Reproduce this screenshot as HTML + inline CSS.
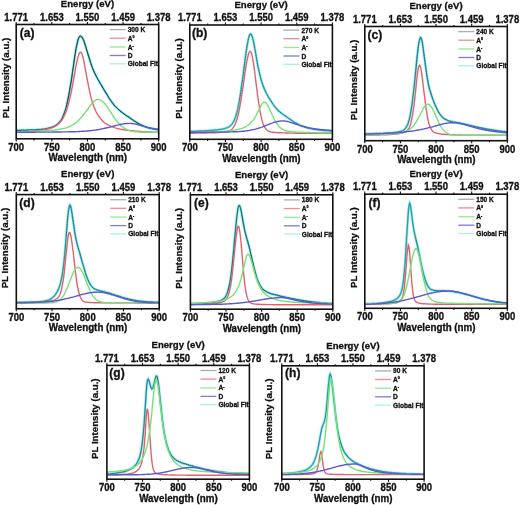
<!DOCTYPE html>
<html><head><meta charset="utf-8"><title>PL spectra</title>
<style>
html,body{margin:0;padding:0;background:#fff;}
svg{display:block;filter:blur(0.3px);}
text{font-family:'Liberation Sans', Arial, Helvetica, sans-serif;font-weight:bold;fill:#111;stroke:#111;stroke-width:0.3px;}
.tk{font-size:9.5px;text-anchor:middle;}
.ti{font-size:9.6px;text-anchor:middle;}
.tw{font-size:9.8px;text-anchor:middle;}
.yl{font-size:9.7px;text-anchor:middle;}
.pl{font-size:12px;}
.lg{font-size:6.6px;}
.sup{font-size:3.6px;}
</style></head>
<body>
<svg width="520" height="505" viewBox="0 0 520 505">
<defs><clipPath id="clipa"><rect x="16.2" y="24.5" width="142.50" height="114.30"/></clipPath>
<clipPath id="clipb"><rect x="189.8" y="25.0" width="142.60" height="114.30"/></clipPath>
<clipPath id="clipc"><rect x="364.8" y="26.5" width="142.50" height="114.20"/></clipPath>
<clipPath id="clipd"><rect x="16.3" y="194.6" width="142.90" height="114.15"/></clipPath>
<clipPath id="clipe"><rect x="190.4" y="194.8" width="142.40" height="114.40"/></clipPath>
<clipPath id="clipf"><rect x="364.8" y="194.2" width="142.50" height="114.10"/></clipPath>
<clipPath id="clipg"><rect x="106.9" y="365.4" width="142.50" height="113.80"/></clipPath>
<clipPath id="cliph"><rect x="281.8" y="365.8" width="142.30" height="113.40"/></clipPath></defs>
<rect width="520" height="505" fill="#fff"/>
<g clip-path="url(#clipa)">
<path d="M16.2,130.4 16.9,130.4 17.6,130.4 18.3,130.4 19.1,130.4 19.8,130.3 20.5,130.3 21.2,130.3 21.9,130.3 22.6,130.3 23.3,130.3 24.0,130.2 24.8,130.2 25.5,130.2 26.2,130.2 26.9,130.2 27.6,130.2 28.3,130.1 29.0,130.1 29.7,130.1 30.4,130.1 31.2,130.0 31.9,130.0 32.6,130.0 33.3,129.9 34.0,129.9 34.7,129.9 35.4,129.8 36.1,129.8 36.9,129.7 37.6,129.7 38.3,129.6 39.0,129.6 39.7,129.5 40.4,129.5 41.1,129.4 41.9,129.3 42.6,129.2 43.3,129.2 44.0,129.1 44.7,129.0 45.4,128.8 46.1,128.7 46.8,128.6 47.5,128.5 48.3,128.3 49.0,128.1 49.7,127.9 50.4,127.7 51.1,127.5 51.8,127.3 52.5,127.0 53.2,126.7 54.0,126.4 54.7,126.0 55.4,125.6 56.1,125.2 56.8,124.7 57.5,124.1 58.2,123.5 59.0,122.7 59.7,121.9 60.4,121.0 61.1,120.0 61.8,118.8 62.5,117.4 63.2,115.8 63.9,114.1 64.7,112.1 65.4,109.9 66.1,107.4 66.8,104.6 67.5,101.5 68.2,98.2 68.9,94.5 69.6,90.6 70.3,86.4 71.1,81.9 71.8,77.2 72.5,72.4 73.2,67.5 73.9,62.6 74.6,57.8 75.3,53.2 76.0,48.9 76.8,45.1 77.5,41.9 78.2,39.3 78.9,37.6 79.6,36.6 80.3,36.2 81.0,36.3 81.8,36.9 82.5,38.0 83.2,39.4 83.9,41.1 84.6,43.1 85.3,45.3 86.0,47.6 86.7,50.0 87.5,52.4 88.2,54.8 88.9,57.2 89.6,59.5 90.3,61.7 91.0,63.8 91.7,65.9 92.4,67.8 93.2,69.6 93.9,71.3 94.6,72.9 95.3,74.3 96.0,75.7 96.7,77.1 97.4,78.4 98.1,79.6 98.9,80.9 99.6,82.1 100.3,83.3 101.0,84.6 101.7,85.8 102.4,87.0 103.1,88.2 103.8,89.4 104.6,90.6 105.3,91.8 106.0,93.0 106.7,94.2 107.4,95.4 108.1,96.5 108.8,97.7 109.5,98.8 110.2,99.8 111.0,100.9 111.7,101.9 112.4,102.9 113.1,103.8 113.8,104.7 114.5,105.5 115.2,106.3 116.0,107.1 116.7,107.8 117.4,108.5 118.1,109.2 118.8,109.8 119.5,110.4 120.2,111.0 120.9,111.6 121.7,112.1 122.4,112.7 123.1,113.2 123.8,113.7 124.5,114.2 125.2,114.7 125.9,115.2 126.6,115.7 127.4,116.2 128.1,116.7 128.8,117.2 129.5,117.7 130.2,118.2 130.9,118.7 131.6,119.1 132.3,119.6 133.1,120.1 133.8,120.6 134.5,121.0 135.2,121.5 135.9,121.9 136.6,122.4 137.3,122.8 138.0,123.2 138.8,123.6 139.5,124.0 140.2,124.4 140.9,124.8 141.6,125.1 142.3,125.5 143.0,125.8 143.7,126.1 144.4,126.4 145.2,126.7 145.9,127.0 146.6,127.2 147.3,127.4 148.0,127.7 148.7,127.9 149.4,128.1 150.2,128.3 150.9,128.4 151.6,128.6 152.3,128.7 153.0,128.9 153.7,129.0 154.4,129.1 155.1,129.2 155.8,129.3 156.6,129.4 157.3,129.5 158.0,129.6 158.7,129.7" fill="none" stroke="#b4f1f4" stroke-width="3.0"/>
<path d="M16.2,130.4 16.9,130.4 17.6,130.4 18.3,130.4 19.1,130.4 19.8,130.3 20.5,130.3 21.2,130.3 21.9,130.3 22.6,130.3 23.3,130.3 24.0,130.2 24.8,130.2 25.5,130.2 26.2,130.2 26.9,130.2 27.6,130.2 28.3,130.1 29.0,130.1 29.7,130.1 30.4,130.1 31.2,130.0 31.9,130.0 32.6,130.0 33.3,129.9 34.0,129.9 34.7,129.9 35.4,129.8 36.1,129.8 36.9,129.7 37.6,129.7 38.3,129.6 39.0,129.6 39.7,129.5 40.4,129.5 41.1,129.4 41.9,129.3 42.6,129.2 43.3,129.2 44.0,129.1 44.7,129.0 45.4,128.8 46.1,128.7 46.8,128.6 47.5,128.5 48.3,128.3 49.0,128.1 49.7,127.9 50.4,127.7 51.1,127.5 51.8,127.3 52.5,127.0 53.2,126.7 54.0,126.4 54.7,126.0 55.4,125.6 56.1,125.2 56.8,124.7 57.5,124.1 58.2,123.5 59.0,122.7 59.7,121.9 60.4,121.0 61.1,120.0 61.8,118.8 62.5,117.4 63.2,115.8 63.9,114.1 64.7,112.1 65.4,109.9 66.1,107.4 66.8,104.6 67.5,101.5 68.2,98.2 68.9,94.5 69.6,90.6 70.3,86.4 71.1,81.9 71.8,77.2 72.5,72.4 73.2,67.5 73.9,62.6 74.6,57.8 75.3,53.2 76.0,48.9 76.8,45.1 77.5,41.9 78.2,39.3 78.9,37.6 79.6,36.6 80.3,36.2 81.0,36.3 81.8,36.9 82.5,38.0 83.2,39.4 83.9,41.1 84.6,43.1 85.3,45.3 86.0,47.6 86.7,50.0 87.5,52.4 88.2,54.8 88.9,57.2 89.6,59.5 90.3,61.7 91.0,63.8 91.7,65.9 92.4,67.8 93.2,69.6 93.9,71.3 94.6,72.9 95.3,74.3 96.0,75.7 96.7,77.1 97.4,78.4 98.1,79.6 98.9,80.9 99.6,82.1 100.3,83.3 101.0,84.6 101.7,85.8 102.4,87.0 103.1,88.2 103.8,89.4 104.6,90.6 105.3,91.8 106.0,93.0 106.7,94.2 107.4,95.4 108.1,96.5 108.8,97.7 109.5,98.8 110.2,99.8 111.0,100.9 111.7,101.9 112.4,102.9 113.1,103.8 113.8,104.7 114.5,105.5 115.2,106.3 116.0,107.1 116.7,107.8 117.4,108.5 118.1,109.2 118.8,109.8 119.5,110.4 120.2,111.0 120.9,111.6 121.7,112.1 122.4,112.7 123.1,113.2 123.8,113.7 124.5,114.2 125.2,114.7 125.9,115.2 126.6,115.7 127.4,116.2 128.1,116.7 128.8,117.2 129.5,117.7 130.2,118.2 130.9,118.7 131.6,119.1 132.3,119.6 133.1,120.1 133.8,120.6 134.5,121.0 135.2,121.5 135.9,121.9 136.6,122.4 137.3,122.8 138.0,123.2 138.8,123.6 139.5,124.0 140.2,124.4 140.9,124.8 141.6,125.1 142.3,125.5 143.0,125.8 143.7,126.1 144.4,126.4 145.2,126.7 145.9,127.0 146.6,127.2 147.3,127.4 148.0,127.7 148.7,127.9 149.4,128.1 150.2,128.3 150.9,128.4 151.6,128.6 152.3,128.7 153.0,128.9 153.7,129.0 154.4,129.1 155.1,129.2 155.8,129.3 156.6,129.4 157.3,129.5 158.0,129.6 158.7,129.7" fill="none" stroke="#40c0cc" stroke-width="1.5"/>
<path d="M16.2,130.2 16.9,130.2 17.6,130.2 18.3,130.6 19.1,130.6 19.8,130.2 20.5,130.5 21.2,130.1 21.9,130.2 22.6,130.1 23.3,130.1 24.0,130.1 24.8,130.5 25.5,130.4 26.2,130.1 26.9,130.1 27.6,130.0 28.3,130.0 29.0,129.8 29.7,130.4 30.4,130.0 31.2,129.8 31.9,129.8 32.6,129.8 33.3,130.2 34.0,129.7 34.7,130.1 35.4,129.8 36.1,129.7 36.9,129.6 37.6,129.8 38.3,129.8 39.0,129.8 39.7,129.6 40.4,129.5 41.1,129.4 41.9,129.1 42.6,129.3 43.3,129.2 44.0,129.0 44.7,129.2 45.4,128.9 46.1,128.7 46.8,128.5 47.5,128.4 48.3,128.1 49.0,128.1 49.7,127.8 50.4,127.7 51.1,127.3 51.8,127.5 52.5,126.8 53.2,126.7 54.0,126.3 54.7,126.0 55.4,125.5 56.1,125.0 56.8,124.5 57.5,124.4 58.2,123.2 59.0,122.7 59.7,122.1 60.4,121.0 61.1,120.2 61.8,119.0 62.5,117.7 63.2,115.8 63.9,114.0 64.7,112.3 65.4,110.1 66.1,107.4 66.8,104.8 67.5,101.3 68.2,98.2 68.9,94.4 69.6,90.7 70.3,86.1 71.1,82.1 71.8,77.3 72.5,72.3 73.2,67.6 73.9,62.5 74.6,57.9 75.3,53.1 76.0,48.6 76.8,45.0 77.5,41.8 78.2,39.6 78.9,37.5 79.6,36.4 80.3,36.0 81.0,36.4 81.8,37.0 82.5,38.0 83.2,39.5 83.9,40.8 84.6,43.2 85.3,45.5 86.0,47.4 86.7,50.0 87.5,52.7 88.2,55.0 88.9,57.0 89.6,59.2 90.3,61.7 91.0,63.7 91.7,65.6 92.4,67.8 93.2,69.7 93.9,71.3 94.6,73.0 95.3,74.2 96.0,75.9 96.7,77.1 97.4,78.2 98.1,79.8 98.9,81.0 99.6,82.2 100.3,83.5 101.0,84.7 101.7,85.5 102.4,87.2 103.1,88.2 103.8,89.5 104.6,90.5 105.3,91.9 106.0,93.1 106.7,94.0 107.4,95.2 108.1,96.3 108.8,97.8 109.5,98.6 110.2,99.9 111.0,100.6 111.7,101.7 112.4,102.9 113.1,103.6 113.8,104.8 114.5,105.8 115.2,106.3 116.0,106.9 116.7,107.6 117.4,108.4 118.1,109.1 118.8,109.6 119.5,110.4 120.2,111.2 120.9,111.3 121.7,112.3 122.4,112.5 123.1,113.4 123.8,113.7 124.5,114.5 125.2,114.8 125.9,115.5 126.6,115.7 127.4,116.2 128.1,116.9 128.8,117.1 129.5,117.7 130.2,118.3 130.9,118.6 131.6,119.1 132.3,119.4 133.1,120.4 133.8,120.9 134.5,121.3 135.2,121.3 135.9,122.1 136.6,122.7 137.3,123.0 138.0,123.1 138.8,123.5 139.5,124.3 140.2,124.6 140.9,125.0 141.6,125.0 142.3,125.4 143.0,125.7 143.7,126.1 144.4,126.3 145.2,126.5 145.9,126.9 146.6,127.1 147.3,127.2 148.0,127.8 148.7,127.9 149.4,127.9 150.2,128.5 150.9,128.2 151.6,128.4 152.3,128.5 153.0,129.1 153.7,128.7 154.4,129.0 155.1,129.0 155.8,129.6 156.6,129.2 157.3,129.6 158.0,129.6 158.7,129.8" fill="none" stroke="#1e3434" stroke-width="1.0" stroke-opacity="0.85"/>
<path d="M66.8,104.2 67.5,101.3 68.2,98.6 68.9,94.7 69.6,90.5 70.3,86.5 71.1,81.8 71.8,77.8 72.5,72.2 73.2,68.0 73.9,63.0 74.6,57.8 75.3,53.6 76.0,48.8 76.8,45.6 77.5,42.0 78.2,38.8 78.9,37.4 79.6,36.9 80.3,35.7 81.0,36.8 81.8,37.1 82.5,38.3 83.2,39.2 83.9,40.7 84.6,42.7 85.3,45.8 86.0,48.1 86.7,50.5 87.5,52.4 88.2,54.9 88.9,57.5 89.6,59.1 90.3,61.8 91.0,64.0 91.7,65.9 92.4,67.3 93.2,69.9 93.9,71.1 94.6,73.1 95.3,74.3 96.0,75.9 96.7,77.6 97.4,78.3 98.1,79.3 98.9,80.6 99.6,81.6 100.3,83.9 101.0,85.1 101.7,85.4 102.4,86.7 103.1,88.4 103.8,89.8 104.6,90.2 105.3,92.3 106.0,92.5 106.7,94.3 107.4,95.1 108.1,96.2 108.8,97.9 109.5,99.4 110.2,99.5 111.0,101.2 111.7,102.3 112.4,102.9 113.1,103.8 113.8,105.0 114.5,105.3 115.2,106.1 116.0,107.3 116.7,107.9 117.4,108.3 118.1,109.7 118.8,110.0 119.5,110.3 120.2,111.1 120.9,111.3 121.7,112.2 122.4,112.2 123.1,113.4 123.8,114.1 124.5,114.2 125.2,114.5 125.9,115.3 126.6,115.7 127.4,116.7 128.1,116.1 128.8,117.6 129.5,118.0 130.2,117.7 130.9,118.7 131.6,119.7 132.3,120.2 133.1,120.5 133.8,120.7 134.5,121.2 135.2,122.0 135.9,122.3 136.6,122.0 137.3,123.3 138.0,123.3 138.8,123.2 139.5,123.6 140.2,124.6 140.9,125.0 141.6,125.7 142.3,125.4 143.0,126.0 143.7,125.7 144.4,126.6 145.2,126.5 145.9,127.2 146.6,127.1 147.3,127.2 148.0,127.5 148.7,128.3 149.4,128.1 150.2,127.7 150.9,128.4 151.6,128.6 152.3,128.9 153.0,129.4 153.7,129.1 154.4,129.4 155.1,128.9 155.8,129.2 156.6,129.9 157.3,129.9 158.0,129.6 158.7,129.7" fill="none" stroke="#1a2a2a" stroke-width="0.9" stroke-dasharray="0.7 1.9" stroke-opacity="0.55"/>
<path d="M16.2,132.2 16.9,132.2 17.6,132.1 18.3,132.1 19.1,132.1 19.8,132.0 20.5,132.0 21.2,132.0 21.9,131.9 22.6,131.9 23.3,131.9 24.0,131.8 24.8,131.8 25.5,131.8 26.2,131.7 26.9,131.7 27.6,131.6 28.3,131.6 29.0,131.5 29.7,131.5 30.4,131.4 31.2,131.4 31.9,131.3 32.6,131.2 33.3,131.2 34.0,131.1 34.7,131.0 35.4,131.0 36.1,130.9 36.9,130.8 37.6,130.7 38.3,130.6 39.0,130.5 39.7,130.4 40.4,130.3 41.1,130.2 41.9,130.1 42.6,130.0 43.3,129.9 44.0,129.8 44.7,129.6 45.4,129.5 46.1,129.3 46.8,129.2 47.5,129.0 48.3,128.8 49.0,128.6 49.7,128.4 50.4,128.2 51.1,127.9 51.8,127.7 52.5,127.4 53.2,127.1 54.0,126.8 54.7,126.4 55.4,126.0 56.1,125.6 56.8,125.1 57.5,124.6 58.2,124.0 59.0,123.4 59.7,122.7 60.4,121.9 61.1,121.0 61.8,120.1 62.5,119.0 63.2,117.8 63.9,116.4 64.7,114.9 65.4,113.3 66.1,111.4 66.8,109.4 67.5,107.2 68.2,104.7 68.9,102.1 69.6,99.2 70.3,96.1 71.1,92.8 71.8,89.3 72.5,85.7 73.2,81.8 73.9,77.9 74.6,73.9 75.3,69.9 76.0,66.0 76.8,62.4 77.5,59.1 78.2,56.4 78.9,54.2 79.6,52.8 80.3,52.2 81.0,52.4 81.8,53.6 82.5,55.5 83.2,58.2 83.9,61.4 84.6,65.0 85.3,68.9 86.0,72.9 86.7,76.8 87.5,80.7 88.2,84.4 88.9,87.9 89.6,91.2 90.3,94.3 91.0,97.1 91.7,99.8 92.4,102.2 93.2,104.4 93.9,106.4 94.6,108.2 95.3,109.9 96.0,111.5 96.7,112.9 97.4,114.2 98.1,115.4 98.9,116.5 99.6,117.5 100.3,118.4 101.0,119.3 101.7,120.1 102.4,120.8 103.1,121.4 103.8,122.1 104.6,122.6 105.3,123.2 106.0,123.7 106.7,124.1 107.4,124.6 108.1,125.0 108.8,125.4 109.5,125.7 110.2,126.0 111.0,126.4 111.7,126.6 112.4,126.9 113.1,127.2 113.8,127.4 114.5,127.7 115.2,127.9 116.0,128.1 116.7,128.3 117.4,128.5 118.1,128.6 118.8,128.8 119.5,129.0 120.2,129.1 120.9,129.3 121.7,129.4 122.4,129.5 123.1,129.6 123.8,129.8 124.5,129.9 125.2,130.0 125.9,130.1 126.6,130.2 127.4,130.3 128.1,130.4 128.8,130.4 129.5,130.5 130.2,130.6 130.9,130.7 131.6,130.8 132.3,130.8 133.1,130.9 133.8,131.0 134.5,131.0 135.2,131.1 135.9,131.1 136.6,131.2 137.3,131.3 138.0,131.3 138.8,131.4 139.5,131.4 140.2,131.5 140.9,131.5 141.6,131.5 142.3,131.6 143.0,131.6 143.7,131.7 144.4,131.7 145.2,131.7 145.9,131.8 146.6,131.8 147.3,131.8 148.0,131.9 148.7,131.9 149.4,131.9 150.2,132.0 150.9,132.0 151.6,132.0 152.3,132.1 153.0,132.1 153.7,132.1 154.4,132.1 155.1,132.2 155.8,132.2 156.6,132.2 157.3,132.2 158.0,132.2 158.7,132.3" fill="none" stroke="#e2626c" stroke-width="1.4"/>
<path d="M16.2,131.6 16.9,131.6 17.6,131.6 18.3,131.6 19.1,131.6 19.8,131.6 20.5,131.6 21.2,131.5 21.9,131.5 22.6,131.5 23.3,131.5 24.0,131.5 24.8,131.5 25.5,131.5 26.2,131.4 26.9,131.4 27.6,131.4 28.3,131.4 29.0,131.4 29.7,131.3 30.4,131.3 31.2,131.3 31.9,131.3 32.6,131.3 33.3,131.2 34.0,131.2 34.7,131.2 35.4,131.2 36.1,131.1 36.9,131.1 37.6,131.1 38.3,131.1 39.0,131.0 39.7,131.0 40.4,131.0 41.1,130.9 41.9,130.9 42.6,130.9 43.3,130.8 44.0,130.8 44.7,130.8 45.4,130.7 46.1,130.7 46.8,130.6 47.5,130.6 48.3,130.5 49.0,130.5 49.7,130.4 50.4,130.4 51.1,130.3 51.8,130.3 52.5,130.2 53.2,130.1 54.0,130.1 54.7,130.0 55.4,129.9 56.1,129.8 56.8,129.7 57.5,129.6 58.2,129.5 59.0,129.4 59.7,129.3 60.4,129.2 61.1,129.1 61.8,128.9 62.5,128.8 63.2,128.6 63.9,128.4 64.7,128.3 65.4,128.1 66.1,127.8 66.8,127.6 67.5,127.4 68.2,127.1 68.9,126.8 69.6,126.5 70.3,126.2 71.1,125.8 71.8,125.4 72.5,125.0 73.2,124.6 73.9,124.1 74.6,123.6 75.3,123.1 76.0,122.6 76.8,122.0 77.5,121.4 78.2,120.7 78.9,120.0 79.6,119.3 80.3,118.6 81.0,117.8 81.8,117.0 82.5,116.1 83.2,115.2 83.9,114.3 84.6,113.4 85.3,112.4 86.0,111.5 86.7,110.5 87.5,109.5 88.2,108.5 88.9,107.5 89.6,106.6 90.3,105.6 91.0,104.7 91.7,103.8 92.4,103.0 93.2,102.2 93.9,101.5 94.6,100.9 95.3,100.4 96.0,100.0 96.7,99.7 97.4,99.5 98.1,99.5 98.9,99.5 99.6,99.7 100.3,100.0 101.0,100.3 101.7,100.8 102.4,101.3 103.1,102.0 103.8,102.7 104.6,103.5 105.3,104.3 106.0,105.3 106.7,106.2 107.4,107.2 108.1,108.3 108.8,109.3 109.5,110.4 110.2,111.5 111.0,112.6 111.7,113.7 112.4,114.8 113.1,115.9 113.8,117.0 114.5,118.0 115.2,119.0 116.0,120.0 116.7,120.9 117.4,121.8 118.1,122.6 118.8,123.4 119.5,124.2 120.2,124.9 120.9,125.6 121.7,126.2 122.4,126.8 123.1,127.3 123.8,127.9 124.5,128.3 125.2,128.7 125.9,129.1 126.6,129.5 127.4,129.8 128.1,130.1 128.8,130.3 129.5,130.6 130.2,130.8 130.9,131.0 131.6,131.1 132.3,131.3 133.1,131.4 133.8,131.5 134.5,131.6 135.2,131.7 135.9,131.8 136.6,131.8 137.3,131.9 138.0,131.9 138.8,132.0 139.5,132.0 140.2,132.1 140.9,132.1 141.6,132.1 142.3,132.1 143.0,132.1 143.7,132.2 144.4,132.2 145.2,132.2 145.9,132.2 146.6,132.2 147.3,132.2 148.0,132.2 148.7,132.2 149.4,132.2 150.2,132.2 150.9,132.2 151.6,132.2 152.3,132.2 153.0,132.2 153.7,132.2 154.4,132.2 155.1,132.3 155.8,132.3 156.6,132.3 157.3,132.3 158.0,132.3 158.7,132.3" fill="none" stroke="#74e274" stroke-width="1.4"/>
<path d="M16.2,132.2 16.9,132.2 17.6,132.2 18.3,132.2 19.1,132.2 19.8,132.2 20.5,132.2 21.2,132.2 21.9,132.2 22.6,132.2 23.3,132.2 24.0,132.2 24.8,132.2 25.5,132.2 26.2,132.2 26.9,132.2 27.6,132.2 28.3,132.2 29.0,132.2 29.7,132.2 30.4,132.2 31.2,132.2 31.9,132.2 32.6,132.2 33.3,132.2 34.0,132.2 34.7,132.2 35.4,132.2 36.1,132.1 36.9,132.1 37.6,132.1 38.3,132.1 39.0,132.1 39.7,132.1 40.4,132.1 41.1,132.1 41.9,132.1 42.6,132.1 43.3,132.1 44.0,132.1 44.7,132.1 45.4,132.1 46.1,132.1 46.8,132.1 47.5,132.1 48.3,132.1 49.0,132.1 49.7,132.1 50.4,132.1 51.1,132.1 51.8,132.1 52.5,132.0 53.2,132.0 54.0,132.0 54.7,132.0 55.4,132.0 56.1,132.0 56.8,132.0 57.5,132.0 58.2,132.0 59.0,132.0 59.7,132.0 60.4,132.0 61.1,132.0 61.8,131.9 62.5,131.9 63.2,131.9 63.9,131.9 64.7,131.9 65.4,131.9 66.1,131.9 66.8,131.9 67.5,131.9 68.2,131.8 68.9,131.8 69.6,131.8 70.3,131.8 71.1,131.8 71.8,131.8 72.5,131.7 73.2,131.7 73.9,131.7 74.6,131.7 75.3,131.7 76.0,131.6 76.8,131.6 77.5,131.6 78.2,131.5 78.9,131.5 79.6,131.5 80.3,131.4 81.0,131.4 81.8,131.4 82.5,131.3 83.2,131.3 83.9,131.2 84.6,131.2 85.3,131.1 86.0,131.1 86.7,131.0 87.5,131.0 88.2,130.9 88.9,130.8 89.6,130.8 90.3,130.7 91.0,130.6 91.7,130.5 92.4,130.4 93.2,130.4 93.9,130.3 94.6,130.2 95.3,130.1 96.0,130.0 96.7,129.8 97.4,129.7 98.1,129.6 98.9,129.5 99.6,129.4 100.3,129.2 101.0,129.1 101.7,128.9 102.4,128.8 103.1,128.6 103.8,128.5 104.6,128.3 105.3,128.2 106.0,128.0 106.7,127.8 107.4,127.7 108.1,127.5 108.8,127.3 109.5,127.1 110.2,127.0 111.0,126.8 111.7,126.6 112.4,126.4 113.1,126.2 113.8,126.0 114.5,125.8 115.2,125.7 116.0,125.5 116.7,125.3 117.4,125.1 118.1,125.0 118.8,124.8 119.5,124.6 120.2,124.5 120.9,124.3 121.7,124.2 122.4,124.1 123.1,123.9 123.8,123.8 124.5,123.7 125.2,123.6 125.9,123.6 126.6,123.5 127.4,123.5 128.1,123.4 128.8,123.4 129.5,123.4 130.2,123.4 130.9,123.5 131.6,123.5 132.3,123.6 133.1,123.7 133.8,123.8 134.5,123.9 135.2,124.1 135.9,124.2 136.6,124.4 137.3,124.6 138.0,124.8 138.8,125.0 139.5,125.2 140.2,125.4 140.9,125.6 141.6,125.8 142.3,126.0 143.0,126.2 143.7,126.4 144.4,126.6 145.2,126.7 145.9,126.9 146.6,127.1 147.3,127.3 148.0,127.5 148.7,127.6 149.4,127.8 150.2,127.9 150.9,128.1 151.6,128.2 152.3,128.4 153.0,128.5 153.7,128.6 154.4,128.8 155.1,128.9 155.8,129.0 156.6,129.1 157.3,129.2 158.0,129.3 158.7,129.4" fill="none" stroke="#5c58d2" stroke-width="1.4"/>
</g>
<rect x="16.2" y="24.5" width="142.50" height="114.30" fill="none" stroke="#111" stroke-width="1.6"/>
<line x1="16.20" y1="138.8" x2="16.20" y2="141.4" stroke="#111" stroke-width="1.1"/>
<line x1="16.20" y1="24.5" x2="16.20" y2="21.9" stroke="#111" stroke-width="1.1"/>
<line x1="34.01" y1="138.8" x2="34.01" y2="140.4" stroke="#111" stroke-width="1.1"/>
<line x1="34.01" y1="24.5" x2="34.01" y2="22.9" stroke="#111" stroke-width="1.1"/>
<line x1="51.83" y1="138.8" x2="51.83" y2="141.4" stroke="#111" stroke-width="1.1"/>
<line x1="51.83" y1="24.5" x2="51.83" y2="21.9" stroke="#111" stroke-width="1.1"/>
<line x1="69.64" y1="138.8" x2="69.64" y2="140.4" stroke="#111" stroke-width="1.1"/>
<line x1="69.64" y1="24.5" x2="69.64" y2="22.9" stroke="#111" stroke-width="1.1"/>
<line x1="87.45" y1="138.8" x2="87.45" y2="141.4" stroke="#111" stroke-width="1.1"/>
<line x1="87.45" y1="24.5" x2="87.45" y2="21.9" stroke="#111" stroke-width="1.1"/>
<line x1="105.26" y1="138.8" x2="105.26" y2="140.4" stroke="#111" stroke-width="1.1"/>
<line x1="105.26" y1="24.5" x2="105.26" y2="22.9" stroke="#111" stroke-width="1.1"/>
<line x1="123.08" y1="138.8" x2="123.08" y2="141.4" stroke="#111" stroke-width="1.1"/>
<line x1="123.08" y1="24.5" x2="123.08" y2="21.9" stroke="#111" stroke-width="1.1"/>
<line x1="140.89" y1="138.8" x2="140.89" y2="140.4" stroke="#111" stroke-width="1.1"/>
<line x1="140.89" y1="24.5" x2="140.89" y2="22.9" stroke="#111" stroke-width="1.1"/>
<line x1="158.70" y1="138.8" x2="158.70" y2="141.4" stroke="#111" stroke-width="1.1"/>
<line x1="158.70" y1="24.5" x2="158.70" y2="21.9" stroke="#111" stroke-width="1.1"/>
<text transform="translate(16.20,150.60) scale(1,1.15)" class="tk">700</text>
<text transform="translate(16.20,20.60) scale(1,1.15)" class="tk">1.771</text>
<text transform="translate(51.83,150.60) scale(1,1.15)" class="tk">750</text>
<text transform="translate(51.83,20.60) scale(1,1.15)" class="tk">1.653</text>
<text transform="translate(87.45,150.60) scale(1,1.15)" class="tk">800</text>
<text transform="translate(87.45,20.60) scale(1,1.15)" class="tk">1.550</text>
<text transform="translate(123.08,150.60) scale(1,1.15)" class="tk">850</text>
<text transform="translate(123.08,20.60) scale(1,1.15)" class="tk">1.459</text>
<text transform="translate(158.70,150.60) scale(1,1.15)" class="tk">900</text>
<text transform="translate(158.70,20.60) scale(1,1.15)" class="tk">1.378</text>
<text transform="translate(87.75,161.20) scale(1,1.02)" class="tw">Wavelength (nm)</text>
<text transform="translate(87.45,7.20) scale(1,1.0)" class="ti">Energy (eV)</text>
<text transform="translate(8.80,78.05) rotate(-90) scale(1,1.0)" class="yl">PL Intensity (a.u.)</text>
<text transform="translate(19.80,37.10) scale(1,1.0)" class="pl">(a)</text>
<line x1="109.70" y1="29.60" x2="125.70" y2="29.60" stroke="#ababab" stroke-width="1.3"/>
<text transform="translate(127.70,32.10) scale(1,1.1)" class="lg">300 K</text>
<line x1="109.70" y1="38.20" x2="125.70" y2="38.20" stroke="#f08a90" stroke-width="1.3"/>
<text transform="translate(127.70,40.70) scale(1,1.1)" class="lg">A<tspan class="sup" dy="-2.3">0</tspan></text>
<line x1="109.70" y1="47.00" x2="125.70" y2="47.00" stroke="#92ea92" stroke-width="1.3"/>
<text transform="translate(127.70,49.50) scale(1,1.1)" class="lg">A<tspan class="sup" dy="-2.3">-</tspan></text>
<line x1="109.70" y1="55.50" x2="125.70" y2="55.50" stroke="#7c7adc" stroke-width="1.3"/>
<text transform="translate(127.70,58.00) scale(1,1.1)" class="lg">D</text>
<line x1="109.70" y1="63.80" x2="125.70" y2="63.80" stroke="#a8eef0" stroke-width="1.3"/>
<text transform="translate(127.70,66.30) scale(1,1.1)" class="lg">Global Fit</text>
<g clip-path="url(#clipb)">
<path d="M189.8,131.4 190.5,131.4 191.2,131.3 191.9,131.3 192.7,131.3 193.4,131.3 194.1,131.3 194.8,131.2 195.5,131.2 196.2,131.2 196.9,131.2 197.6,131.1 198.4,131.1 199.1,131.1 199.8,131.1 200.5,131.0 201.2,131.0 201.9,131.0 202.6,130.9 203.3,130.9 204.1,130.9 204.8,130.8 205.5,130.8 206.2,130.7 206.9,130.7 207.6,130.7 208.3,130.6 209.1,130.6 209.8,130.5 210.5,130.5 211.2,130.4 211.9,130.4 212.6,130.3 213.3,130.2 214.0,130.2 214.8,130.1 215.5,130.0 216.2,130.0 216.9,129.9 217.6,129.8 218.3,129.7 219.0,129.6 219.7,129.5 220.5,129.4 221.2,129.3 221.9,129.2 222.6,129.0 223.3,128.9 224.0,128.7 224.7,128.5 225.4,128.3 226.2,128.1 226.9,127.9 227.6,127.6 228.3,127.2 229.0,126.8 229.7,126.3 230.4,125.7 231.2,125.0 231.9,124.2 232.6,123.2 233.3,122.1 234.0,120.7 234.7,119.1 235.4,117.2 236.1,115.0 236.9,112.5 237.6,109.6 238.3,106.3 239.0,102.7 239.7,98.7 240.4,94.3 241.1,89.6 241.8,84.6 242.6,79.3 243.3,73.8 244.0,68.3 244.7,62.7 245.4,57.3 246.1,52.1 246.8,47.3 247.6,43.0 248.3,39.4 249.0,36.7 249.7,34.8 250.4,33.9 251.1,34.1 251.8,35.4 252.5,37.6 253.3,40.5 254.0,44.0 254.7,47.8 255.4,51.8 256.1,55.9 256.8,59.9 257.5,63.8 258.2,67.5 259.0,70.9 259.7,74.0 260.4,76.9 261.1,79.5 261.8,81.9 262.5,84.1 263.2,86.1 264.0,87.9 264.7,89.6 265.4,91.1 266.1,92.6 266.8,94.0 267.5,95.3 268.2,96.5 268.9,97.8 269.7,99.0 270.4,100.1 271.1,101.2 271.8,102.3 272.5,103.4 273.2,104.4 273.9,105.4 274.6,106.4 275.4,107.3 276.1,108.1 276.8,108.9 277.5,109.7 278.2,110.4 278.9,111.1 279.6,111.7 280.4,112.3 281.1,112.9 281.8,113.5 282.5,114.0 283.2,114.5 283.9,115.0 284.6,115.5 285.3,116.0 286.1,116.5 286.8,117.0 287.5,117.5 288.2,118.0 288.9,118.5 289.6,119.0 290.3,119.5 291.0,120.0 291.8,120.5 292.5,121.0 293.2,121.4 293.9,121.9 294.6,122.3 295.3,122.7 296.0,123.1 296.8,123.5 297.5,123.9 298.2,124.3 298.9,124.6 299.6,124.9 300.3,125.3 301.0,125.6 301.7,125.9 302.5,126.2 303.2,126.4 303.9,126.7 304.6,126.9 305.3,127.2 306.0,127.4 306.7,127.6 307.4,127.8 308.2,128.0 308.9,128.1 309.6,128.3 310.3,128.5 311.0,128.6 311.7,128.8 312.4,128.9 313.1,129.0 313.9,129.2 314.6,129.3 315.3,129.4 316.0,129.5 316.7,129.6 317.4,129.7 318.1,129.8 318.9,129.9 319.6,129.9 320.3,130.0 321.0,130.1 321.7,130.2 322.4,130.2 323.1,130.3 323.8,130.3 324.6,130.4 325.3,130.5 326.0,130.5 326.7,130.6 327.4,130.6 328.1,130.6 328.8,130.7 329.5,130.7 330.3,130.8 331.0,130.8 331.7,130.8 332.4,130.9" fill="none" stroke="#b4f1f4" stroke-width="3.0"/>
<path d="M189.8,131.4 190.5,131.4 191.2,131.3 191.9,131.3 192.7,131.3 193.4,131.3 194.1,131.3 194.8,131.2 195.5,131.2 196.2,131.2 196.9,131.2 197.6,131.1 198.4,131.1 199.1,131.1 199.8,131.1 200.5,131.0 201.2,131.0 201.9,131.0 202.6,130.9 203.3,130.9 204.1,130.9 204.8,130.8 205.5,130.8 206.2,130.7 206.9,130.7 207.6,130.7 208.3,130.6 209.1,130.6 209.8,130.5 210.5,130.5 211.2,130.4 211.9,130.4 212.6,130.3 213.3,130.2 214.0,130.2 214.8,130.1 215.5,130.0 216.2,130.0 216.9,129.9 217.6,129.8 218.3,129.7 219.0,129.6 219.7,129.5 220.5,129.4 221.2,129.3 221.9,129.2 222.6,129.0 223.3,128.9 224.0,128.7 224.7,128.5 225.4,128.3 226.2,128.1 226.9,127.9 227.6,127.6 228.3,127.2 229.0,126.8 229.7,126.3 230.4,125.7 231.2,125.0 231.9,124.2 232.6,123.2 233.3,122.1 234.0,120.7 234.7,119.1 235.4,117.2 236.1,115.0 236.9,112.5 237.6,109.6 238.3,106.3 239.0,102.7 239.7,98.7 240.4,94.3 241.1,89.6 241.8,84.6 242.6,79.3 243.3,73.8 244.0,68.3 244.7,62.7 245.4,57.3 246.1,52.1 246.8,47.3 247.6,43.0 248.3,39.4 249.0,36.7 249.7,34.8 250.4,33.9 251.1,34.1 251.8,35.4 252.5,37.6 253.3,40.5 254.0,44.0 254.7,47.8 255.4,51.8 256.1,55.9 256.8,59.9 257.5,63.8 258.2,67.5 259.0,70.9 259.7,74.0 260.4,76.9 261.1,79.5 261.8,81.9 262.5,84.1 263.2,86.1 264.0,87.9 264.7,89.6 265.4,91.1 266.1,92.6 266.8,94.0 267.5,95.3 268.2,96.5 268.9,97.8 269.7,99.0 270.4,100.1 271.1,101.2 271.8,102.3 272.5,103.4 273.2,104.4 273.9,105.4 274.6,106.4 275.4,107.3 276.1,108.1 276.8,108.9 277.5,109.7 278.2,110.4 278.9,111.1 279.6,111.7 280.4,112.3 281.1,112.9 281.8,113.5 282.5,114.0 283.2,114.5 283.9,115.0 284.6,115.5 285.3,116.0 286.1,116.5 286.8,117.0 287.5,117.5 288.2,118.0 288.9,118.5 289.6,119.0 290.3,119.5 291.0,120.0 291.8,120.5 292.5,121.0 293.2,121.4 293.9,121.9 294.6,122.3 295.3,122.7 296.0,123.1 296.8,123.5 297.5,123.9 298.2,124.3 298.9,124.6 299.6,124.9 300.3,125.3 301.0,125.6 301.7,125.9 302.5,126.2 303.2,126.4 303.9,126.7 304.6,126.9 305.3,127.2 306.0,127.4 306.7,127.6 307.4,127.8 308.2,128.0 308.9,128.1 309.6,128.3 310.3,128.5 311.0,128.6 311.7,128.8 312.4,128.9 313.1,129.0 313.9,129.2 314.6,129.3 315.3,129.4 316.0,129.5 316.7,129.6 317.4,129.7 318.1,129.8 318.9,129.9 319.6,129.9 320.3,130.0 321.0,130.1 321.7,130.2 322.4,130.2 323.1,130.3 323.8,130.3 324.6,130.4 325.3,130.5 326.0,130.5 326.7,130.6 327.4,130.6 328.1,130.6 328.8,130.7 329.5,130.7 330.3,130.8 331.0,130.8 331.7,130.8 332.4,130.9" fill="none" stroke="#40c0cc" stroke-width="1.5"/>
<path d="M189.8,131.5 190.5,131.6 191.2,131.1 191.9,131.2 192.7,131.5 193.4,131.2 194.1,131.1 194.8,131.4 195.5,131.5 196.2,130.9 196.9,131.5 197.6,131.1 198.4,131.0 199.1,130.9 199.8,131.2 200.5,130.9 201.2,131.0 201.9,130.9 202.6,131.2 203.3,130.7 204.1,131.1 204.8,130.7 205.5,130.7 206.2,130.7 206.9,131.0 207.6,130.4 208.3,130.7 209.1,130.8 209.8,130.6 210.5,130.4 211.2,130.5 211.9,130.2 212.6,130.5 213.3,130.4 214.0,130.4 214.8,130.1 215.5,129.9 216.2,129.7 216.9,129.6 217.6,129.8 218.3,129.5 219.0,129.4 219.7,129.5 220.5,129.4 221.2,129.4 221.9,129.4 222.6,129.2 223.3,128.7 224.0,128.9 224.7,128.4 225.4,128.2 226.2,128.1 226.9,127.6 227.6,127.5 228.3,127.4 229.0,127.1 229.7,126.2 230.4,125.7 231.2,124.8 231.9,124.2 232.6,123.3 233.3,121.9 234.0,121.0 234.7,119.3 235.4,117.2 236.1,114.9 236.9,112.6 237.6,109.4 238.3,106.2 239.0,102.7 239.7,98.8 240.4,94.1 241.1,89.4 241.8,84.6 242.6,79.1 243.3,73.8 244.0,68.2 244.7,62.5 245.4,57.4 246.1,51.9 246.8,47.5 247.6,43.3 248.3,39.7 249.0,36.5 249.7,34.8 250.4,34.1 251.1,34.2 251.8,35.4 252.5,37.7 253.3,40.7 254.0,44.1 254.7,48.1 255.4,51.8 256.1,55.7 256.8,60.0 257.5,63.7 258.2,67.6 259.0,71.1 259.7,73.9 260.4,76.7 261.1,79.7 261.8,82.0 262.5,84.3 263.2,86.3 264.0,88.1 264.7,89.4 265.4,90.9 266.1,92.7 266.8,93.8 267.5,95.4 268.2,96.7 268.9,98.1 269.7,98.9 270.4,99.9 271.1,101.0 271.8,102.6 272.5,103.7 273.2,104.7 273.9,105.5 274.6,106.4 275.4,107.4 276.1,108.3 276.8,109.0 277.5,109.4 278.2,110.1 278.9,110.9 279.6,111.5 280.4,112.5 281.1,113.0 281.8,113.3 282.5,113.7 283.2,114.4 283.9,115.0 284.6,115.7 285.3,115.9 286.1,116.4 286.8,117.1 287.5,117.5 288.2,117.9 288.9,118.6 289.6,119.0 290.3,119.4 291.0,119.7 291.8,120.3 292.5,121.0 293.2,121.6 293.9,121.6 294.6,122.5 295.3,122.8 296.0,123.1 296.8,123.3 297.5,124.1 298.2,124.3 298.9,124.8 299.6,125.0 300.3,125.5 301.0,125.5 301.7,126.1 302.5,126.3 303.2,126.4 303.9,126.5 304.6,127.0 305.3,127.4 306.0,127.5 306.7,127.9 307.4,127.8 308.2,128.0 308.9,128.1 309.6,128.2 310.3,128.5 311.0,128.6 311.7,128.7 312.4,128.7 313.1,129.0 313.9,128.9 314.6,129.5 315.3,129.2 316.0,129.5 316.7,129.7 317.4,129.8 318.1,129.7 318.9,129.6 319.6,130.1 320.3,129.8 321.0,130.3 321.7,129.9 322.4,130.0 323.1,130.0 323.8,130.1 324.6,130.2 325.3,130.3 326.0,130.5 326.7,130.8 327.4,130.6 328.1,130.4 328.8,130.4 329.5,130.6 330.3,130.9 331.0,130.9 331.7,130.7 332.4,131.0" fill="none" stroke="#1e3434" stroke-width="1.0" stroke-opacity="0.25"/>
<path d="M239.7,98.7 240.4,93.8 241.1,89.5 241.8,84.6 242.6,79.6 243.3,73.9 244.0,67.8 244.7,62.8 245.4,57.3 246.1,52.1 246.8,47.4 247.6,43.2 248.3,39.4 249.0,36.2 249.7,35.1 250.4,33.7 251.1,34.6 251.8,35.2 252.5,37.1 253.3,40.2 254.0,44.2 254.7,48.2 255.4,51.5 256.1,56.1 256.8,60.4 257.5,64.3 258.2,68.0 259.0,70.8 259.7,74.5 260.4,77.4 261.1,79.8 261.8,82.4 262.5,84.4 263.2,85.7 264.0,88.3 264.7,89.4 265.4,91.1 266.1,93.1 266.8,94.5 267.5,95.4 268.2,96.0 268.9,98.1 269.7,98.8 270.4,100.4 271.1,101.1 271.8,102.7 272.5,103.5 273.2,104.4 273.9,105.7 274.6,106.6 275.4,107.4 276.1,107.9 276.8,109.1 277.5,110.3 278.2,110.0 278.9,111.4 279.6,111.6 280.4,112.7 281.1,112.8 281.8,113.5 282.5,114.0 283.2,114.8 283.9,114.6 284.6,115.3 285.3,116.2 286.1,116.3 286.8,117.2 287.5,117.3 288.2,117.8 288.9,118.9 289.6,118.8 290.3,120.1 291.0,120.3 291.8,120.0 292.5,121.4 293.2,121.9 293.9,122.0 294.6,122.5 295.3,122.5 296.0,122.9 296.8,123.4 297.5,123.6 298.2,124.7 298.9,124.3 299.6,124.5 300.3,124.9 301.0,126.1 301.7,125.8 302.5,125.9 303.2,126.5 303.9,126.7 304.6,127.4 305.3,127.3 306.0,127.0 306.7,127.5 307.4,127.9 308.2,128.0 308.9,127.6 309.6,128.3 310.3,128.5 311.0,128.5 311.7,128.6 312.4,128.8 313.1,128.5 313.9,129.2 314.6,129.2 315.3,129.6 316.0,129.2 316.7,129.2 317.4,129.3 318.1,129.3 318.9,130.4 319.6,129.8 320.3,129.5 321.0,130.2 321.7,129.7 322.4,130.5 323.1,130.4 323.8,130.2 324.6,130.9 325.3,131.0 326.0,130.2 326.7,130.5 327.4,130.8 328.1,130.7 328.8,130.9 329.5,130.7 330.3,130.4 331.0,130.5 331.7,130.7 332.4,131.4" fill="none" stroke="#1a2a2a" stroke-width="0.9" stroke-dasharray="0.7 1.9" stroke-opacity="0.55"/>
<path d="M189.8,133.2 190.5,133.2 191.2,133.2 191.9,133.2 192.7,133.2 193.4,133.2 194.1,133.2 194.8,133.2 195.5,133.2 196.2,133.1 196.9,133.1 197.6,133.1 198.4,133.1 199.1,133.1 199.8,133.1 200.5,133.1 201.2,133.1 201.9,133.1 202.6,133.1 203.3,133.0 204.1,133.0 204.8,133.0 205.5,133.0 206.2,133.0 206.9,133.0 207.6,132.9 208.3,132.9 209.1,132.9 209.8,132.9 210.5,132.9 211.2,132.8 211.9,132.8 212.6,132.8 213.3,132.8 214.0,132.7 214.8,132.7 215.5,132.7 216.2,132.7 216.9,132.6 217.6,132.6 218.3,132.5 219.0,132.5 219.7,132.5 220.5,132.4 221.2,132.4 221.9,132.3 222.6,132.2 223.3,132.2 224.0,132.1 224.7,132.0 225.4,131.9 226.2,131.8 226.9,131.6 227.6,131.4 228.3,131.2 229.0,131.0 229.7,130.6 230.4,130.3 231.2,129.8 231.9,129.2 232.6,128.4 233.3,127.5 234.0,126.5 234.7,125.1 235.4,123.6 236.1,121.7 236.9,119.6 237.6,117.1 238.3,114.3 239.0,111.1 239.7,107.5 240.4,103.5 241.1,99.3 241.8,94.7 242.6,89.9 243.3,85.0 244.0,80.0 244.7,75.0 245.4,70.1 246.1,65.5 246.8,61.4 247.6,57.8 248.3,54.8 249.0,52.7 249.7,51.6 250.4,51.3 251.1,52.3 251.8,54.4 252.5,57.7 253.3,61.8 254.0,66.6 254.7,71.9 255.4,77.6 256.1,83.3 256.8,89.0 257.5,94.6 258.2,99.8 259.0,104.6 259.7,109.0 260.4,113.0 261.1,116.4 261.8,119.4 262.5,121.9 263.2,124.0 264.0,125.7 264.7,127.2 265.4,128.3 266.1,129.2 266.8,129.9 267.5,130.5 268.2,130.9 268.9,131.3 269.7,131.5 270.4,131.8 271.1,131.9 271.8,132.1 272.5,132.2 273.2,132.3 273.9,132.3 274.6,132.4 275.4,132.5 276.1,132.5 276.8,132.6 277.5,132.6 278.2,132.7 278.9,132.7 279.6,132.7 280.4,132.8 281.1,132.8 281.8,132.8 282.5,132.9 283.2,132.9 283.9,132.9 284.6,132.9 285.3,133.0 286.1,133.0 286.8,133.0 287.5,133.0 288.2,133.0 288.9,133.0 289.6,133.1 290.3,133.1 291.0,133.1 291.8,133.1 292.5,133.1 293.2,133.1 293.9,133.1 294.6,133.2 295.3,133.2 296.0,133.2 296.8,133.2 297.5,133.2 298.2,133.2 298.9,133.2 299.6,133.2 300.3,133.2 301.0,133.2 301.7,133.2 302.5,133.2 303.2,133.3 303.9,133.3 304.6,133.3 305.3,133.3 306.0,133.3 306.7,133.3 307.4,133.3 308.2,133.3 308.9,133.3 309.6,133.3 310.3,133.3 311.0,133.3 311.7,133.3 312.4,133.3 313.1,133.3 313.9,133.3 314.6,133.3 315.3,133.3 316.0,133.3 316.7,133.3 317.4,133.3 318.1,133.3 318.9,133.3 319.6,133.4 320.3,133.4 321.0,133.4 321.7,133.4 322.4,133.4 323.1,133.4 323.8,133.4 324.6,133.4 325.3,133.4 326.0,133.4 326.7,133.4 327.4,133.4 328.1,133.4 328.8,133.4 329.5,133.4 330.3,133.4 331.0,133.4 331.7,133.4 332.4,133.4" fill="none" stroke="#e2626c" stroke-width="1.4"/>
<path d="M189.8,132.5 190.5,132.5 191.2,132.5 191.9,132.5 192.7,132.5 193.4,132.5 194.1,132.5 194.8,132.5 195.5,132.5 196.2,132.4 196.9,132.4 197.6,132.4 198.4,132.4 199.1,132.4 199.8,132.4 200.5,132.4 201.2,132.3 201.9,132.3 202.6,132.3 203.3,132.3 204.1,132.3 204.8,132.3 205.5,132.2 206.2,132.2 206.9,132.2 207.6,132.2 208.3,132.2 209.1,132.1 209.8,132.1 210.5,132.1 211.2,132.1 211.9,132.0 212.6,132.0 213.3,132.0 214.0,132.0 214.8,131.9 215.5,131.9 216.2,131.9 216.9,131.8 217.6,131.8 218.3,131.8 219.0,131.7 219.7,131.7 220.5,131.6 221.2,131.6 221.9,131.6 222.6,131.5 223.3,131.5 224.0,131.4 224.7,131.3 225.4,131.3 226.2,131.2 226.9,131.2 227.6,131.1 228.3,131.0 229.0,130.9 229.7,130.9 230.4,130.8 231.2,130.7 231.9,130.6 232.6,130.5 233.3,130.4 234.0,130.3 234.7,130.1 235.4,130.0 236.1,129.9 236.9,129.7 237.6,129.6 238.3,129.4 239.0,129.2 239.7,129.0 240.4,128.8 241.1,128.6 241.8,128.3 242.6,128.1 243.3,127.8 244.0,127.5 244.7,127.2 245.4,126.8 246.1,126.4 246.8,126.0 247.6,125.5 248.3,125.0 249.0,124.5 249.7,123.9 250.4,123.2 251.1,122.5 251.8,121.7 252.5,120.9 253.3,119.9 254.0,118.9 254.7,117.8 255.4,116.6 256.1,115.4 256.8,114.0 257.5,112.6 258.2,111.1 259.0,109.6 259.7,108.1 260.4,106.7 261.1,105.3 261.8,104.2 262.5,103.2 263.2,102.5 264.0,102.2 264.7,102.2 265.4,102.5 266.1,103.1 266.8,103.9 267.5,105.0 268.2,106.3 268.9,107.7 269.7,109.2 270.4,110.8 271.1,112.3 271.8,113.9 272.5,115.5 273.2,117.0 273.9,118.5 274.6,119.9 275.4,121.2 276.1,122.4 276.8,123.5 277.5,124.5 278.2,125.5 278.9,126.3 279.6,127.0 280.4,127.7 281.1,128.3 281.8,128.8 282.5,129.2 283.2,129.6 283.9,130.0 284.6,130.3 285.3,130.5 286.1,130.7 286.8,130.9 287.5,131.1 288.2,131.2 288.9,131.3 289.6,131.4 290.3,131.5 291.0,131.6 291.8,131.7 292.5,131.8 293.2,131.8 293.9,131.9 294.6,131.9 295.3,132.0 296.0,132.0 296.8,132.1 297.5,132.1 298.2,132.1 298.9,132.2 299.6,132.2 300.3,132.2 301.0,132.3 301.7,132.3 302.5,132.3 303.2,132.4 303.9,132.4 304.6,132.4 305.3,132.4 306.0,132.4 306.7,132.5 307.4,132.5 308.2,132.5 308.9,132.5 309.6,132.5 310.3,132.5 311.0,132.6 311.7,132.6 312.4,132.6 313.1,132.6 313.9,132.6 314.6,132.6 315.3,132.6 316.0,132.6 316.7,132.6 317.4,132.7 318.1,132.7 318.9,132.7 319.6,132.7 320.3,132.7 321.0,132.7 321.7,132.7 322.4,132.7 323.1,132.7 323.8,132.7 324.6,132.7 325.3,132.7 326.0,132.8 326.7,132.8 327.4,132.8 328.1,132.8 328.8,132.8 329.5,132.8 330.3,132.8 331.0,132.8 331.7,132.8 332.4,132.8" fill="none" stroke="#74e274" stroke-width="1.4"/>
<path d="M189.8,132.3 190.5,132.3 191.2,132.3 191.9,132.3 192.7,132.3 193.4,132.3 194.1,132.3 194.8,132.3 195.5,132.3 196.2,132.2 196.9,132.2 197.6,132.2 198.4,132.2 199.1,132.2 199.8,132.2 200.5,132.2 201.2,132.2 201.9,132.2 202.6,132.2 203.3,132.2 204.1,132.2 204.8,132.2 205.5,132.2 206.2,132.2 206.9,132.2 207.6,132.2 208.3,132.2 209.1,132.2 209.8,132.2 210.5,132.2 211.2,132.2 211.9,132.2 212.6,132.2 213.3,132.2 214.0,132.2 214.8,132.1 215.5,132.1 216.2,132.1 216.9,132.1 217.6,132.1 218.3,132.1 219.0,132.1 219.7,132.1 220.5,132.1 221.2,132.1 221.9,132.1 222.6,132.1 223.3,132.1 224.0,132.1 224.7,132.0 225.4,132.0 226.2,132.0 226.9,132.0 227.6,132.0 228.3,132.0 229.0,132.0 229.7,131.9 230.4,131.9 231.2,131.9 231.9,131.9 232.6,131.9 233.3,131.8 234.0,131.8 234.7,131.8 235.4,131.8 236.1,131.7 236.9,131.7 237.6,131.7 238.3,131.6 239.0,131.6 239.7,131.5 240.4,131.5 241.1,131.4 241.8,131.4 242.6,131.3 243.3,131.2 244.0,131.2 244.7,131.1 245.4,131.0 246.1,130.9 246.8,130.8 247.6,130.7 248.3,130.6 249.0,130.5 249.7,130.4 250.4,130.2 251.1,130.1 251.8,129.9 252.5,129.8 253.3,129.6 254.0,129.5 254.7,129.3 255.4,129.1 256.1,128.9 256.8,128.7 257.5,128.5 258.2,128.3 259.0,128.0 259.7,127.8 260.4,127.6 261.1,127.3 261.8,127.1 262.5,126.8 263.2,126.5 264.0,126.3 264.7,126.0 265.4,125.7 266.1,125.4 266.8,125.1 267.5,124.8 268.2,124.6 268.9,124.3 269.7,124.0 270.4,123.7 271.1,123.4 271.8,123.2 272.5,122.9 273.2,122.7 273.9,122.4 274.6,122.2 275.4,122.0 276.1,121.8 276.8,121.6 277.5,121.5 278.2,121.3 278.9,121.2 279.6,121.1 280.4,121.0 281.1,121.0 281.8,120.9 282.5,120.9 283.2,120.9 283.9,121.0 284.6,121.0 285.3,121.1 286.1,121.2 286.8,121.4 287.5,121.5 288.2,121.7 288.9,121.9 289.6,122.1 290.3,122.3 291.0,122.5 291.8,122.7 292.5,123.0 293.2,123.2 293.9,123.5 294.6,123.7 295.3,124.0 296.0,124.2 296.8,124.4 297.5,124.7 298.2,124.9 298.9,125.2 299.6,125.4 300.3,125.6 301.0,125.8 301.7,126.0 302.5,126.2 303.2,126.4 303.9,126.6 304.6,126.8 305.3,127.0 306.0,127.2 306.7,127.3 307.4,127.5 308.2,127.7 308.9,127.8 309.6,128.0 310.3,128.1 311.0,128.2 311.7,128.4 312.4,128.5 313.1,128.6 313.9,128.7 314.6,128.8 315.3,128.9 316.0,129.0 316.7,129.1 317.4,129.2 318.1,129.3 318.9,129.4 319.6,129.5 320.3,129.6 321.0,129.7 321.7,129.7 322.4,129.8 323.1,129.9 323.8,130.0 324.6,130.0 325.3,130.1 326.0,130.1 326.7,130.2 327.4,130.3 328.1,130.3 328.8,130.4 329.5,130.4 330.3,130.5 331.0,130.5 331.7,130.6 332.4,130.6" fill="none" stroke="#5c58d2" stroke-width="1.4"/>
</g>
<rect x="189.8" y="25.0" width="142.60" height="114.30" fill="none" stroke="#111" stroke-width="1.6"/>
<line x1="189.80" y1="139.3" x2="189.80" y2="141.9" stroke="#111" stroke-width="1.1"/>
<line x1="189.80" y1="25.0" x2="189.80" y2="22.4" stroke="#111" stroke-width="1.1"/>
<line x1="207.62" y1="139.3" x2="207.62" y2="140.9" stroke="#111" stroke-width="1.1"/>
<line x1="207.62" y1="25.0" x2="207.62" y2="23.4" stroke="#111" stroke-width="1.1"/>
<line x1="225.45" y1="139.3" x2="225.45" y2="141.9" stroke="#111" stroke-width="1.1"/>
<line x1="225.45" y1="25.0" x2="225.45" y2="22.4" stroke="#111" stroke-width="1.1"/>
<line x1="243.28" y1="139.3" x2="243.28" y2="140.9" stroke="#111" stroke-width="1.1"/>
<line x1="243.28" y1="25.0" x2="243.28" y2="23.4" stroke="#111" stroke-width="1.1"/>
<line x1="261.10" y1="139.3" x2="261.10" y2="141.9" stroke="#111" stroke-width="1.1"/>
<line x1="261.10" y1="25.0" x2="261.10" y2="22.4" stroke="#111" stroke-width="1.1"/>
<line x1="278.93" y1="139.3" x2="278.93" y2="140.9" stroke="#111" stroke-width="1.1"/>
<line x1="278.93" y1="25.0" x2="278.93" y2="23.4" stroke="#111" stroke-width="1.1"/>
<line x1="296.75" y1="139.3" x2="296.75" y2="141.9" stroke="#111" stroke-width="1.1"/>
<line x1="296.75" y1="25.0" x2="296.75" y2="22.4" stroke="#111" stroke-width="1.1"/>
<line x1="314.57" y1="139.3" x2="314.57" y2="140.9" stroke="#111" stroke-width="1.1"/>
<line x1="314.57" y1="25.0" x2="314.57" y2="23.4" stroke="#111" stroke-width="1.1"/>
<line x1="332.40" y1="139.3" x2="332.40" y2="141.9" stroke="#111" stroke-width="1.1"/>
<line x1="332.40" y1="25.0" x2="332.40" y2="22.4" stroke="#111" stroke-width="1.1"/>
<text transform="translate(189.80,151.10) scale(1,1.15)" class="tk">700</text>
<text transform="translate(189.80,21.10) scale(1,1.15)" class="tk">1.771</text>
<text transform="translate(225.45,151.10) scale(1,1.15)" class="tk">750</text>
<text transform="translate(225.45,21.10) scale(1,1.15)" class="tk">1.653</text>
<text transform="translate(261.10,151.10) scale(1,1.15)" class="tk">800</text>
<text transform="translate(261.10,21.10) scale(1,1.15)" class="tk">1.550</text>
<text transform="translate(296.75,151.10) scale(1,1.15)" class="tk">850</text>
<text transform="translate(296.75,21.10) scale(1,1.15)" class="tk">1.459</text>
<text transform="translate(332.40,151.10) scale(1,1.15)" class="tk">900</text>
<text transform="translate(332.40,21.10) scale(1,1.15)" class="tk">1.378</text>
<text transform="translate(261.40,161.70) scale(1,1.02)" class="tw">Wavelength (nm)</text>
<text transform="translate(261.10,7.70) scale(1,1.0)" class="ti">Energy (eV)</text>
<text transform="translate(181.80,78.55) rotate(-90) scale(1,1.0)" class="yl">PL Intensity (a.u.)</text>
<text transform="translate(192.00,36.50) scale(1,1.0)" class="pl">(b)</text>
<line x1="283.40" y1="30.10" x2="299.40" y2="30.10" stroke="#ababab" stroke-width="1.3"/>
<text transform="translate(301.40,32.60) scale(1,1.1)" class="lg">270 K</text>
<line x1="283.40" y1="38.70" x2="299.40" y2="38.70" stroke="#f08a90" stroke-width="1.3"/>
<text transform="translate(301.40,41.20) scale(1,1.1)" class="lg">A<tspan class="sup" dy="-2.3">0</tspan></text>
<line x1="283.40" y1="47.50" x2="299.40" y2="47.50" stroke="#92ea92" stroke-width="1.3"/>
<text transform="translate(301.40,50.00) scale(1,1.1)" class="lg">A<tspan class="sup" dy="-2.3">-</tspan></text>
<line x1="283.40" y1="56.00" x2="299.40" y2="56.00" stroke="#7c7adc" stroke-width="1.3"/>
<text transform="translate(301.40,58.50) scale(1,1.1)" class="lg">D</text>
<line x1="283.40" y1="64.30" x2="299.40" y2="64.30" stroke="#a8eef0" stroke-width="1.3"/>
<text transform="translate(301.40,66.80) scale(1,1.1)" class="lg">Global Fit</text>
<g clip-path="url(#clipc)">
<path d="M364.8,133.8 365.5,133.8 366.2,133.8 366.9,133.8 367.7,133.8 368.4,133.8 369.1,133.7 369.8,133.7 370.5,133.7 371.2,133.7 371.9,133.7 372.6,133.7 373.4,133.7 374.1,133.6 374.8,133.6 375.5,133.6 376.2,133.6 376.9,133.6 377.6,133.5 378.3,133.5 379.1,133.5 379.8,133.5 380.5,133.4 381.2,133.4 381.9,133.4 382.6,133.4 383.3,133.3 384.0,133.3 384.8,133.3 385.5,133.2 386.2,133.2 386.9,133.2 387.6,133.1 388.3,133.1 389.0,133.0 389.7,133.0 390.4,132.9 391.2,132.9 391.9,132.8 392.6,132.7 393.3,132.7 394.0,132.6 394.7,132.5 395.4,132.4 396.2,132.3 396.9,132.2 397.6,132.1 398.3,132.0 399.0,131.9 399.7,131.7 400.4,131.5 401.1,131.3 401.9,131.0 402.6,130.7 403.3,130.3 404.0,129.8 404.7,129.2 405.4,128.4 406.1,127.5 406.8,126.2 407.6,124.7 408.3,122.8 409.0,120.5 409.7,117.7 410.4,114.3 411.1,110.3 411.8,105.7 412.5,100.5 413.2,94.6 414.0,88.2 414.7,81.4 415.4,74.2 416.1,67.0 416.8,59.9 417.5,53.3 418.2,47.5 418.9,42.7 419.7,39.3 420.4,37.5 421.1,37.8 421.8,40.1 422.5,43.8 423.2,48.6 423.9,54.0 424.7,59.6 425.4,65.1 426.1,70.2 426.8,75.0 427.5,79.2 428.2,83.0 428.9,86.3 429.6,89.2 430.4,91.8 431.1,94.1 431.8,96.2 432.5,98.2 433.2,100.1 433.9,101.9 434.6,103.7 435.3,105.4 436.1,107.0 436.8,108.6 437.5,110.0 438.2,111.4 438.9,112.6 439.6,113.8 440.3,114.8 441.0,115.7 441.8,116.5 442.5,117.2 443.2,117.9 443.9,118.4 444.6,118.9 445.3,119.3 446.0,119.7 446.7,120.0 447.5,120.3 448.2,120.6 448.9,120.9 449.6,121.1 450.3,121.3 451.0,121.5 451.7,121.6 452.4,121.8 453.2,121.9 453.9,122.0 454.6,122.2 455.3,122.3 456.0,122.4 456.7,122.6 457.4,122.7 458.1,122.8 458.9,123.0 459.6,123.1 460.3,123.2 461.0,123.4 461.7,123.5 462.4,123.7 463.1,123.8 463.8,124.0 464.6,124.2 465.3,124.3 466.0,124.5 466.7,124.6 467.4,124.8 468.1,125.0 468.8,125.1 469.5,125.3 470.2,125.5 471.0,125.6 471.7,125.8 472.4,126.0 473.1,126.1 473.8,126.3 474.5,126.5 475.2,126.6 476.0,126.8 476.7,127.0 477.4,127.1 478.1,127.3 478.8,127.4 479.5,127.6 480.2,127.8 480.9,127.9 481.7,128.1 482.4,128.2 483.1,128.3 483.8,128.5 484.5,128.6 485.2,128.8 485.9,128.9 486.6,129.0 487.4,129.2 488.1,129.3 488.8,129.4 489.5,129.6 490.2,129.7 490.9,129.8 491.6,129.9 492.3,130.0 493.1,130.1 493.8,130.2 494.5,130.4 495.2,130.5 495.9,130.6 496.6,130.7 497.3,130.8 498.0,130.8 498.8,130.9 499.5,131.0 500.2,131.1 500.9,131.2 501.6,131.3 502.3,131.4 503.0,131.4 503.7,131.5 504.5,131.6 505.2,131.7 505.9,131.7 506.6,131.8 507.3,131.9" fill="none" stroke="#b4f1f4" stroke-width="3.0"/>
<path d="M364.8,133.8 365.5,133.8 366.2,133.8 366.9,133.8 367.7,133.8 368.4,133.8 369.1,133.7 369.8,133.7 370.5,133.7 371.2,133.7 371.9,133.7 372.6,133.7 373.4,133.7 374.1,133.6 374.8,133.6 375.5,133.6 376.2,133.6 376.9,133.6 377.6,133.5 378.3,133.5 379.1,133.5 379.8,133.5 380.5,133.4 381.2,133.4 381.9,133.4 382.6,133.4 383.3,133.3 384.0,133.3 384.8,133.3 385.5,133.2 386.2,133.2 386.9,133.2 387.6,133.1 388.3,133.1 389.0,133.0 389.7,133.0 390.4,132.9 391.2,132.9 391.9,132.8 392.6,132.7 393.3,132.7 394.0,132.6 394.7,132.5 395.4,132.4 396.2,132.3 396.9,132.2 397.6,132.1 398.3,132.0 399.0,131.9 399.7,131.7 400.4,131.5 401.1,131.3 401.9,131.0 402.6,130.7 403.3,130.3 404.0,129.8 404.7,129.2 405.4,128.4 406.1,127.5 406.8,126.2 407.6,124.7 408.3,122.8 409.0,120.5 409.7,117.7 410.4,114.3 411.1,110.3 411.8,105.7 412.5,100.5 413.2,94.6 414.0,88.2 414.7,81.4 415.4,74.2 416.1,67.0 416.8,59.9 417.5,53.3 418.2,47.5 418.9,42.7 419.7,39.3 420.4,37.5 421.1,37.8 421.8,40.1 422.5,43.8 423.2,48.6 423.9,54.0 424.7,59.6 425.4,65.1 426.1,70.2 426.8,75.0 427.5,79.2 428.2,83.0 428.9,86.3 429.6,89.2 430.4,91.8 431.1,94.1 431.8,96.2 432.5,98.2 433.2,100.1 433.9,101.9 434.6,103.7 435.3,105.4 436.1,107.0 436.8,108.6 437.5,110.0 438.2,111.4 438.9,112.6 439.6,113.8 440.3,114.8 441.0,115.7 441.8,116.5 442.5,117.2 443.2,117.9 443.9,118.4 444.6,118.9 445.3,119.3 446.0,119.7 446.7,120.0 447.5,120.3 448.2,120.6 448.9,120.9 449.6,121.1 450.3,121.3 451.0,121.5 451.7,121.6 452.4,121.8 453.2,121.9 453.9,122.0 454.6,122.2 455.3,122.3 456.0,122.4 456.7,122.6 457.4,122.7 458.1,122.8 458.9,123.0 459.6,123.1 460.3,123.2 461.0,123.4 461.7,123.5 462.4,123.7 463.1,123.8 463.8,124.0 464.6,124.2 465.3,124.3 466.0,124.5 466.7,124.6 467.4,124.8 468.1,125.0 468.8,125.1 469.5,125.3 470.2,125.5 471.0,125.6 471.7,125.8 472.4,126.0 473.1,126.1 473.8,126.3 474.5,126.5 475.2,126.6 476.0,126.8 476.7,127.0 477.4,127.1 478.1,127.3 478.8,127.4 479.5,127.6 480.2,127.8 480.9,127.9 481.7,128.1 482.4,128.2 483.1,128.3 483.8,128.5 484.5,128.6 485.2,128.8 485.9,128.9 486.6,129.0 487.4,129.2 488.1,129.3 488.8,129.4 489.5,129.6 490.2,129.7 490.9,129.8 491.6,129.9 492.3,130.0 493.1,130.1 493.8,130.2 494.5,130.4 495.2,130.5 495.9,130.6 496.6,130.7 497.3,130.8 498.0,130.8 498.8,130.9 499.5,131.0 500.2,131.1 500.9,131.2 501.6,131.3 502.3,131.4 503.0,131.4 503.7,131.5 504.5,131.6 505.2,131.7 505.9,131.7 506.6,131.8 507.3,131.9" fill="none" stroke="#40c0cc" stroke-width="1.5"/>
<path d="M364.8,133.8 365.5,134.1 366.2,134.1 366.9,133.9 367.7,133.8 368.4,133.6 369.1,133.6 369.8,133.6 370.5,133.8 371.2,133.4 371.9,133.5 372.6,133.5 373.4,133.4 374.1,133.8 374.8,133.7 375.5,133.5 376.2,133.3 376.9,133.4 377.6,133.6 378.3,133.7 379.1,133.3 379.8,133.3 380.5,133.5 381.2,133.4 381.9,133.5 382.6,133.5 383.3,133.6 384.0,133.2 384.8,133.3 385.5,133.0 386.2,132.9 386.9,133.2 387.6,133.3 388.3,133.0 389.0,133.1 389.7,133.1 390.4,133.2 391.2,133.0 391.9,132.8 392.6,133.0 393.3,133.0 394.0,132.3 394.7,132.3 395.4,132.5 396.2,132.4 396.9,132.3 397.6,132.0 398.3,132.2 399.0,131.7 399.7,131.6 400.4,131.5 401.1,131.5 401.9,131.2 402.6,130.9 403.3,130.4 404.0,129.9 404.7,129.4 405.4,128.4 406.1,127.3 406.8,126.2 407.6,124.7 408.3,122.8 409.0,120.4 409.7,117.7 410.4,114.2 411.1,110.2 411.8,105.8 412.5,100.6 413.2,94.8 414.0,88.0 414.7,81.5 415.4,74.5 416.1,67.2 416.8,59.7 417.5,53.3 418.2,47.4 418.9,42.5 419.7,39.4 420.4,37.4 421.1,37.9 421.8,39.8 422.5,43.8 423.2,48.7 423.9,54.0 424.7,59.8 425.4,65.0 426.1,70.0 426.8,75.0 427.5,79.2 428.2,83.0 428.9,86.5 429.6,89.4 430.4,91.7 431.1,94.0 431.8,96.5 432.5,98.3 433.2,100.2 433.9,102.1 434.6,103.8 435.3,105.4 436.1,107.0 436.8,108.6 437.5,110.2 438.2,111.7 438.9,112.8 439.6,113.6 440.3,114.7 441.0,115.6 441.8,116.4 442.5,117.3 443.2,117.7 443.9,118.6 444.6,119.0 445.3,119.5 446.0,119.5 446.7,119.7 447.5,120.4 448.2,120.8 448.9,120.9 449.6,121.2 450.3,121.3 451.0,121.3 451.7,121.8 452.4,121.9 453.2,122.2 453.9,122.1 454.6,122.1 455.3,122.2 456.0,122.6 456.7,122.3 457.4,122.5 458.1,122.9 458.9,123.0 459.6,123.0 460.3,123.2 461.0,123.2 461.7,123.6 462.4,123.9 463.1,123.7 463.8,124.2 464.6,123.9 465.3,124.2 466.0,124.7 466.7,124.9 467.4,124.6 468.1,125.1 468.8,125.3 469.5,125.5 470.2,125.5 471.0,125.8 471.7,126.0 472.4,125.9 473.1,126.3 473.8,126.3 474.5,126.4 475.2,126.4 476.0,127.1 476.7,127.2 477.4,127.2 478.1,127.0 478.8,127.2 479.5,127.4 480.2,127.8 480.9,127.6 481.7,127.8 482.4,128.0 483.1,128.5 483.8,128.3 484.5,128.6 485.2,128.5 485.9,128.7 486.6,129.0 487.4,129.1 488.1,129.5 488.8,129.3 489.5,129.4 490.2,129.4 490.9,130.0 491.6,129.6 492.3,130.2 493.1,130.4 493.8,130.0 494.5,130.1 495.2,130.2 495.9,130.7 496.6,130.5 497.3,131.0 498.0,130.6 498.8,130.7 499.5,131.3 500.2,131.2 500.9,131.3 501.6,131.0 502.3,131.2 503.0,131.6 503.7,131.8 504.5,131.5 505.2,131.7 505.9,131.9 506.6,131.7 507.3,132.1" fill="none" stroke="#1e3434" stroke-width="1.0" stroke-opacity="0.4"/>
<path d="M415.4,73.7 416.1,67.3 416.8,59.6 417.5,53.9 418.2,47.7 418.9,42.6 419.7,38.8 420.4,37.8 421.1,37.9 421.8,40.3 422.5,43.8 423.2,48.7 423.9,53.6 424.7,60.0 425.4,64.6 426.1,70.0 426.8,75.2 427.5,79.5 428.2,83.3 428.9,86.4 429.6,89.6 430.4,91.4 431.1,94.6 431.8,95.8 432.5,98.1 433.2,100.2 433.9,102.4 434.6,104.2 435.3,105.6 436.1,107.4 436.8,108.5 437.5,110.1 438.2,110.8 438.9,112.5 439.6,113.4 440.3,114.7 441.0,115.2 441.8,116.2 442.5,117.3 443.2,117.7 443.9,118.3 444.6,118.5 445.3,119.2 446.0,119.4 446.7,120.5 447.5,120.7 448.2,120.5 448.9,120.8 449.6,121.4 450.3,121.0 451.0,121.0 451.7,121.1 452.4,122.1 453.2,122.4 453.9,122.3 454.6,122.2 455.3,122.2 456.0,122.5 456.7,122.4 457.4,123.3 458.1,122.6 458.9,122.6 459.6,122.9 460.3,123.1 461.0,123.2 461.7,123.8 462.4,123.7 463.1,124.2 463.8,123.9 464.6,123.9 465.3,123.9 466.0,124.3 466.7,124.4 467.4,124.3 468.1,124.5 468.8,124.6 469.5,125.3 470.2,124.9 471.0,126.2 471.7,125.2 472.4,126.6 473.1,126.5 473.8,125.8 474.5,126.8 475.2,126.9 476.0,127.3 476.7,127.0 477.4,127.1 478.1,127.5 478.8,127.4 479.5,127.4 480.2,128.0 480.9,127.6 481.7,128.0 482.4,128.8 483.1,128.2 483.8,128.5 484.5,128.7 485.2,128.2 485.9,129.5 486.6,129.4 487.4,129.1 488.1,129.7 488.8,129.7 489.5,129.3 490.2,129.5 490.9,129.7 491.6,129.7 492.3,129.6 493.1,130.4 493.8,130.0 494.5,130.5 495.2,129.9 495.9,130.8 496.6,131.2 497.3,130.6 498.0,130.6 498.8,131.4 499.5,131.0 500.2,130.5 500.9,130.8 501.6,131.5 502.3,131.5 503.0,132.0 503.7,131.5 504.5,131.2 505.2,131.7 505.9,131.9 506.6,131.3 507.3,131.5" fill="none" stroke="#1a2a2a" stroke-width="0.9" stroke-dasharray="0.7 1.9" stroke-opacity="0.55"/>
<path d="M364.8,135.2 365.5,135.2 366.2,135.2 366.9,135.1 367.7,135.1 368.4,135.1 369.1,135.1 369.8,135.1 370.5,135.1 371.2,135.1 371.9,135.1 372.6,135.1 373.4,135.1 374.1,135.1 374.8,135.0 375.5,135.0 376.2,135.0 376.9,135.0 377.6,135.0 378.3,135.0 379.1,135.0 379.8,134.9 380.5,134.9 381.2,134.9 381.9,134.9 382.6,134.9 383.3,134.8 384.0,134.8 384.8,134.8 385.5,134.8 386.2,134.7 386.9,134.7 387.6,134.7 388.3,134.6 389.0,134.6 389.7,134.6 390.4,134.5 391.2,134.5 391.9,134.4 392.6,134.4 393.3,134.3 394.0,134.3 394.7,134.2 395.4,134.1 396.2,134.1 396.9,134.0 397.6,133.9 398.3,133.8 399.0,133.7 399.7,133.6 400.4,133.4 401.1,133.3 401.9,133.1 402.6,132.9 403.3,132.7 404.0,132.4 404.7,132.2 405.4,131.8 406.1,131.4 406.8,130.8 407.6,130.1 408.3,129.3 409.0,128.1 409.7,126.6 410.4,124.7 411.1,122.2 411.8,119.1 412.5,115.3 413.2,110.8 414.0,105.5 414.7,99.5 415.4,93.0 416.1,86.2 416.8,79.5 417.5,73.5 418.2,68.7 418.9,65.8 419.7,65.2 420.4,66.6 421.1,69.7 421.8,74.2 422.5,79.6 423.2,85.5 423.9,91.7 424.7,97.7 425.4,103.4 426.1,108.6 426.8,113.2 427.5,117.3 428.2,120.7 428.9,123.5 429.6,125.8 430.4,127.6 431.1,129.0 431.8,130.1 432.5,130.9 433.2,131.6 433.9,132.1 434.6,132.5 435.3,132.8 436.1,133.0 436.8,133.2 437.5,133.4 438.2,133.6 438.9,133.7 439.6,133.8 440.3,133.9 441.0,134.0 441.8,134.1 442.5,134.2 443.2,134.2 443.9,134.3 444.6,134.4 445.3,134.4 446.0,134.5 446.7,134.5 447.5,134.6 448.2,134.6 448.9,134.6 449.6,134.7 450.3,134.7 451.0,134.7 451.7,134.8 452.4,134.8 453.2,134.8 453.9,134.8 454.6,134.9 455.3,134.9 456.0,134.9 456.7,134.9 457.4,134.9 458.1,135.0 458.9,135.0 459.6,135.0 460.3,135.0 461.0,135.0 461.7,135.0 462.4,135.1 463.1,135.1 463.8,135.1 464.6,135.1 465.3,135.1 466.0,135.1 466.7,135.1 467.4,135.1 468.1,135.1 468.8,135.1 469.5,135.1 470.2,135.2 471.0,135.2 471.7,135.2 472.4,135.2 473.1,135.2 473.8,135.2 474.5,135.2 475.2,135.2 476.0,135.2 476.7,135.2 477.4,135.2 478.1,135.2 478.8,135.2 479.5,135.2 480.2,135.2 480.9,135.2 481.7,135.2 482.4,135.3 483.1,135.3 483.8,135.3 484.5,135.3 485.2,135.3 485.9,135.3 486.6,135.3 487.4,135.3 488.1,135.3 488.8,135.3 489.5,135.3 490.2,135.3 490.9,135.3 491.6,135.3 492.3,135.3 493.1,135.3 493.8,135.3 494.5,135.3 495.2,135.3 495.9,135.3 496.6,135.3 497.3,135.3 498.0,135.3 498.8,135.3 499.5,135.3 500.2,135.3 500.9,135.3 501.6,135.3 502.3,135.3 503.0,135.3 503.7,135.3 504.5,135.3 505.2,135.3 505.9,135.3 506.6,135.3 507.3,135.3" fill="none" stroke="#e2626c" stroke-width="1.4"/>
<path d="M364.8,134.8 365.5,134.8 366.2,134.8 366.9,134.8 367.7,134.7 368.4,134.7 369.1,134.7 369.8,134.7 370.5,134.7 371.2,134.7 371.9,134.7 372.6,134.7 373.4,134.6 374.1,134.6 374.8,134.6 375.5,134.6 376.2,134.6 376.9,134.6 377.6,134.5 378.3,134.5 379.1,134.5 379.8,134.5 380.5,134.5 381.2,134.4 381.9,134.4 382.6,134.4 383.3,134.4 384.0,134.3 384.8,134.3 385.5,134.3 386.2,134.2 386.9,134.2 387.6,134.2 388.3,134.1 389.0,134.1 389.7,134.0 390.4,134.0 391.2,134.0 391.9,133.9 392.6,133.9 393.3,133.8 394.0,133.7 394.7,133.7 395.4,133.6 396.2,133.5 396.9,133.5 397.6,133.4 398.3,133.3 399.0,133.2 399.7,133.1 400.4,133.0 401.1,132.8 401.9,132.7 402.6,132.5 403.3,132.4 404.0,132.2 404.7,131.9 405.4,131.7 406.1,131.4 406.8,131.1 407.6,130.7 408.3,130.3 409.0,129.9 409.7,129.4 410.4,128.8 411.1,128.2 411.8,127.6 412.5,126.8 413.2,126.0 414.0,125.1 414.7,124.2 415.4,123.2 416.1,122.1 416.8,120.9 417.5,119.6 418.2,118.3 418.9,117.0 419.7,115.6 420.4,114.2 421.1,112.8 421.8,111.3 422.5,110.0 423.2,108.6 423.9,107.4 424.7,106.4 425.4,105.5 426.1,104.8 426.8,104.3 427.5,104.1 428.2,104.2 428.9,104.4 429.6,104.9 430.4,105.6 431.1,106.6 431.8,107.6 432.5,108.9 433.2,110.2 433.9,111.7 434.6,113.3 435.3,114.8 436.1,116.5 436.8,118.1 437.5,119.7 438.2,121.2 438.9,122.7 439.6,124.1 440.3,125.4 441.0,126.7 441.8,127.8 442.5,128.8 443.2,129.8 443.9,130.6 444.6,131.3 445.3,132.0 446.0,132.5 446.7,133.0 447.5,133.4 448.2,133.7 448.9,134.0 449.6,134.3 450.3,134.5 451.0,134.6 451.7,134.8 452.4,134.9 453.2,135.0 453.9,135.0 454.6,135.1 455.3,135.1 456.0,135.2 456.7,135.2 457.4,135.2 458.1,135.2 458.9,135.2 459.6,135.2 460.3,135.2 461.0,135.2 461.7,135.2 462.4,135.2 463.1,135.2 463.8,135.2 464.6,135.2 465.3,135.2 466.0,135.2 466.7,135.2 467.4,135.2 468.1,135.2 468.8,135.2 469.5,135.2 470.2,135.2 471.0,135.2 471.7,135.2 472.4,135.2 473.1,135.2 473.8,135.2 474.5,135.2 475.2,135.2 476.0,135.2 476.7,135.2 477.4,135.2 478.1,135.2 478.8,135.2 479.5,135.2 480.2,135.2 480.9,135.2 481.7,135.2 482.4,135.2 483.1,135.2 483.8,135.2 484.5,135.2 485.2,135.2 485.9,135.2 486.6,135.2 487.4,135.2 488.1,135.2 488.8,135.2 489.5,135.2 490.2,135.2 490.9,135.2 491.6,135.2 492.3,135.2 493.1,135.2 493.8,135.2 494.5,135.2 495.2,135.2 495.9,135.2 496.6,135.2 497.3,135.2 498.0,135.2 498.8,135.2 499.5,135.2 500.2,135.2 500.9,135.2 501.6,135.2 502.3,135.2 503.0,135.2 503.7,135.2 504.5,135.2 505.2,135.2 505.9,135.2 506.6,135.2 507.3,135.2" fill="none" stroke="#74e274" stroke-width="1.4"/>
<path d="M364.8,134.2 365.5,134.2 366.2,134.2 366.9,134.1 367.7,134.1 368.4,134.1 369.1,134.1 369.8,134.0 370.5,134.0 371.2,134.0 371.9,134.0 372.6,134.0 373.4,133.9 374.1,133.9 374.8,133.9 375.5,133.9 376.2,133.8 376.9,133.8 377.6,133.8 378.3,133.7 379.1,133.7 379.8,133.7 380.5,133.6 381.2,133.6 381.9,133.6 382.6,133.6 383.3,133.5 384.0,133.5 384.8,133.4 385.5,133.4 386.2,133.4 386.9,133.3 387.6,133.3 388.3,133.3 389.0,133.2 389.7,133.2 390.4,133.1 391.2,133.1 391.9,133.0 392.6,133.0 393.3,132.9 394.0,132.9 394.7,132.8 395.4,132.8 396.2,132.7 396.9,132.7 397.6,132.6 398.3,132.6 399.0,132.5 399.7,132.4 400.4,132.4 401.1,132.3 401.9,132.2 402.6,132.2 403.3,132.1 404.0,132.0 404.7,132.0 405.4,131.9 406.1,131.8 406.8,131.7 407.6,131.6 408.3,131.5 409.0,131.5 409.7,131.4 410.4,131.3 411.1,131.2 411.8,131.1 412.5,131.0 413.2,130.9 414.0,130.8 414.7,130.6 415.4,130.5 416.1,130.4 416.8,130.3 417.5,130.2 418.2,130.0 418.9,129.9 419.7,129.8 420.4,129.6 421.1,129.5 421.8,129.4 422.5,129.2 423.2,129.1 423.9,128.9 424.7,128.7 425.4,128.6 426.1,128.4 426.8,128.2 427.5,128.1 428.2,127.9 428.9,127.7 429.6,127.5 430.4,127.3 431.1,127.1 431.8,127.0 432.5,126.8 433.2,126.6 433.9,126.4 434.6,126.2 435.3,126.0 436.1,125.8 436.8,125.6 437.5,125.4 438.2,125.2 438.9,125.0 439.6,124.8 440.3,124.6 441.0,124.4 441.8,124.2 442.5,124.1 443.2,123.9 443.9,123.7 444.6,123.6 445.3,123.4 446.0,123.3 446.7,123.2 447.5,123.1 448.2,123.0 448.9,122.9 449.6,122.8 450.3,122.8 451.0,122.7 451.7,122.7 452.4,122.7 453.2,122.7 453.9,122.7 454.6,122.7 455.3,122.8 456.0,122.8 456.7,122.9 457.4,123.0 458.1,123.1 458.9,123.2 459.6,123.4 460.3,123.5 461.0,123.7 461.7,123.8 462.4,124.0 463.1,124.2 463.8,124.4 464.6,124.6 465.3,124.8 466.0,125.0 466.7,125.2 467.4,125.4 468.1,125.6 468.8,125.8 469.5,126.1 470.2,126.3 471.0,126.5 471.7,126.7 472.4,126.9 473.1,127.1 473.8,127.3 474.5,127.5 475.2,127.7 476.0,127.9 476.7,128.1 477.4,128.3 478.1,128.5 478.8,128.6 479.5,128.8 480.2,129.0 480.9,129.1 481.7,129.3 482.4,129.5 483.1,129.6 483.8,129.8 484.5,129.9 485.2,130.0 485.9,130.2 486.6,130.3 487.4,130.4 488.1,130.6 488.8,130.7 489.5,130.8 490.2,130.9 490.9,131.0 491.6,131.1 492.3,131.2 493.1,131.3 493.8,131.4 494.5,131.5 495.2,131.6 495.9,131.7 496.6,131.8 497.3,131.9 498.0,132.0 498.8,132.1 499.5,132.1 500.2,132.2 500.9,132.3 501.6,132.4 502.3,132.4 503.0,132.5 503.7,132.6 504.5,132.6 505.2,132.7 505.9,132.7 506.6,132.8 507.3,132.9" fill="none" stroke="#5c58d2" stroke-width="1.4"/>
</g>
<rect x="364.8" y="26.5" width="142.50" height="114.20" fill="none" stroke="#111" stroke-width="1.6"/>
<line x1="364.80" y1="140.7" x2="364.80" y2="143.29999999999998" stroke="#111" stroke-width="1.1"/>
<line x1="364.80" y1="26.5" x2="364.80" y2="23.9" stroke="#111" stroke-width="1.1"/>
<line x1="382.61" y1="140.7" x2="382.61" y2="142.29999999999998" stroke="#111" stroke-width="1.1"/>
<line x1="382.61" y1="26.5" x2="382.61" y2="24.9" stroke="#111" stroke-width="1.1"/>
<line x1="400.43" y1="140.7" x2="400.43" y2="143.29999999999998" stroke="#111" stroke-width="1.1"/>
<line x1="400.43" y1="26.5" x2="400.43" y2="23.9" stroke="#111" stroke-width="1.1"/>
<line x1="418.24" y1="140.7" x2="418.24" y2="142.29999999999998" stroke="#111" stroke-width="1.1"/>
<line x1="418.24" y1="26.5" x2="418.24" y2="24.9" stroke="#111" stroke-width="1.1"/>
<line x1="436.05" y1="140.7" x2="436.05" y2="143.29999999999998" stroke="#111" stroke-width="1.1"/>
<line x1="436.05" y1="26.5" x2="436.05" y2="23.9" stroke="#111" stroke-width="1.1"/>
<line x1="453.86" y1="140.7" x2="453.86" y2="142.29999999999998" stroke="#111" stroke-width="1.1"/>
<line x1="453.86" y1="26.5" x2="453.86" y2="24.9" stroke="#111" stroke-width="1.1"/>
<line x1="471.68" y1="140.7" x2="471.68" y2="143.29999999999998" stroke="#111" stroke-width="1.1"/>
<line x1="471.68" y1="26.5" x2="471.68" y2="23.9" stroke="#111" stroke-width="1.1"/>
<line x1="489.49" y1="140.7" x2="489.49" y2="142.29999999999998" stroke="#111" stroke-width="1.1"/>
<line x1="489.49" y1="26.5" x2="489.49" y2="24.9" stroke="#111" stroke-width="1.1"/>
<line x1="507.30" y1="140.7" x2="507.30" y2="143.29999999999998" stroke="#111" stroke-width="1.1"/>
<line x1="507.30" y1="26.5" x2="507.30" y2="23.9" stroke="#111" stroke-width="1.1"/>
<text transform="translate(364.80,152.50) scale(1,1.15)" class="tk">700</text>
<text transform="translate(364.80,22.60) scale(1,1.15)" class="tk">1.771</text>
<text transform="translate(400.43,152.50) scale(1,1.15)" class="tk">750</text>
<text transform="translate(400.43,22.60) scale(1,1.15)" class="tk">1.653</text>
<text transform="translate(436.05,152.50) scale(1,1.15)" class="tk">800</text>
<text transform="translate(436.05,22.60) scale(1,1.15)" class="tk">1.550</text>
<text transform="translate(471.68,152.50) scale(1,1.15)" class="tk">850</text>
<text transform="translate(471.68,22.60) scale(1,1.15)" class="tk">1.459</text>
<text transform="translate(507.30,152.50) scale(1,1.15)" class="tk">900</text>
<text transform="translate(507.30,22.60) scale(1,1.15)" class="tk">1.378</text>
<text transform="translate(436.35,163.10) scale(1,1.02)" class="tw">Wavelength (nm)</text>
<text transform="translate(436.05,9.20) scale(1,1.0)" class="ti">Energy (eV)</text>
<text transform="translate(356.80,80.00) rotate(-90) scale(1,1.0)" class="yl">PL Intensity (a.u.)</text>
<text transform="translate(367.60,39.10) scale(1,1.0)" class="pl">(c)</text>
<line x1="458.30" y1="31.60" x2="474.30" y2="31.60" stroke="#ababab" stroke-width="1.3"/>
<text transform="translate(476.30,34.10) scale(1,1.1)" class="lg">240 K</text>
<line x1="458.30" y1="40.20" x2="474.30" y2="40.20" stroke="#f08a90" stroke-width="1.3"/>
<text transform="translate(476.30,42.70) scale(1,1.1)" class="lg">A<tspan class="sup" dy="-2.3">0</tspan></text>
<line x1="458.30" y1="49.00" x2="474.30" y2="49.00" stroke="#92ea92" stroke-width="1.3"/>
<text transform="translate(476.30,51.50) scale(1,1.1)" class="lg">A<tspan class="sup" dy="-2.3">-</tspan></text>
<line x1="458.30" y1="57.50" x2="474.30" y2="57.50" stroke="#7c7adc" stroke-width="1.3"/>
<text transform="translate(476.30,60.00) scale(1,1.1)" class="lg">D</text>
<line x1="458.30" y1="65.80" x2="474.30" y2="65.80" stroke="#a8eef0" stroke-width="1.3"/>
<text transform="translate(476.30,68.30) scale(1,1.1)" class="lg">Global Fit</text>
<g clip-path="url(#clipd)">
<path d="M16.3,302.3 17.0,302.3 17.7,302.3 18.4,302.3 19.2,302.3 19.9,302.3 20.6,302.2 21.3,302.2 22.0,302.2 22.7,302.2 23.4,302.2 24.2,302.2 24.9,302.2 25.6,302.2 26.3,302.2 27.0,302.2 27.7,302.1 28.4,302.1 29.2,302.1 29.9,302.1 30.6,302.1 31.3,302.1 32.0,302.0 32.7,302.0 33.4,302.0 34.2,302.0 34.9,302.0 35.6,301.9 36.3,301.9 37.0,301.9 37.7,301.8 38.4,301.8 39.2,301.7 39.9,301.7 40.6,301.6 41.3,301.6 42.0,301.5 42.7,301.4 43.5,301.3 44.2,301.2 44.9,301.1 45.6,300.9 46.3,300.7 47.0,300.5 47.7,300.3 48.5,300.0 49.2,299.7 49.9,299.4 50.6,299.0 51.3,298.5 52.0,298.0 52.7,297.4 53.5,296.8 54.2,296.0 54.9,295.2 55.6,294.2 56.3,293.2 57.0,292.0 57.7,290.6 58.5,289.1 59.2,287.3 59.9,285.2 60.6,282.7 61.3,279.7 62.0,276.0 62.7,271.5 63.5,266.1 64.2,259.7 64.9,252.3 65.6,244.0 66.3,235.0 67.0,226.0 67.7,217.6 68.5,210.7 69.2,206.4 69.9,205.0 70.6,206.1 71.3,209.1 72.0,213.5 72.7,218.4 73.5,223.6 74.2,228.5 74.9,233.0 75.6,237.0 76.3,240.5 77.0,243.5 77.7,246.3 78.5,248.9 79.2,251.4 79.9,253.8 80.6,256.3 81.3,258.8 82.0,261.3 82.7,263.8 83.5,266.3 84.2,268.7 84.9,271.1 85.6,273.3 86.3,275.5 87.0,277.4 87.7,279.3 88.5,280.9 89.2,282.4 89.9,283.7 90.6,284.9 91.3,285.9 92.0,286.7 92.8,287.5 93.5,288.1 94.2,288.6 94.9,289.1 95.6,289.4 96.3,289.8 97.0,290.0 97.8,290.3 98.5,290.5 99.2,290.7 99.9,290.8 100.6,291.0 101.3,291.2 102.0,291.3 102.8,291.5 103.5,291.7 104.2,291.8 104.9,292.0 105.6,292.2 106.3,292.4 107.0,292.5 107.8,292.7 108.5,292.9 109.2,293.1 109.9,293.3 110.6,293.5 111.3,293.8 112.0,294.0 112.8,294.2 113.5,294.4 114.2,294.7 114.9,294.9 115.6,295.1 116.3,295.3 117.0,295.6 117.8,295.8 118.5,296.0 119.2,296.3 119.9,296.5 120.6,296.7 121.3,296.9 122.0,297.1 122.8,297.4 123.5,297.6 124.2,297.8 124.9,298.0 125.6,298.2 126.3,298.4 127.0,298.6 127.8,298.7 128.5,298.9 129.2,299.1 129.9,299.3 130.6,299.4 131.3,299.6 132.0,299.7 132.8,299.9 133.5,300.0 134.2,300.2 134.9,300.3 135.6,300.4 136.3,300.5 137.1,300.7 137.8,300.8 138.5,300.9 139.2,301.0 139.9,301.1 140.6,301.2 141.3,301.2 142.1,301.3 142.8,301.4 143.5,301.5 144.2,301.5 144.9,301.6 145.6,301.7 146.3,301.7 147.1,301.8 147.8,301.8 148.5,301.9 149.2,301.9 149.9,302.0 150.6,302.0 151.3,302.0 152.1,302.1 152.8,302.1 153.5,302.1 154.2,302.2 154.9,302.2 155.6,302.2 156.3,302.2 157.1,302.2 157.8,302.3 158.5,302.3 159.2,302.3" fill="none" stroke="#b4f1f4" stroke-width="3.0"/>
<path d="M16.3,302.3 17.0,302.3 17.7,302.3 18.4,302.3 19.2,302.3 19.9,302.3 20.6,302.2 21.3,302.2 22.0,302.2 22.7,302.2 23.4,302.2 24.2,302.2 24.9,302.2 25.6,302.2 26.3,302.2 27.0,302.2 27.7,302.1 28.4,302.1 29.2,302.1 29.9,302.1 30.6,302.1 31.3,302.1 32.0,302.0 32.7,302.0 33.4,302.0 34.2,302.0 34.9,302.0 35.6,301.9 36.3,301.9 37.0,301.9 37.7,301.8 38.4,301.8 39.2,301.7 39.9,301.7 40.6,301.6 41.3,301.6 42.0,301.5 42.7,301.4 43.5,301.3 44.2,301.2 44.9,301.1 45.6,300.9 46.3,300.7 47.0,300.5 47.7,300.3 48.5,300.0 49.2,299.7 49.9,299.4 50.6,299.0 51.3,298.5 52.0,298.0 52.7,297.4 53.5,296.8 54.2,296.0 54.9,295.2 55.6,294.2 56.3,293.2 57.0,292.0 57.7,290.6 58.5,289.1 59.2,287.3 59.9,285.2 60.6,282.7 61.3,279.7 62.0,276.0 62.7,271.5 63.5,266.1 64.2,259.7 64.9,252.3 65.6,244.0 66.3,235.0 67.0,226.0 67.7,217.6 68.5,210.7 69.2,206.4 69.9,205.0 70.6,206.1 71.3,209.1 72.0,213.5 72.7,218.4 73.5,223.6 74.2,228.5 74.9,233.0 75.6,237.0 76.3,240.5 77.0,243.5 77.7,246.3 78.5,248.9 79.2,251.4 79.9,253.8 80.6,256.3 81.3,258.8 82.0,261.3 82.7,263.8 83.5,266.3 84.2,268.7 84.9,271.1 85.6,273.3 86.3,275.5 87.0,277.4 87.7,279.3 88.5,280.9 89.2,282.4 89.9,283.7 90.6,284.9 91.3,285.9 92.0,286.7 92.8,287.5 93.5,288.1 94.2,288.6 94.9,289.1 95.6,289.4 96.3,289.8 97.0,290.0 97.8,290.3 98.5,290.5 99.2,290.7 99.9,290.8 100.6,291.0 101.3,291.2 102.0,291.3 102.8,291.5 103.5,291.7 104.2,291.8 104.9,292.0 105.6,292.2 106.3,292.4 107.0,292.5 107.8,292.7 108.5,292.9 109.2,293.1 109.9,293.3 110.6,293.5 111.3,293.8 112.0,294.0 112.8,294.2 113.5,294.4 114.2,294.7 114.9,294.9 115.6,295.1 116.3,295.3 117.0,295.6 117.8,295.8 118.5,296.0 119.2,296.3 119.9,296.5 120.6,296.7 121.3,296.9 122.0,297.1 122.8,297.4 123.5,297.6 124.2,297.8 124.9,298.0 125.6,298.2 126.3,298.4 127.0,298.6 127.8,298.7 128.5,298.9 129.2,299.1 129.9,299.3 130.6,299.4 131.3,299.6 132.0,299.7 132.8,299.9 133.5,300.0 134.2,300.2 134.9,300.3 135.6,300.4 136.3,300.5 137.1,300.7 137.8,300.8 138.5,300.9 139.2,301.0 139.9,301.1 140.6,301.2 141.3,301.2 142.1,301.3 142.8,301.4 143.5,301.5 144.2,301.5 144.9,301.6 145.6,301.7 146.3,301.7 147.1,301.8 147.8,301.8 148.5,301.9 149.2,301.9 149.9,302.0 150.6,302.0 151.3,302.0 152.1,302.1 152.8,302.1 153.5,302.1 154.2,302.2 154.9,302.2 155.6,302.2 156.3,302.2 157.1,302.2 157.8,302.3 158.5,302.3 159.2,302.3" fill="none" stroke="#40c0cc" stroke-width="1.5"/>
<path d="M16.3,302.1 17.0,302.2 17.7,302.4 18.4,302.4 19.2,302.1 19.9,302.2 20.6,302.4 21.3,302.0 22.0,302.5 22.7,302.4 23.4,302.4 24.2,302.2 24.9,301.9 25.6,302.0 26.3,302.3 27.0,302.0 27.7,302.2 28.4,302.2 29.2,302.2 29.9,302.4 30.6,302.1 31.3,301.8 32.0,301.8 32.7,302.2 33.4,302.2 34.2,302.1 34.9,302.1 35.6,302.0 36.3,301.7 37.0,301.8 37.7,301.9 38.4,301.7 39.2,301.9 39.9,301.9 40.6,301.7 41.3,301.7 42.0,301.5 42.7,301.3 43.5,301.5 44.2,301.1 44.9,300.9 45.6,300.6 46.3,300.5 47.0,300.4 47.7,300.4 48.5,300.3 49.2,299.9 49.9,299.4 50.6,298.9 51.3,298.5 52.0,298.1 52.7,297.2 53.5,296.9 54.2,295.8 54.9,295.1 55.6,294.2 56.3,293.4 57.0,292.0 57.7,290.8 58.5,289.2 59.2,287.1 59.9,285.0 60.6,282.6 61.3,279.7 62.0,275.9 62.7,271.4 63.5,266.1 64.2,259.5 64.9,252.4 65.6,244.0 66.3,234.8 67.0,226.3 67.7,217.3 68.5,211.0 69.2,206.6 69.9,205.1 70.6,206.3 71.3,209.0 72.0,213.2 72.7,218.6 73.5,223.8 74.2,228.2 74.9,233.3 75.6,237.2 76.3,240.5 77.0,243.6 77.7,246.3 78.5,249.0 79.2,251.3 79.9,253.6 80.6,256.1 81.3,259.0 82.0,261.4 82.7,263.9 83.5,266.1 84.2,268.9 84.9,271.3 85.6,273.6 86.3,275.5 87.0,277.5 87.7,279.0 88.5,280.9 89.2,282.5 89.9,283.6 90.6,285.1 91.3,285.8 92.0,286.9 92.8,287.5 93.5,288.3 94.2,288.8 94.9,289.1 95.6,289.3 96.3,289.7 97.0,290.2 97.8,290.3 98.5,290.2 99.2,290.5 99.9,290.7 100.6,291.2 101.3,290.9 102.0,291.4 102.8,291.3 103.5,291.6 104.2,292.1 104.9,291.8 105.6,291.9 106.3,292.5 107.0,292.5 107.8,292.5 108.5,292.9 109.2,292.9 109.9,293.0 110.6,293.7 111.3,294.0 112.0,293.7 112.8,294.5 113.5,294.6 114.2,294.4 114.9,294.9 115.6,294.9 116.3,295.6 117.0,295.4 117.8,295.9 118.5,296.1 119.2,296.0 119.9,296.5 120.6,296.5 121.3,297.0 122.0,297.2 122.8,297.5 123.5,297.5 124.2,297.9 124.9,297.7 125.6,298.4 126.3,298.5 127.0,298.8 127.8,298.6 128.5,299.1 129.2,298.9 129.9,299.4 130.6,299.3 131.3,299.5 132.0,299.5 132.8,299.9 133.5,300.3 134.2,300.0 134.9,300.1 135.6,300.6 136.3,300.7 137.1,300.7 137.8,300.6 138.5,301.0 139.2,300.8 139.9,301.3 140.6,301.0 141.3,301.3 142.1,301.1 142.8,301.1 143.5,301.3 144.2,301.6 144.9,301.3 145.6,301.5 146.3,301.4 147.1,301.7 147.8,301.9 148.5,302.0 149.2,302.0 149.9,301.7 150.6,302.3 151.3,302.0 152.1,301.9 152.8,302.0 153.5,302.0 154.2,302.2 154.9,301.9 155.6,302.1 156.3,302.0 157.1,302.1 157.8,302.3 158.5,302.4 159.2,302.3" fill="none" stroke="#1e3434" stroke-width="1.0" stroke-opacity="0.35"/>
<path d="M66.3,235.2 67.0,226.5 67.7,217.7 68.5,211.3 69.2,206.7 69.9,204.5 70.6,205.9 71.3,209.7 72.0,213.4 72.7,217.9 73.5,223.3 74.2,229.1 74.9,233.6 75.6,236.7 76.3,240.7 77.0,244.0 77.7,246.3 78.5,249.3 79.2,250.9 79.9,253.3 80.6,256.2 81.3,258.9 82.0,261.7 82.7,264.1 83.5,266.8 84.2,269.1 84.9,271.4 85.6,273.7 86.3,275.1 87.0,277.0 87.7,279.2 88.5,281.0 89.2,282.7 89.9,284.1 90.6,284.3 91.3,286.2 92.0,286.8 92.8,287.3 93.5,287.5 94.2,288.6 94.9,289.6 95.6,289.7 96.3,290.3 97.0,289.9 97.8,290.5 98.5,289.9 99.2,290.5 99.9,291.2 100.6,291.2 101.3,290.8 102.0,291.3 102.8,291.1 103.5,291.5 104.2,292.1 104.9,292.4 105.6,292.2 106.3,291.9 107.0,292.7 107.8,293.2 108.5,292.7 109.2,293.6 109.9,293.9 110.6,293.9 111.3,293.9 112.0,293.6 112.8,294.1 113.5,294.6 114.2,294.2 114.9,294.5 115.6,295.6 116.3,294.8 117.0,296.1 117.8,295.5 118.5,296.4 119.2,296.2 119.9,296.3 120.6,296.7 121.3,297.3 122.0,296.9 122.8,297.3 123.5,298.0 124.2,297.7 124.9,297.8 125.6,298.5 126.3,297.9 127.0,298.8 127.8,298.3 128.5,298.5 129.2,299.4 129.9,299.3 130.6,300.0 131.3,299.2 132.0,299.4 132.8,300.2 133.5,300.3 134.2,299.6 134.9,300.7 135.6,300.5 136.3,300.8 137.1,300.8 137.8,301.3 138.5,301.1 139.2,301.5 139.9,301.3 140.6,301.2 141.3,301.2 142.1,301.8 142.8,301.4 143.5,301.1 144.2,301.8 144.9,301.8 145.6,301.2 146.3,301.2 147.1,302.0 147.8,302.2 148.5,301.7 149.2,301.9 149.9,302.4 150.6,301.8 151.3,301.6 152.1,302.0 152.8,302.2 153.5,302.5 154.2,302.1 154.9,301.6 155.6,302.6 156.3,301.8 157.1,301.8 157.8,302.5 158.5,302.1 159.2,302.4" fill="none" stroke="#1a2a2a" stroke-width="0.9" stroke-dasharray="0.7 1.9" stroke-opacity="0.55"/>
<path d="M16.3,302.7 17.0,302.7 17.7,302.7 18.4,302.7 19.2,302.7 19.9,302.7 20.6,302.7 21.3,302.7 22.0,302.7 22.7,302.7 23.4,302.7 24.2,302.6 24.9,302.6 25.6,302.6 26.3,302.6 27.0,302.6 27.7,302.6 28.4,302.6 29.2,302.6 29.9,302.5 30.6,302.5 31.3,302.5 32.0,302.5 32.7,302.5 33.4,302.4 34.2,302.4 34.9,302.4 35.6,302.4 36.3,302.3 37.0,302.3 37.7,302.3 38.4,302.3 39.2,302.2 39.9,302.2 40.6,302.1 41.3,302.1 42.0,302.1 42.7,302.0 43.5,301.9 44.2,301.9 44.9,301.8 45.6,301.8 46.3,301.7 47.0,301.6 47.7,301.5 48.5,301.4 49.2,301.3 49.9,301.2 50.6,301.0 51.3,300.9 52.0,300.7 52.7,300.5 53.5,300.3 54.2,300.1 54.9,299.8 55.6,299.5 56.3,299.0 57.0,298.5 57.7,297.9 58.5,297.1 59.2,296.0 59.9,294.5 60.6,292.6 61.3,290.2 62.0,287.1 62.7,283.2 63.5,278.5 64.2,272.9 64.9,266.6 65.6,259.6 66.3,252.4 67.0,245.4 67.7,239.2 68.5,234.6 69.2,232.5 69.9,232.8 70.6,234.8 71.3,238.2 72.0,242.9 72.7,248.5 73.5,254.5 74.2,260.9 74.9,267.1 75.6,273.0 76.3,278.5 77.0,283.3 77.7,287.5 78.5,290.9 79.2,293.8 79.9,296.0 80.6,297.8 81.3,299.1 82.0,300.1 82.7,300.8 83.5,301.3 84.2,301.6 84.9,301.9 85.6,302.1 86.3,302.2 87.0,302.3 87.7,302.4 88.5,302.4 89.2,302.5 89.9,302.5 90.6,302.5 91.3,302.6 92.0,302.6 92.8,302.6 93.5,302.6 94.2,302.7 94.9,302.7 95.6,302.7 96.3,302.7 97.0,302.7 97.8,302.7 98.5,302.8 99.2,302.8 99.9,302.8 100.6,302.8 101.3,302.8 102.0,302.8 102.8,302.8 103.5,302.8 104.2,302.8 104.9,302.8 105.6,302.8 106.3,302.8 107.0,302.9 107.8,302.9 108.5,302.9 109.2,302.9 109.9,302.9 110.6,302.9 111.3,302.9 112.0,302.9 112.8,302.9 113.5,302.9 114.2,302.9 114.9,302.9 115.6,302.9 116.3,302.9 117.0,302.9 117.8,302.9 118.5,302.9 119.2,302.9 119.9,302.9 120.6,302.9 121.3,302.9 122.0,302.9 122.8,302.9 123.5,302.9 124.2,302.9 124.9,302.9 125.6,302.9 126.3,302.9 127.0,302.9 127.8,302.9 128.5,302.9 129.2,302.9 129.9,302.9 130.6,302.9 131.3,302.9 132.0,302.9 132.8,302.9 133.5,302.9 134.2,303.0 134.9,303.0 135.6,303.0 136.3,303.0 137.1,303.0 137.8,303.0 138.5,303.0 139.2,303.0 139.9,303.0 140.6,303.0 141.3,303.0 142.1,303.0 142.8,303.0 143.5,303.0 144.2,303.0 144.9,303.0 145.6,303.0 146.3,303.0 147.1,303.0 147.8,303.0 148.5,303.0 149.2,303.0 149.9,303.0 150.6,303.0 151.3,303.0 152.1,303.0 152.8,303.0 153.5,303.0 154.2,303.0 154.9,303.0 155.6,303.0 156.3,303.0 157.1,303.0 157.8,303.0 158.5,303.0 159.2,303.0" fill="none" stroke="#e2626c" stroke-width="1.4"/>
<path d="M16.3,303.0 17.0,303.0 17.7,303.0 18.4,303.0 19.2,303.0 19.9,303.0 20.6,303.0 21.3,303.0 22.0,303.0 22.7,303.0 23.4,303.0 24.2,303.0 24.9,303.0 25.6,303.0 26.3,303.0 27.0,303.0 27.7,303.0 28.4,303.0 29.2,303.0 29.9,303.0 30.6,303.0 31.3,303.0 32.0,303.0 32.7,303.0 33.4,303.0 34.2,303.0 34.9,303.0 35.6,303.0 36.3,303.0 37.0,303.0 37.7,303.0 38.4,303.0 39.2,303.0 39.9,303.0 40.6,303.0 41.3,303.0 42.0,303.0 42.7,303.0 43.5,303.0 44.2,303.0 44.9,303.0 45.6,303.0 46.3,303.0 47.0,303.0 47.7,302.9 48.5,302.9 49.2,302.9 49.9,302.9 50.6,302.9 51.3,302.8 52.0,302.7 52.7,302.7 53.5,302.6 54.2,302.5 54.9,302.3 55.6,302.1 56.3,301.9 57.0,301.6 57.7,301.3 58.5,300.9 59.2,300.4 59.9,299.9 60.6,299.2 61.3,298.5 62.0,297.6 62.7,296.6 63.5,295.6 64.2,294.4 64.9,293.0 65.6,291.6 66.3,290.0 67.0,288.4 67.7,286.7 68.5,284.8 69.2,283.0 69.9,281.1 70.6,279.2 71.3,277.4 72.0,275.6 72.7,274.0 73.5,272.4 74.2,271.0 74.9,269.8 75.6,268.8 76.3,268.1 77.0,267.6 77.7,267.3 78.5,267.4 79.2,267.7 79.9,268.3 80.6,269.1 81.3,270.1 82.0,271.4 82.7,272.8 83.5,274.4 84.2,276.1 84.9,277.9 85.6,279.7 86.3,281.6 87.0,283.4 87.7,285.2 88.5,287.0 89.2,288.7 89.9,290.3 90.6,291.8 91.3,293.1 92.0,294.4 92.8,295.6 93.5,296.6 94.2,297.5 94.9,298.3 95.6,299.0 96.3,299.7 97.0,300.2 97.8,300.6 98.5,301.0 99.2,301.4 99.9,301.6 100.6,301.9 101.3,302.0 102.0,302.2 102.8,302.3 103.5,302.4 104.2,302.5 104.9,302.6 105.6,302.6 106.3,302.7 107.0,302.7 107.8,302.7 108.5,302.7 109.2,302.8 109.9,302.8 110.6,302.8 111.3,302.8 112.0,302.8 112.8,302.8 113.5,302.8 114.2,302.8 114.9,302.8 115.6,302.8 116.3,302.8 117.0,302.9 117.8,302.9 118.5,302.9 119.2,302.9 119.9,302.9 120.6,302.9 121.3,302.9 122.0,302.9 122.8,302.9 123.5,302.9 124.2,302.9 124.9,302.9 125.6,302.9 126.3,302.9 127.0,302.9 127.8,302.9 128.5,302.9 129.2,302.9 129.9,302.9 130.6,302.9 131.3,302.9 132.0,302.9 132.8,302.9 133.5,302.9 134.2,302.9 134.9,302.9 135.6,302.9 136.3,302.9 137.1,302.9 137.8,302.9 138.5,302.9 139.2,302.9 139.9,302.9 140.6,302.9 141.3,302.9 142.1,302.9 142.8,302.9 143.5,302.9 144.2,302.9 144.9,302.9 145.6,302.9 146.3,302.9 147.1,302.9 147.8,302.9 148.5,302.9 149.2,302.9 149.9,302.9 150.6,302.9 151.3,302.9 152.1,303.0 152.8,303.0 153.5,303.0 154.2,303.0 154.9,303.0 155.6,303.0 156.3,303.0 157.1,303.0 157.8,303.0 158.5,303.0 159.2,303.0" fill="none" stroke="#74e274" stroke-width="1.4"/>
<path d="M16.3,302.8 17.0,302.8 17.7,302.8 18.4,302.8 19.2,302.7 19.9,302.7 20.6,302.7 21.3,302.7 22.0,302.7 22.7,302.7 23.4,302.7 24.2,302.7 24.9,302.7 25.6,302.7 26.3,302.7 27.0,302.7 27.7,302.6 28.4,302.6 29.2,302.6 29.9,302.6 30.6,302.6 31.3,302.6 32.0,302.5 32.7,302.5 33.4,302.5 34.2,302.5 34.9,302.5 35.6,302.4 36.3,302.4 37.0,302.4 37.7,302.4 38.4,302.3 39.2,302.3 39.9,302.3 40.6,302.2 41.3,302.2 42.0,302.1 42.7,302.1 43.5,302.1 44.2,302.0 44.9,302.0 45.6,301.9 46.3,301.8 47.0,301.8 47.7,301.7 48.5,301.7 49.2,301.6 49.9,301.5 50.6,301.4 51.3,301.4 52.0,301.3 52.7,301.2 53.5,301.1 54.2,301.0 54.9,300.9 55.6,300.8 56.3,300.7 57.0,300.6 57.7,300.4 58.5,300.3 59.2,300.2 59.9,300.1 60.6,299.9 61.3,299.8 62.0,299.7 62.7,299.5 63.5,299.4 64.2,299.2 64.9,299.0 65.6,298.9 66.3,298.7 67.0,298.5 67.7,298.4 68.5,298.2 69.2,298.0 69.9,297.8 70.6,297.6 71.3,297.4 72.0,297.3 72.7,297.1 73.5,296.9 74.2,296.7 74.9,296.5 75.6,296.3 76.3,296.1 77.0,295.9 77.7,295.7 78.5,295.5 79.2,295.3 79.9,295.1 80.6,294.9 81.3,294.7 82.0,294.5 82.7,294.3 83.5,294.1 84.2,294.0 84.9,293.8 85.6,293.6 86.3,293.5 87.0,293.3 87.7,293.2 88.5,293.0 89.2,292.9 89.9,292.8 90.6,292.7 91.3,292.6 92.0,292.5 92.8,292.4 93.5,292.3 94.2,292.3 94.9,292.2 95.6,292.2 96.3,292.2 97.0,292.1 97.8,292.1 98.5,292.1 99.2,292.2 99.9,292.2 100.6,292.3 101.3,292.3 102.0,292.4 102.8,292.5 103.5,292.6 104.2,292.7 104.9,292.8 105.6,293.0 106.3,293.1 107.0,293.3 107.8,293.5 108.5,293.7 109.2,293.8 109.9,294.0 110.6,294.2 111.3,294.5 112.0,294.7 112.8,294.9 113.5,295.1 114.2,295.3 114.9,295.6 115.6,295.8 116.3,296.1 117.0,296.3 117.8,296.5 118.5,296.8 119.2,297.0 119.9,297.2 120.6,297.5 121.3,297.7 122.0,297.9 122.8,298.2 123.5,298.4 124.2,298.6 124.9,298.8 125.6,299.0 126.3,299.2 127.0,299.4 127.8,299.6 128.5,299.8 129.2,300.0 129.9,300.1 130.6,300.3 131.3,300.5 132.0,300.6 132.8,300.8 133.5,300.9 134.2,301.0 134.9,301.2 135.6,301.3 136.3,301.4 137.1,301.5 137.8,301.6 138.5,301.7 139.2,301.8 139.9,301.9 140.6,302.0 141.3,302.1 142.1,302.1 142.8,302.2 143.5,302.3 144.2,302.3 144.9,302.4 145.6,302.4 146.3,302.5 147.1,302.5 147.8,302.6 148.5,302.6 149.2,302.7 149.9,302.7 150.6,302.7 151.3,302.7 152.1,302.8 152.8,302.8 153.5,302.8 154.2,302.8 154.9,302.9 155.6,302.9 156.3,302.9 157.1,302.9 157.8,302.9 158.5,302.9 159.2,302.9" fill="none" stroke="#5c58d2" stroke-width="1.4"/>
</g>
<rect x="16.3" y="194.6" width="142.90" height="114.15" fill="none" stroke="#111" stroke-width="1.6"/>
<line x1="16.30" y1="308.75" x2="16.30" y2="311.35" stroke="#111" stroke-width="1.1"/>
<line x1="16.30" y1="194.6" x2="16.30" y2="192.0" stroke="#111" stroke-width="1.1"/>
<line x1="34.16" y1="308.75" x2="34.16" y2="310.35" stroke="#111" stroke-width="1.1"/>
<line x1="34.16" y1="194.6" x2="34.16" y2="193.0" stroke="#111" stroke-width="1.1"/>
<line x1="52.02" y1="308.75" x2="52.02" y2="311.35" stroke="#111" stroke-width="1.1"/>
<line x1="52.02" y1="194.6" x2="52.02" y2="192.0" stroke="#111" stroke-width="1.1"/>
<line x1="69.89" y1="308.75" x2="69.89" y2="310.35" stroke="#111" stroke-width="1.1"/>
<line x1="69.89" y1="194.6" x2="69.89" y2="193.0" stroke="#111" stroke-width="1.1"/>
<line x1="87.75" y1="308.75" x2="87.75" y2="311.35" stroke="#111" stroke-width="1.1"/>
<line x1="87.75" y1="194.6" x2="87.75" y2="192.0" stroke="#111" stroke-width="1.1"/>
<line x1="105.61" y1="308.75" x2="105.61" y2="310.35" stroke="#111" stroke-width="1.1"/>
<line x1="105.61" y1="194.6" x2="105.61" y2="193.0" stroke="#111" stroke-width="1.1"/>
<line x1="123.47" y1="308.75" x2="123.47" y2="311.35" stroke="#111" stroke-width="1.1"/>
<line x1="123.47" y1="194.6" x2="123.47" y2="192.0" stroke="#111" stroke-width="1.1"/>
<line x1="141.34" y1="308.75" x2="141.34" y2="310.35" stroke="#111" stroke-width="1.1"/>
<line x1="141.34" y1="194.6" x2="141.34" y2="193.0" stroke="#111" stroke-width="1.1"/>
<line x1="159.20" y1="308.75" x2="159.20" y2="311.35" stroke="#111" stroke-width="1.1"/>
<line x1="159.20" y1="194.6" x2="159.20" y2="192.0" stroke="#111" stroke-width="1.1"/>
<text transform="translate(16.30,320.55) scale(1,1.15)" class="tk">700</text>
<text transform="translate(16.30,190.70) scale(1,1.15)" class="tk">1.771</text>
<text transform="translate(52.02,320.55) scale(1,1.15)" class="tk">750</text>
<text transform="translate(52.02,190.70) scale(1,1.15)" class="tk">1.653</text>
<text transform="translate(87.75,320.55) scale(1,1.15)" class="tk">800</text>
<text transform="translate(87.75,190.70) scale(1,1.15)" class="tk">1.550</text>
<text transform="translate(123.47,320.55) scale(1,1.15)" class="tk">850</text>
<text transform="translate(123.47,190.70) scale(1,1.15)" class="tk">1.459</text>
<text transform="translate(159.20,320.55) scale(1,1.15)" class="tk">900</text>
<text transform="translate(159.20,190.70) scale(1,1.15)" class="tk">1.378</text>
<text transform="translate(88.05,331.15) scale(1,1.02)" class="tw">Wavelength (nm)</text>
<text transform="translate(87.75,177.30) scale(1,1.0)" class="ti">Energy (eV)</text>
<text transform="translate(7.90,248.08) rotate(-90) scale(1,1.0)" class="yl">PL Intensity (a.u.)</text>
<text transform="translate(19.30,206.70) scale(1,1.0)" class="pl">(d)</text>
<line x1="110.20" y1="199.70" x2="126.20" y2="199.70" stroke="#ababab" stroke-width="1.3"/>
<text transform="translate(128.20,202.20) scale(1,1.1)" class="lg">210 K</text>
<line x1="110.20" y1="208.30" x2="126.20" y2="208.30" stroke="#f08a90" stroke-width="1.3"/>
<text transform="translate(128.20,210.80) scale(1,1.1)" class="lg">A<tspan class="sup" dy="-2.3">0</tspan></text>
<line x1="110.20" y1="217.10" x2="126.20" y2="217.10" stroke="#92ea92" stroke-width="1.3"/>
<text transform="translate(128.20,219.60) scale(1,1.1)" class="lg">A<tspan class="sup" dy="-2.3">-</tspan></text>
<line x1="110.20" y1="225.60" x2="126.20" y2="225.60" stroke="#7c7adc" stroke-width="1.3"/>
<text transform="translate(128.20,228.10) scale(1,1.1)" class="lg">D</text>
<line x1="110.20" y1="233.90" x2="126.20" y2="233.90" stroke="#a8eef0" stroke-width="1.3"/>
<text transform="translate(128.20,236.40) scale(1,1.1)" class="lg">Global Fit</text>
<g clip-path="url(#clipe)">
<path d="M190.4,304.3 191.1,304.3 191.8,304.3 192.5,304.2 193.2,304.2 194.0,304.2 194.7,304.1 195.4,304.1 196.1,304.1 196.8,304.1 197.5,304.0 198.2,304.0 198.9,303.9 199.7,303.9 200.4,303.9 201.1,303.8 201.8,303.8 202.5,303.7 203.2,303.7 203.9,303.6 204.6,303.6 205.4,303.5 206.1,303.4 206.8,303.4 207.5,303.3 208.2,303.2 208.9,303.1 209.6,303.1 210.3,303.0 211.0,302.9 211.8,302.8 212.5,302.7 213.2,302.5 213.9,302.4 214.6,302.3 215.3,302.1 216.0,302.0 216.7,301.8 217.5,301.6 218.2,301.4 218.9,301.2 219.6,300.9 220.3,300.7 221.0,300.4 221.7,300.0 222.4,299.6 223.2,299.1 223.9,298.5 224.6,297.8 225.3,296.9 226.0,295.8 226.7,294.3 227.4,292.5 228.1,290.3 228.8,287.5 229.6,284.0 230.3,279.9 231.0,275.0 231.7,269.4 232.4,263.0 233.1,256.0 233.8,248.4 234.5,240.4 235.3,232.5 236.0,224.8 236.7,217.9 237.4,212.1 238.1,207.9 238.8,205.6 239.5,205.4 240.2,207.1 241.0,210.1 241.7,213.9 242.4,218.0 243.1,222.1 243.8,225.9 244.5,229.4 245.2,232.4 245.9,235.1 246.6,237.7 247.4,240.2 248.1,242.8 248.8,245.5 249.5,248.3 250.2,251.3 250.9,254.3 251.6,257.4 252.3,260.6 253.1,263.7 253.8,266.7 254.5,269.5 255.2,272.2 255.9,274.8 256.6,277.1 257.3,279.2 258.0,281.1 258.8,282.8 259.5,284.3 260.2,285.6 260.9,286.8 261.6,287.7 262.3,288.6 263.0,289.3 263.7,289.9 264.4,290.4 265.2,290.9 265.9,291.4 266.6,291.8 267.3,292.2 268.0,292.5 268.7,292.8 269.4,293.1 270.1,293.4 270.9,293.6 271.6,293.8 272.3,294.0 273.0,294.2 273.7,294.4 274.4,294.6 275.1,294.8 275.8,295.0 276.6,295.2 277.3,295.3 278.0,295.5 278.7,295.7 279.4,295.8 280.1,296.0 280.8,296.2 281.5,296.3 282.2,296.5 283.0,296.7 283.7,296.8 284.4,297.0 285.1,297.1 285.8,297.3 286.5,297.5 287.2,297.6 287.9,297.8 288.7,297.9 289.4,298.1 290.1,298.2 290.8,298.4 291.5,298.5 292.2,298.7 292.9,298.8 293.6,298.9 294.4,299.1 295.1,299.2 295.8,299.3 296.5,299.5 297.2,299.6 297.9,299.7 298.6,299.9 299.3,300.0 300.0,300.1 300.8,300.2 301.5,300.4 302.2,300.5 302.9,300.6 303.6,300.7 304.3,300.8 305.0,300.9 305.7,301.0 306.5,301.1 307.2,301.2 307.9,301.3 308.6,301.4 309.3,301.5 310.0,301.6 310.7,301.7 311.4,301.8 312.2,301.9 312.9,302.0 313.6,302.0 314.3,302.1 315.0,302.2 315.7,302.3 316.4,302.4 317.1,302.4 317.8,302.5 318.6,302.6 319.3,302.6 320.0,302.7 320.7,302.8 321.4,302.8 322.1,302.9 322.8,303.0 323.5,303.0 324.3,303.1 325.0,303.1 325.7,303.2 326.4,303.2 327.1,303.3 327.8,303.3 328.5,303.4 329.2,303.4 330.0,303.5 330.7,303.5 331.4,303.5 332.1,303.6 332.8,303.6" fill="none" stroke="#b4f1f4" stroke-width="3.0"/>
<path d="M190.4,304.3 191.1,304.3 191.8,304.3 192.5,304.2 193.2,304.2 194.0,304.2 194.7,304.1 195.4,304.1 196.1,304.1 196.8,304.1 197.5,304.0 198.2,304.0 198.9,303.9 199.7,303.9 200.4,303.9 201.1,303.8 201.8,303.8 202.5,303.7 203.2,303.7 203.9,303.6 204.6,303.6 205.4,303.5 206.1,303.4 206.8,303.4 207.5,303.3 208.2,303.2 208.9,303.1 209.6,303.1 210.3,303.0 211.0,302.9 211.8,302.8 212.5,302.7 213.2,302.5 213.9,302.4 214.6,302.3 215.3,302.1 216.0,302.0 216.7,301.8 217.5,301.6 218.2,301.4 218.9,301.2 219.6,300.9 220.3,300.7 221.0,300.4 221.7,300.0 222.4,299.6 223.2,299.1 223.9,298.5 224.6,297.8 225.3,296.9 226.0,295.8 226.7,294.3 227.4,292.5 228.1,290.3 228.8,287.5 229.6,284.0 230.3,279.9 231.0,275.0 231.7,269.4 232.4,263.0 233.1,256.0 233.8,248.4 234.5,240.4 235.3,232.5 236.0,224.8 236.7,217.9 237.4,212.1 238.1,207.9 238.8,205.6 239.5,205.4 240.2,207.1 241.0,210.1 241.7,213.9 242.4,218.0 243.1,222.1 243.8,225.9 244.5,229.4 245.2,232.4 245.9,235.1 246.6,237.7 247.4,240.2 248.1,242.8 248.8,245.5 249.5,248.3 250.2,251.3 250.9,254.3 251.6,257.4 252.3,260.6 253.1,263.7 253.8,266.7 254.5,269.5 255.2,272.2 255.9,274.8 256.6,277.1 257.3,279.2 258.0,281.1 258.8,282.8 259.5,284.3 260.2,285.6 260.9,286.8 261.6,287.7 262.3,288.6 263.0,289.3 263.7,289.9 264.4,290.4 265.2,290.9 265.9,291.4 266.6,291.8 267.3,292.2 268.0,292.5 268.7,292.8 269.4,293.1 270.1,293.4 270.9,293.6 271.6,293.8 272.3,294.0 273.0,294.2 273.7,294.4 274.4,294.6 275.1,294.8 275.8,295.0 276.6,295.2 277.3,295.3 278.0,295.5 278.7,295.7 279.4,295.8 280.1,296.0 280.8,296.2 281.5,296.3 282.2,296.5 283.0,296.7 283.7,296.8 284.4,297.0 285.1,297.1 285.8,297.3 286.5,297.5 287.2,297.6 287.9,297.8 288.7,297.9 289.4,298.1 290.1,298.2 290.8,298.4 291.5,298.5 292.2,298.7 292.9,298.8 293.6,298.9 294.4,299.1 295.1,299.2 295.8,299.3 296.5,299.5 297.2,299.6 297.9,299.7 298.6,299.9 299.3,300.0 300.0,300.1 300.8,300.2 301.5,300.4 302.2,300.5 302.9,300.6 303.6,300.7 304.3,300.8 305.0,300.9 305.7,301.0 306.5,301.1 307.2,301.2 307.9,301.3 308.6,301.4 309.3,301.5 310.0,301.6 310.7,301.7 311.4,301.8 312.2,301.9 312.9,302.0 313.6,302.0 314.3,302.1 315.0,302.2 315.7,302.3 316.4,302.4 317.1,302.4 317.8,302.5 318.6,302.6 319.3,302.6 320.0,302.7 320.7,302.8 321.4,302.8 322.1,302.9 322.8,303.0 323.5,303.0 324.3,303.1 325.0,303.1 325.7,303.2 326.4,303.2 327.1,303.3 327.8,303.3 328.5,303.4 329.2,303.4 330.0,303.5 330.7,303.5 331.4,303.5 332.1,303.6 332.8,303.6" fill="none" stroke="#40c0cc" stroke-width="1.5"/>
<path d="M190.4,304.3 191.1,304.1 191.8,304.2 192.5,304.2 193.2,304.3 194.0,304.3 194.7,304.4 195.4,304.3 196.1,304.3 196.8,304.3 197.5,303.8 198.2,303.7 198.9,303.8 199.7,304.2 200.4,304.1 201.1,304.1 201.8,303.7 202.5,303.7 203.2,303.6 203.9,303.5 204.6,303.3 205.4,303.4 206.1,303.2 206.8,303.3 207.5,303.5 208.2,303.2 208.9,303.3 209.6,303.3 210.3,303.0 211.0,303.0 211.8,302.8 212.5,302.5 213.2,302.3 213.9,302.1 214.6,302.1 215.3,301.9 216.0,302.1 216.7,301.9 217.5,301.8 218.2,301.3 218.9,301.1 219.6,300.8 220.3,300.8 221.0,300.5 221.7,300.2 222.4,299.6 223.2,299.2 223.9,298.3 224.6,298.0 225.3,296.9 226.0,295.6 226.7,294.1 227.4,292.6 228.1,290.0 228.8,287.2 229.6,283.9 230.3,280.2 231.0,274.8 231.7,269.4 232.4,263.2 233.1,255.7 233.8,248.6 234.5,240.2 235.3,232.6 236.0,225.0 236.7,217.8 237.4,212.2 238.1,207.8 238.8,205.6 239.5,205.6 240.2,207.2 241.0,210.0 241.7,213.7 242.4,217.9 243.1,222.2 243.8,226.0 244.5,229.4 245.2,232.6 245.9,234.9 246.6,237.8 247.4,240.3 248.1,243.1 248.8,245.6 249.5,248.4 250.2,251.0 250.9,254.6 251.6,257.5 252.3,260.5 253.1,263.4 253.8,266.8 254.5,269.3 255.2,272.0 255.9,274.8 256.6,277.2 257.3,279.4 258.0,281.1 258.8,283.0 259.5,284.3 260.2,285.6 260.9,286.7 261.6,287.6 262.3,288.3 263.0,289.2 263.7,289.8 264.4,290.4 265.2,290.8 265.9,291.3 266.6,291.7 267.3,291.9 268.0,292.7 268.7,292.6 269.4,293.0 270.1,293.3 270.9,293.7 271.6,294.1 272.3,294.2 273.0,294.5 273.7,294.3 274.4,294.5 275.1,294.9 275.8,294.8 276.6,294.9 277.3,295.6 278.0,295.7 278.7,295.6 279.4,296.0 280.1,296.2 280.8,296.3 281.5,296.3 282.2,296.3 283.0,296.8 283.7,296.9 284.4,296.8 285.1,297.3 285.8,297.5 286.5,297.7 287.2,297.9 287.9,298.0 288.7,297.8 289.4,298.2 290.1,297.9 290.8,298.6 291.5,298.7 292.2,298.4 292.9,298.9 293.6,298.9 294.4,299.2 295.1,299.0 295.8,299.4 296.5,299.5 297.2,299.8 297.9,299.9 298.6,299.6 299.3,300.0 300.0,300.1 300.8,300.3 301.5,300.2 302.2,300.5 302.9,300.5 303.6,300.7 304.3,301.0 305.0,300.8 305.7,300.7 306.5,301.3 307.2,301.3 307.9,301.5 308.6,301.1 309.3,301.8 310.0,301.6 310.7,301.5 311.4,302.0 312.2,301.9 312.9,301.8 313.6,302.3 314.3,302.1 315.0,302.0 315.7,302.4 316.4,302.3 317.1,302.5 317.8,302.5 318.6,302.5 319.3,302.9 320.0,302.8 320.7,303.0 321.4,302.8 322.1,302.8 322.8,303.2 323.5,303.1 324.3,303.1 325.0,303.2 325.7,302.9 326.4,303.2 327.1,303.2 327.8,303.0 328.5,303.2 329.2,303.7 330.0,303.5 330.7,303.3 331.4,303.7 332.1,303.6 332.8,303.5" fill="none" stroke="#1e3434" stroke-width="1.0" stroke-opacity="0.6"/>
<path d="M241.0,209.6 241.7,213.6 242.4,217.7 243.1,221.9 243.8,225.7 244.5,229.2 245.2,232.3 245.9,235.2 246.6,237.3 247.4,240.8 248.1,243.0 248.8,246.0 249.5,248.2 250.2,251.8 250.9,254.1 251.6,257.0 252.3,260.5 253.1,263.5 253.8,266.9 254.5,269.7 255.2,272.5 255.9,274.2 256.6,277.3 257.3,278.7 258.0,281.4 258.8,282.8 259.5,284.3 260.2,285.6 260.9,287.2 261.6,288.3 262.3,288.7 263.0,289.6 263.7,290.5 264.4,290.1 265.2,291.0 265.9,291.7 266.6,291.9 267.3,292.3 268.0,292.2 268.7,292.4 269.4,293.5 270.1,293.4 270.9,293.4 271.6,294.3 272.3,294.5 273.0,293.9 273.7,294.6 274.4,294.3 275.1,294.4 275.8,294.9 276.6,295.5 277.3,294.8 278.0,295.5 278.7,295.5 279.4,295.6 280.1,295.4 280.8,296.1 281.5,296.5 282.2,296.6 283.0,296.7 283.7,296.7 284.4,297.5 285.1,297.6 285.8,297.2 286.5,298.0 287.2,297.6 287.9,297.7 288.7,297.7 289.4,297.7 290.1,298.7 290.8,298.3 291.5,298.7 292.2,298.7 292.9,298.3 293.6,299.1 294.4,299.2 295.1,298.6 295.8,299.8 296.5,300.0 297.2,300.1 297.9,299.2 298.6,300.0 299.3,299.7 300.0,299.6 300.8,300.5 301.5,300.8 302.2,300.4 302.9,300.7 303.6,300.5 304.3,301.2 305.0,300.5 305.7,300.5 306.5,301.6 307.2,301.4 307.9,301.4 308.6,301.1 309.3,301.5 310.0,301.3 310.7,301.7 311.4,301.3 312.2,302.0 312.9,301.8 313.6,302.2 314.3,302.6 315.0,302.5 315.7,302.1 316.4,302.0 317.1,302.8 317.8,302.0 318.6,302.3 319.3,302.0 320.0,302.3 320.7,302.9 321.4,302.4 322.1,303.4 322.8,303.3 323.5,302.6 324.3,303.6 325.0,302.8 325.7,303.1 326.4,303.4 327.1,303.1 327.8,302.8 328.5,303.3 329.2,303.0 330.0,303.3 330.7,303.0 331.4,303.5 332.1,304.1 332.8,303.8" fill="none" stroke="#1a2a2a" stroke-width="0.9" stroke-dasharray="0.7 1.9" stroke-opacity="0.55"/>
<path d="M190.4,304.5 191.1,304.5 191.8,304.5 192.5,304.5 193.2,304.5 194.0,304.5 194.7,304.4 195.4,304.4 196.1,304.4 196.8,304.4 197.5,304.4 198.2,304.4 198.9,304.4 199.7,304.3 200.4,304.3 201.1,304.3 201.8,304.3 202.5,304.3 203.2,304.2 203.9,304.2 204.6,304.2 205.4,304.2 206.1,304.1 206.8,304.1 207.5,304.1 208.2,304.0 208.9,304.0 209.6,303.9 210.3,303.9 211.0,303.8 211.8,303.8 212.5,303.7 213.2,303.7 213.9,303.6 214.6,303.5 215.3,303.5 216.0,303.4 216.7,303.3 217.5,303.2 218.2,303.1 218.9,302.9 219.6,302.8 220.3,302.6 221.0,302.4 221.7,302.2 222.4,302.0 223.2,301.7 223.9,301.4 224.6,300.9 225.3,300.3 226.0,299.6 226.7,298.6 227.4,297.3 228.1,295.7 228.8,293.5 229.6,290.8 230.3,287.4 231.0,283.3 231.7,278.4 232.4,272.7 233.1,266.3 233.8,259.4 234.5,252.2 235.3,245.0 236.0,238.3 236.7,232.5 237.4,228.3 238.1,226.2 238.8,226.5 239.5,229.5 240.2,234.9 241.0,242.0 241.7,250.1 242.4,258.6 243.1,267.0 243.8,274.6 244.5,281.4 245.2,287.1 245.9,291.7 246.6,295.2 247.4,297.9 248.1,299.8 248.8,301.2 249.5,302.1 250.2,302.7 250.9,303.2 251.6,303.4 252.3,303.6 253.1,303.8 253.8,303.9 254.5,304.0 255.2,304.1 255.9,304.1 256.6,304.2 257.3,304.2 258.0,304.3 258.8,304.3 259.5,304.3 260.2,304.4 260.9,304.4 261.6,304.4 262.3,304.5 263.0,304.5 263.7,304.5 264.4,304.5 265.2,304.5 265.9,304.5 266.6,304.6 267.3,304.6 268.0,304.6 268.7,304.6 269.4,304.6 270.1,304.6 270.9,304.6 271.6,304.6 272.3,304.6 273.0,304.7 273.7,304.7 274.4,304.7 275.1,304.7 275.8,304.7 276.6,304.7 277.3,304.7 278.0,304.7 278.7,304.7 279.4,304.7 280.1,304.7 280.8,304.7 281.5,304.7 282.2,304.7 283.0,304.7 283.7,304.7 284.4,304.7 285.1,304.7 285.8,304.7 286.5,304.7 287.2,304.8 287.9,304.8 288.7,304.8 289.4,304.8 290.1,304.8 290.8,304.8 291.5,304.8 292.2,304.8 292.9,304.8 293.6,304.8 294.4,304.8 295.1,304.8 295.8,304.8 296.5,304.8 297.2,304.8 297.9,304.8 298.6,304.8 299.3,304.8 300.0,304.8 300.8,304.8 301.5,304.8 302.2,304.8 302.9,304.8 303.6,304.8 304.3,304.8 305.0,304.8 305.7,304.8 306.5,304.8 307.2,304.8 307.9,304.8 308.6,304.8 309.3,304.8 310.0,304.8 310.7,304.8 311.4,304.8 312.2,304.8 312.9,304.8 313.6,304.8 314.3,304.8 315.0,304.8 315.7,304.8 316.4,304.8 317.1,304.8 317.8,304.8 318.6,304.8 319.3,304.8 320.0,304.8 320.7,304.8 321.4,304.8 322.1,304.8 322.8,304.8 323.5,304.8 324.3,304.8 325.0,304.8 325.7,304.8 326.4,304.8 327.1,304.8 327.8,304.8 328.5,304.8 329.2,304.8 330.0,304.8 330.7,304.8 331.4,304.8 332.1,304.8 332.8,304.8" fill="none" stroke="#e2626c" stroke-width="1.4"/>
<path d="M190.4,303.1 191.1,303.1 191.8,303.1 192.5,303.1 193.2,303.1 194.0,303.0 194.7,303.0 195.4,303.0 196.1,303.0 196.8,303.0 197.5,302.9 198.2,302.9 198.9,302.9 199.7,302.8 200.4,302.8 201.1,302.8 201.8,302.8 202.5,302.7 203.2,302.7 203.9,302.6 204.6,302.6 205.4,302.6 206.1,302.5 206.8,302.5 207.5,302.4 208.2,302.4 208.9,302.3 209.6,302.3 210.3,302.2 211.0,302.2 211.8,302.1 212.5,302.0 213.2,301.9 213.9,301.9 214.6,301.8 215.3,301.7 216.0,301.6 216.7,301.5 217.5,301.4 218.2,301.3 218.9,301.2 219.6,301.0 220.3,300.9 221.0,300.8 221.7,300.6 222.4,300.4 223.2,300.2 223.9,300.0 224.6,299.8 225.3,299.6 226.0,299.3 226.7,299.1 227.4,298.8 228.1,298.4 228.8,298.1 229.6,297.7 230.3,297.2 231.0,296.7 231.7,296.2 232.4,295.6 233.1,294.9 233.8,294.2 234.5,293.4 235.3,292.4 236.0,291.4 236.7,290.2 237.4,288.9 238.1,287.4 238.8,285.7 239.5,283.8 240.2,281.6 241.0,279.2 241.7,276.6 242.4,273.7 243.1,270.6 243.8,267.3 244.5,264.0 245.2,260.9 245.9,258.1 246.6,255.9 247.4,254.6 248.1,254.2 248.8,254.7 249.5,255.8 250.2,257.4 250.9,259.5 251.6,261.9 252.3,264.5 253.1,267.2 253.8,269.8 254.5,272.4 255.2,274.8 255.9,277.1 256.6,279.3 257.3,281.2 258.0,283.0 258.8,284.6 259.5,286.1 260.2,287.5 260.9,288.7 261.6,289.8 262.3,290.8 263.0,291.7 263.7,292.5 264.4,293.3 265.2,294.0 265.9,294.6 266.6,295.2 267.3,295.7 268.0,296.2 268.7,296.6 269.4,297.0 270.1,297.4 270.9,297.7 271.6,298.1 272.3,298.4 273.0,298.6 273.7,298.9 274.4,299.1 275.1,299.3 275.8,299.6 276.6,299.7 277.3,299.9 278.0,300.1 278.7,300.3 279.4,300.4 280.1,300.5 280.8,300.7 281.5,300.8 282.2,300.9 283.0,301.0 283.7,301.1 284.4,301.2 285.1,301.3 285.8,301.4 286.5,301.5 287.2,301.6 287.9,301.7 288.7,301.7 289.4,301.8 290.1,301.9 290.8,301.9 291.5,302.0 292.2,302.1 292.9,302.1 293.6,302.2 294.4,302.2 295.1,302.3 295.8,302.3 296.5,302.3 297.2,302.4 297.9,302.4 298.6,302.5 299.3,302.5 300.0,302.5 300.8,302.6 301.5,302.6 302.2,302.6 302.9,302.7 303.6,302.7 304.3,302.7 305.0,302.8 305.7,302.8 306.5,302.8 307.2,302.8 307.9,302.9 308.6,302.9 309.3,302.9 310.0,302.9 310.7,302.9 311.4,303.0 312.2,303.0 312.9,303.0 313.6,303.0 314.3,303.0 315.0,303.1 315.7,303.1 316.4,303.1 317.1,303.1 317.8,303.1 318.6,303.1 319.3,303.1 320.0,303.2 320.7,303.2 321.4,303.2 322.1,303.2 322.8,303.2 323.5,303.2 324.3,303.2 325.0,303.2 325.7,303.3 326.4,303.3 327.1,303.3 327.8,303.3 328.5,303.3 329.2,303.3 330.0,303.3 330.7,303.3 331.4,303.3 332.1,303.3 332.8,303.3" fill="none" stroke="#74e274" stroke-width="1.4"/>
<path d="M190.4,304.6 191.1,304.6 191.8,304.6 192.5,304.6 193.2,304.6 194.0,304.6 194.7,304.6 195.4,304.6 196.1,304.6 196.8,304.6 197.5,304.6 198.2,304.6 198.9,304.6 199.7,304.6 200.4,304.6 201.1,304.6 201.8,304.6 202.5,304.6 203.2,304.6 203.9,304.5 204.6,304.5 205.4,304.5 206.1,304.5 206.8,304.5 207.5,304.5 208.2,304.5 208.9,304.5 209.6,304.5 210.3,304.5 211.0,304.5 211.8,304.4 212.5,304.4 213.2,304.4 213.9,304.4 214.6,304.4 215.3,304.4 216.0,304.4 216.7,304.3 217.5,304.3 218.2,304.3 218.9,304.3 219.6,304.3 220.3,304.2 221.0,304.2 221.7,304.2 222.4,304.2 223.2,304.1 223.9,304.1 224.6,304.1 225.3,304.0 226.0,304.0 226.7,304.0 227.4,303.9 228.1,303.9 228.8,303.9 229.6,303.8 230.3,303.8 231.0,303.7 231.7,303.7 232.4,303.6 233.1,303.6 233.8,303.5 234.5,303.5 235.3,303.4 236.0,303.4 236.7,303.3 237.4,303.2 238.1,303.2 238.8,303.1 239.5,303.0 240.2,303.0 241.0,302.9 241.7,302.8 242.4,302.7 243.1,302.6 243.8,302.5 244.5,302.5 245.2,302.4 245.9,302.3 246.6,302.2 247.4,302.1 248.1,302.0 248.8,301.9 249.5,301.8 250.2,301.7 250.9,301.6 251.6,301.4 252.3,301.3 253.1,301.2 253.8,301.1 254.5,301.0 255.2,300.9 255.9,300.7 256.6,300.6 257.3,300.5 258.0,300.4 258.8,300.2 259.5,300.1 260.2,300.0 260.9,299.9 261.6,299.8 262.3,299.6 263.0,299.5 263.7,299.4 264.4,299.3 265.2,299.2 265.9,299.0 266.6,298.9 267.3,298.8 268.0,298.7 268.7,298.6 269.4,298.5 270.1,298.4 270.9,298.3 271.6,298.2 272.3,298.1 273.0,298.1 273.7,298.0 274.4,297.9 275.1,297.9 275.8,297.8 276.6,297.8 277.3,297.7 278.0,297.7 278.7,297.6 279.4,297.6 280.1,297.6 280.8,297.6 281.5,297.6 282.2,297.6 283.0,297.7 283.7,297.7 284.4,297.8 285.1,297.9 285.8,298.0 286.5,298.1 287.2,298.2 287.9,298.4 288.7,298.5 289.4,298.7 290.1,298.8 290.8,299.0 291.5,299.2 292.2,299.3 292.9,299.5 293.6,299.7 294.4,299.8 295.1,300.0 295.8,300.2 296.5,300.3 297.2,300.5 297.9,300.7 298.6,300.8 299.3,301.0 300.0,301.1 300.8,301.2 301.5,301.4 302.2,301.5 302.9,301.6 303.6,301.8 304.3,301.9 305.0,302.0 305.7,302.1 306.5,302.2 307.2,302.3 307.9,302.4 308.6,302.5 309.3,302.6 310.0,302.7 310.7,302.7 311.4,302.8 312.2,302.9 312.9,303.0 313.6,303.0 314.3,303.1 315.0,303.2 315.7,303.2 316.4,303.3 317.1,303.3 317.8,303.4 318.6,303.4 319.3,303.5 320.0,303.5 320.7,303.6 321.4,303.6 322.1,303.6 322.8,303.7 323.5,303.7 324.3,303.8 325.0,303.8 325.7,303.8 326.4,303.8 327.1,303.9 327.8,303.9 328.5,303.9 329.2,304.0 330.0,304.0 330.7,304.0 331.4,304.0 332.1,304.0 332.8,304.1" fill="none" stroke="#5c58d2" stroke-width="1.4"/>
</g>
<rect x="190.4" y="194.8" width="142.40" height="114.40" fill="none" stroke="#111" stroke-width="1.6"/>
<line x1="190.40" y1="309.2" x2="190.40" y2="311.8" stroke="#111" stroke-width="1.1"/>
<line x1="190.40" y1="194.8" x2="190.40" y2="192.20000000000002" stroke="#111" stroke-width="1.1"/>
<line x1="208.20" y1="309.2" x2="208.20" y2="310.8" stroke="#111" stroke-width="1.1"/>
<line x1="208.20" y1="194.8" x2="208.20" y2="193.20000000000002" stroke="#111" stroke-width="1.1"/>
<line x1="226.00" y1="309.2" x2="226.00" y2="311.8" stroke="#111" stroke-width="1.1"/>
<line x1="226.00" y1="194.8" x2="226.00" y2="192.20000000000002" stroke="#111" stroke-width="1.1"/>
<line x1="243.80" y1="309.2" x2="243.80" y2="310.8" stroke="#111" stroke-width="1.1"/>
<line x1="243.80" y1="194.8" x2="243.80" y2="193.20000000000002" stroke="#111" stroke-width="1.1"/>
<line x1="261.60" y1="309.2" x2="261.60" y2="311.8" stroke="#111" stroke-width="1.1"/>
<line x1="261.60" y1="194.8" x2="261.60" y2="192.20000000000002" stroke="#111" stroke-width="1.1"/>
<line x1="279.40" y1="309.2" x2="279.40" y2="310.8" stroke="#111" stroke-width="1.1"/>
<line x1="279.40" y1="194.8" x2="279.40" y2="193.20000000000002" stroke="#111" stroke-width="1.1"/>
<line x1="297.20" y1="309.2" x2="297.20" y2="311.8" stroke="#111" stroke-width="1.1"/>
<line x1="297.20" y1="194.8" x2="297.20" y2="192.20000000000002" stroke="#111" stroke-width="1.1"/>
<line x1="315.00" y1="309.2" x2="315.00" y2="310.8" stroke="#111" stroke-width="1.1"/>
<line x1="315.00" y1="194.8" x2="315.00" y2="193.20000000000002" stroke="#111" stroke-width="1.1"/>
<line x1="332.80" y1="309.2" x2="332.80" y2="311.8" stroke="#111" stroke-width="1.1"/>
<line x1="332.80" y1="194.8" x2="332.80" y2="192.20000000000002" stroke="#111" stroke-width="1.1"/>
<text transform="translate(190.40,321.00) scale(1,1.15)" class="tk">700</text>
<text transform="translate(190.40,190.90) scale(1,1.15)" class="tk">1.771</text>
<text transform="translate(226.00,321.00) scale(1,1.15)" class="tk">750</text>
<text transform="translate(226.00,190.90) scale(1,1.15)" class="tk">1.653</text>
<text transform="translate(261.60,321.00) scale(1,1.15)" class="tk">800</text>
<text transform="translate(261.60,190.90) scale(1,1.15)" class="tk">1.550</text>
<text transform="translate(297.20,321.00) scale(1,1.15)" class="tk">850</text>
<text transform="translate(297.20,190.90) scale(1,1.15)" class="tk">1.459</text>
<text transform="translate(332.80,321.00) scale(1,1.15)" class="tk">900</text>
<text transform="translate(332.80,190.90) scale(1,1.15)" class="tk">1.378</text>
<text transform="translate(261.90,331.60) scale(1,1.02)" class="tw">Wavelength (nm)</text>
<text transform="translate(261.60,177.50) scale(1,1.0)" class="ti">Energy (eV)</text>
<text transform="translate(181.70,248.40) rotate(-90) scale(1,1.0)" class="yl">PL Intensity (a.u.)</text>
<text transform="translate(194.00,206.70) scale(1,1.0)" class="pl">(e)</text>
<line x1="283.80" y1="199.90" x2="299.80" y2="199.90" stroke="#ababab" stroke-width="1.3"/>
<text transform="translate(301.80,202.40) scale(1,1.1)" class="lg">180 K</text>
<line x1="283.80" y1="208.50" x2="299.80" y2="208.50" stroke="#f08a90" stroke-width="1.3"/>
<text transform="translate(301.80,211.00) scale(1,1.1)" class="lg">A<tspan class="sup" dy="-2.3">0</tspan></text>
<line x1="283.80" y1="217.30" x2="299.80" y2="217.30" stroke="#92ea92" stroke-width="1.3"/>
<text transform="translate(301.80,219.80) scale(1,1.1)" class="lg">A<tspan class="sup" dy="-2.3">-</tspan></text>
<line x1="283.80" y1="225.80" x2="299.80" y2="225.80" stroke="#7c7adc" stroke-width="1.3"/>
<text transform="translate(301.80,228.30) scale(1,1.1)" class="lg">D</text>
<line x1="283.80" y1="234.10" x2="299.80" y2="234.10" stroke="#a8eef0" stroke-width="1.3"/>
<text transform="translate(301.80,236.60) scale(1,1.1)" class="lg">Global Fit</text>
<g clip-path="url(#clipf)">
<path d="M364.8,303.9 365.5,303.8 366.2,303.8 366.9,303.8 367.7,303.8 368.4,303.8 369.1,303.7 369.8,303.7 370.5,303.7 371.2,303.7 371.9,303.6 372.6,303.6 373.4,303.6 374.1,303.5 374.8,303.5 375.5,303.4 376.2,303.4 376.9,303.3 377.6,303.3 378.3,303.2 379.1,303.2 379.8,303.1 380.5,303.1 381.2,303.0 381.9,302.9 382.6,302.8 383.3,302.8 384.0,302.7 384.8,302.6 385.5,302.5 386.2,302.3 386.9,302.2 387.6,302.1 388.3,302.0 389.0,301.8 389.7,301.6 390.4,301.5 391.2,301.3 391.9,301.1 392.6,300.8 393.3,300.6 394.0,300.3 394.7,300.0 395.4,299.6 396.2,299.2 396.9,298.7 397.6,298.1 398.3,297.4 399.0,296.5 399.7,295.4 400.4,294.0 401.1,292.2 401.9,289.8 402.6,286.4 403.3,281.8 404.0,275.7 404.7,267.8 405.4,258.1 406.1,246.9 406.8,234.7 407.6,222.8 408.3,212.6 409.0,205.7 409.7,203.2 410.4,205.0 411.1,209.7 411.8,215.5 412.5,221.2 413.2,226.3 414.0,230.6 414.7,234.1 415.4,237.2 416.1,240.0 416.8,242.9 417.5,245.9 418.2,249.2 418.9,252.6 419.7,256.2 420.4,259.7 421.1,263.3 421.8,266.7 422.5,269.9 423.2,272.9 423.9,275.6 424.7,278.1 425.4,280.3 426.1,282.2 426.8,283.9 427.5,285.3 428.2,286.5 428.9,287.5 429.6,288.2 430.4,288.9 431.1,289.4 431.8,289.8 432.5,290.1 433.2,290.3 433.9,290.4 434.6,290.6 435.3,290.6 436.1,290.7 436.8,290.7 437.5,290.7 438.2,290.8 438.9,290.8 439.6,290.8 440.3,290.8 441.0,290.8 441.8,290.8 442.5,290.8 443.2,290.8 443.9,290.8 444.6,290.8 445.3,290.9 446.0,290.9 446.7,290.9 447.5,291.0 448.2,291.0 448.9,291.1 449.6,291.2 450.3,291.2 451.0,291.3 451.7,291.4 452.4,291.5 453.2,291.6 453.9,291.7 454.6,291.8 455.3,291.9 456.0,292.1 456.7,292.2 457.4,292.3 458.1,292.5 458.9,292.6 459.6,292.8 460.3,292.9 461.0,293.1 461.7,293.2 462.4,293.4 463.1,293.6 463.8,293.8 464.6,293.9 465.3,294.1 466.0,294.3 466.7,294.5 467.4,294.7 468.1,294.9 468.8,295.1 469.5,295.3 470.2,295.5 471.0,295.7 471.7,295.9 472.4,296.1 473.1,296.3 473.8,296.5 474.5,296.7 475.2,296.9 476.0,297.1 476.7,297.3 477.4,297.5 478.1,297.7 478.8,297.9 479.5,298.1 480.2,298.3 480.9,298.5 481.7,298.7 482.4,298.9 483.1,299.0 483.8,299.2 484.5,299.4 485.2,299.6 485.9,299.7 486.6,299.9 487.4,300.1 488.1,300.2 488.8,300.4 489.5,300.5 490.2,300.7 490.9,300.8 491.6,301.0 492.3,301.1 493.1,301.3 493.8,301.4 494.5,301.5 495.2,301.6 495.9,301.8 496.6,301.9 497.3,302.0 498.0,302.1 498.8,302.2 499.5,302.3 500.2,302.4 500.9,302.5 501.6,302.6 502.3,302.7 503.0,302.8 503.7,302.8 504.5,302.9 505.2,303.0 505.9,303.1 506.6,303.1 507.3,303.2" fill="none" stroke="#b4f1f4" stroke-width="3.0"/>
<path d="M364.8,303.9 365.5,303.8 366.2,303.8 366.9,303.8 367.7,303.8 368.4,303.8 369.1,303.7 369.8,303.7 370.5,303.7 371.2,303.7 371.9,303.6 372.6,303.6 373.4,303.6 374.1,303.5 374.8,303.5 375.5,303.4 376.2,303.4 376.9,303.3 377.6,303.3 378.3,303.2 379.1,303.2 379.8,303.1 380.5,303.1 381.2,303.0 381.9,302.9 382.6,302.8 383.3,302.8 384.0,302.7 384.8,302.6 385.5,302.5 386.2,302.3 386.9,302.2 387.6,302.1 388.3,302.0 389.0,301.8 389.7,301.6 390.4,301.5 391.2,301.3 391.9,301.1 392.6,300.8 393.3,300.6 394.0,300.3 394.7,300.0 395.4,299.6 396.2,299.2 396.9,298.7 397.6,298.1 398.3,297.4 399.0,296.5 399.7,295.4 400.4,294.0 401.1,292.2 401.9,289.8 402.6,286.4 403.3,281.8 404.0,275.7 404.7,267.8 405.4,258.1 406.1,246.9 406.8,234.7 407.6,222.8 408.3,212.6 409.0,205.7 409.7,203.2 410.4,205.0 411.1,209.7 411.8,215.5 412.5,221.2 413.2,226.3 414.0,230.6 414.7,234.1 415.4,237.2 416.1,240.0 416.8,242.9 417.5,245.9 418.2,249.2 418.9,252.6 419.7,256.2 420.4,259.7 421.1,263.3 421.8,266.7 422.5,269.9 423.2,272.9 423.9,275.6 424.7,278.1 425.4,280.3 426.1,282.2 426.8,283.9 427.5,285.3 428.2,286.5 428.9,287.5 429.6,288.2 430.4,288.9 431.1,289.4 431.8,289.8 432.5,290.1 433.2,290.3 433.9,290.4 434.6,290.6 435.3,290.6 436.1,290.7 436.8,290.7 437.5,290.7 438.2,290.8 438.9,290.8 439.6,290.8 440.3,290.8 441.0,290.8 441.8,290.8 442.5,290.8 443.2,290.8 443.9,290.8 444.6,290.8 445.3,290.9 446.0,290.9 446.7,290.9 447.5,291.0 448.2,291.0 448.9,291.1 449.6,291.2 450.3,291.2 451.0,291.3 451.7,291.4 452.4,291.5 453.2,291.6 453.9,291.7 454.6,291.8 455.3,291.9 456.0,292.1 456.7,292.2 457.4,292.3 458.1,292.5 458.9,292.6 459.6,292.8 460.3,292.9 461.0,293.1 461.7,293.2 462.4,293.4 463.1,293.6 463.8,293.8 464.6,293.9 465.3,294.1 466.0,294.3 466.7,294.5 467.4,294.7 468.1,294.9 468.8,295.1 469.5,295.3 470.2,295.5 471.0,295.7 471.7,295.9 472.4,296.1 473.1,296.3 473.8,296.5 474.5,296.7 475.2,296.9 476.0,297.1 476.7,297.3 477.4,297.5 478.1,297.7 478.8,297.9 479.5,298.1 480.2,298.3 480.9,298.5 481.7,298.7 482.4,298.9 483.1,299.0 483.8,299.2 484.5,299.4 485.2,299.6 485.9,299.7 486.6,299.9 487.4,300.1 488.1,300.2 488.8,300.4 489.5,300.5 490.2,300.7 490.9,300.8 491.6,301.0 492.3,301.1 493.1,301.3 493.8,301.4 494.5,301.5 495.2,301.6 495.9,301.8 496.6,301.9 497.3,302.0 498.0,302.1 498.8,302.2 499.5,302.3 500.2,302.4 500.9,302.5 501.6,302.6 502.3,302.7 503.0,302.8 503.7,302.8 504.5,302.9 505.2,303.0 505.9,303.1 506.6,303.1 507.3,303.2" fill="none" stroke="#40c0cc" stroke-width="1.5"/>
<path d="M364.8,304.1 365.5,303.9 366.2,303.7 366.9,303.7 367.7,303.9 368.4,304.0 369.1,304.0 369.8,303.7 370.5,304.0 371.2,303.6 371.9,303.7 372.6,303.4 373.4,303.4 374.1,303.5 374.8,303.4 375.5,303.6 376.2,303.4 376.9,303.4 377.6,303.3 378.3,303.0 379.1,303.1 379.8,303.4 380.5,302.9 381.2,303.1 381.9,302.9 382.6,302.7 383.3,302.9 384.0,302.7 384.8,302.4 385.5,302.2 386.2,302.6 386.9,302.0 387.6,302.1 388.3,301.7 389.0,302.0 389.7,301.7 390.4,301.6 391.2,301.5 391.9,301.2 392.6,300.7 393.3,300.4 394.0,300.4 394.7,299.8 395.4,299.7 396.2,299.1 396.9,298.7 397.6,297.8 398.3,297.1 399.0,296.6 399.7,295.4 400.4,294.3 401.1,292.5 401.9,290.0 402.6,286.2 403.3,281.7 404.0,276.0 404.7,268.0 405.4,258.3 406.1,246.7 406.8,234.7 407.6,222.9 408.3,212.7 409.0,205.5 409.7,202.9 410.4,205.2 411.1,209.8 411.8,215.6 412.5,221.3 413.2,226.1 414.0,230.7 414.7,233.8 415.4,237.3 416.1,240.1 416.8,243.0 417.5,246.2 418.2,249.4 418.9,252.4 419.7,256.5 420.4,259.8 421.1,263.5 421.8,266.9 422.5,269.9 423.2,272.9 423.9,275.7 424.7,277.9 425.4,280.6 426.1,282.0 426.8,284.0 427.5,285.5 428.2,286.4 428.9,287.3 429.6,288.4 430.4,289.2 431.1,289.3 431.8,289.9 432.5,289.8 433.2,290.5 433.9,290.5 434.6,290.4 435.3,290.4 436.1,290.4 436.8,290.9 437.5,290.6 438.2,290.9 438.9,290.9 439.6,290.9 440.3,290.6 441.0,290.7 441.8,291.0 442.5,290.5 443.2,290.9 443.9,290.9 444.6,290.7 445.3,290.9 446.0,290.9 446.7,290.8 447.5,290.7 448.2,291.2 448.9,291.2 449.6,291.0 450.3,291.5 451.0,291.3 451.7,291.1 452.4,291.2 453.2,291.3 453.9,291.8 454.6,292.0 455.3,292.0 456.0,291.8 456.7,292.4 457.4,292.2 458.1,292.6 458.9,292.3 459.6,292.6 460.3,292.8 461.0,293.0 461.7,293.4 462.4,293.5 463.1,293.7 463.8,294.0 464.6,294.2 465.3,293.9 466.0,294.3 466.7,294.8 467.4,294.7 468.1,294.9 468.8,295.1 469.5,295.4 470.2,295.3 471.0,295.9 471.7,296.0 472.4,296.2 473.1,296.3 473.8,296.4 474.5,296.5 475.2,296.7 476.0,297.1 476.7,297.4 477.4,297.5 478.1,297.8 478.8,297.6 479.5,297.8 480.2,298.5 480.9,298.6 481.7,298.5 482.4,298.9 483.1,298.7 483.8,299.4 484.5,299.4 485.2,299.3 485.9,299.8 486.6,300.1 487.4,300.1 488.1,300.1 488.8,300.5 489.5,300.5 490.2,300.7 490.9,300.5 491.6,301.3 492.3,300.8 493.1,301.2 493.8,301.2 494.5,301.3 495.2,301.4 495.9,301.8 496.6,302.2 497.3,301.9 498.0,301.8 498.8,301.9 499.5,302.6 500.2,302.1 500.9,302.6 501.6,302.9 502.3,302.5 503.0,302.8 503.7,302.7 504.5,303.0 505.2,302.9 505.9,303.1 506.6,302.9 507.3,303.0" fill="none" stroke="#1e3434" stroke-width="1.0" stroke-opacity="0.3"/>
<path d="M415.4,237.6 416.1,239.9 416.8,243.1 417.5,245.9 418.2,248.7 418.9,252.8 419.7,256.7 420.4,260.1 421.1,263.6 421.8,267.0 422.5,269.9 423.2,273.2 423.9,275.8 424.7,278.5 425.4,279.9 426.1,281.7 426.8,284.2 427.5,285.0 428.2,286.2 428.9,287.8 429.6,288.2 430.4,288.8 431.1,289.5 431.8,290.4 432.5,289.5 433.2,290.5 433.9,290.8 434.6,290.4 435.3,290.5 436.1,290.1 436.8,291.3 437.5,291.2 438.2,290.4 438.9,290.8 439.6,290.3 440.3,290.6 441.0,291.3 441.8,290.9 442.5,290.6 443.2,291.2 443.9,290.3 444.6,291.2 445.3,291.3 446.0,290.6 446.7,291.2 447.5,291.4 448.2,290.6 448.9,290.7 449.6,291.5 450.3,291.1 451.0,291.1 451.7,290.9 452.4,291.8 453.2,291.4 453.9,291.4 454.6,291.6 455.3,292.2 456.0,292.2 456.7,292.7 457.4,292.5 458.1,292.0 458.9,293.2 459.6,292.3 460.3,292.5 461.0,293.6 461.7,293.6 462.4,293.0 463.1,293.2 463.8,293.8 464.6,294.2 465.3,294.7 466.0,294.8 466.7,294.5 467.4,294.4 468.1,295.1 468.8,295.4 469.5,294.7 470.2,295.8 471.0,296.0 471.7,296.2 472.4,295.9 473.1,296.8 473.8,296.5 474.5,296.4 475.2,297.4 476.0,296.5 476.7,296.8 477.4,298.0 478.1,297.2 478.8,297.6 479.5,298.3 480.2,298.7 480.9,298.2 481.7,298.8 482.4,299.2 483.1,298.5 483.8,299.4 484.5,299.0 485.2,300.1 485.9,299.5 486.6,299.5 487.4,299.5 488.1,300.7 488.8,300.9 489.5,300.9 490.2,300.7 490.9,300.7 491.6,301.6 492.3,300.6 493.1,301.0 493.8,301.5 494.5,301.5 495.2,301.5 495.9,301.5 496.6,302.3 497.3,301.5 498.0,301.6 498.8,302.5 499.5,302.7 500.2,303.0 500.9,302.9 501.6,302.7 502.3,302.6 503.0,302.6 503.7,303.0 504.5,302.9 505.2,302.9 505.9,303.6 506.6,303.7 507.3,303.2" fill="none" stroke="#1a2a2a" stroke-width="0.9" stroke-dasharray="0.7 1.9" stroke-opacity="0.55"/>
<path d="M364.8,304.2 365.5,304.2 366.2,304.2 366.9,304.2 367.7,304.2 368.4,304.2 369.1,304.2 369.8,304.2 370.5,304.2 371.2,304.2 371.9,304.2 372.6,304.2 373.4,304.2 374.1,304.2 374.8,304.1 375.5,304.1 376.2,304.1 376.9,304.1 377.6,304.1 378.3,304.1 379.1,304.1 379.8,304.1 380.5,304.0 381.2,304.0 381.9,304.0 382.6,304.0 383.3,304.0 384.0,303.9 384.8,303.9 385.5,303.9 386.2,303.9 386.9,303.8 387.6,303.8 388.3,303.7 389.0,303.7 389.7,303.6 390.4,303.6 391.2,303.5 391.9,303.4 392.6,303.4 393.3,303.3 394.0,303.2 394.7,303.0 395.4,302.9 396.2,302.7 396.9,302.5 397.6,302.3 398.3,302.0 399.0,301.7 399.7,301.2 400.4,300.6 401.1,299.8 401.9,298.6 402.6,296.8 403.3,294.1 404.0,290.0 404.7,284.3 405.4,276.8 406.1,267.8 406.8,258.0 407.6,249.5 408.3,245.0 409.0,246.4 409.7,253.2 410.4,262.9 411.1,273.2 411.8,282.3 412.5,289.4 413.2,294.5 414.0,297.9 414.7,300.0 415.4,301.2 416.1,301.9 416.8,302.4 417.5,302.7 418.2,302.9 418.9,303.1 419.7,303.3 420.4,303.4 421.1,303.5 421.8,303.6 422.5,303.7 423.2,303.7 423.9,303.8 424.7,303.8 425.4,303.9 426.1,303.9 426.8,303.9 427.5,304.0 428.2,304.0 428.9,304.0 429.6,304.1 430.4,304.1 431.1,304.1 431.8,304.1 432.5,304.1 433.2,304.1 433.9,304.2 434.6,304.2 435.3,304.2 436.1,304.2 436.8,304.2 437.5,304.2 438.2,304.2 438.9,304.2 439.6,304.2 440.3,304.2 441.0,304.2 441.8,304.2 442.5,304.2 443.2,304.3 443.9,304.3 444.6,304.3 445.3,304.3 446.0,304.3 446.7,304.3 447.5,304.3 448.2,304.3 448.9,304.3 449.6,304.3 450.3,304.3 451.0,304.3 451.7,304.3 452.4,304.3 453.2,304.3 453.9,304.3 454.6,304.3 455.3,304.3 456.0,304.3 456.7,304.3 457.4,304.3 458.1,304.3 458.9,304.3 459.6,304.3 460.3,304.3 461.0,304.3 461.7,304.3 462.4,304.3 463.1,304.3 463.8,304.3 464.6,304.3 465.3,304.3 466.0,304.3 466.7,304.3 467.4,304.3 468.1,304.3 468.8,304.3 469.5,304.3 470.2,304.3 471.0,304.3 471.7,304.3 472.4,304.3 473.1,304.3 473.8,304.3 474.5,304.3 475.2,304.3 476.0,304.3 476.7,304.3 477.4,304.3 478.1,304.3 478.8,304.3 479.5,304.3 480.2,304.3 480.9,304.3 481.7,304.4 482.4,304.4 483.1,304.4 483.8,304.4 484.5,304.4 485.2,304.4 485.9,304.4 486.6,304.4 487.4,304.4 488.1,304.4 488.8,304.4 489.5,304.4 490.2,304.4 490.9,304.4 491.6,304.4 492.3,304.4 493.1,304.4 493.8,304.4 494.5,304.4 495.2,304.4 495.9,304.4 496.6,304.4 497.3,304.4 498.0,304.4 498.8,304.4 499.5,304.4 500.2,304.4 500.9,304.4 501.6,304.4 502.3,304.4 503.0,304.4 503.7,304.4 504.5,304.4 505.2,304.4 505.9,304.4 506.6,304.4 507.3,304.4" fill="none" stroke="#e2626c" stroke-width="1.4"/>
<path d="M364.8,303.8 365.5,303.8 366.2,303.8 366.9,303.8 367.7,303.8 368.4,303.8 369.1,303.8 369.8,303.8 370.5,303.8 371.2,303.8 371.9,303.8 372.6,303.7 373.4,303.7 374.1,303.7 374.8,303.7 375.5,303.7 376.2,303.7 376.9,303.7 377.6,303.7 378.3,303.7 379.1,303.7 379.8,303.7 380.5,303.7 381.2,303.7 381.9,303.7 382.6,303.7 383.3,303.6 384.0,303.6 384.8,303.6 385.5,303.6 386.2,303.6 386.9,303.6 387.6,303.6 388.3,303.6 389.0,303.5 389.7,303.5 390.4,303.5 391.2,303.5 391.9,303.4 392.6,303.4 393.3,303.4 394.0,303.3 394.7,303.2 395.4,303.1 396.2,303.0 396.9,302.8 397.6,302.6 398.3,302.4 399.0,302.0 399.7,301.5 400.4,300.9 401.1,300.2 401.9,299.3 402.6,298.1 403.3,296.8 404.0,295.1 404.7,293.2 405.4,290.9 406.1,288.3 406.8,285.5 407.6,282.3 408.3,278.9 409.0,275.3 409.7,271.5 410.4,267.7 411.1,264.0 411.8,260.4 412.5,257.1 413.2,254.2 414.0,251.8 414.7,250.0 415.4,248.9 416.1,248.6 416.8,249.1 417.5,250.5 418.2,252.6 418.9,255.4 419.7,258.6 420.4,262.2 421.1,265.9 421.8,269.7 422.5,273.5 423.2,277.1 423.9,280.5 424.7,283.7 425.4,286.5 426.1,289.1 426.8,291.4 427.5,293.3 428.2,295.0 428.9,296.4 429.6,297.6 430.4,298.6 431.1,299.3 431.8,300.0 432.5,300.5 433.2,300.9 433.9,301.3 434.6,301.5 435.3,301.8 436.1,302.0 436.8,302.1 437.5,302.2 438.2,302.4 438.9,302.5 439.6,302.5 440.3,302.6 441.0,302.7 441.8,302.8 442.5,302.8 443.2,302.9 443.9,302.9 444.6,303.0 445.3,303.0 446.0,303.0 446.7,303.1 447.5,303.1 448.2,303.1 448.9,303.2 449.6,303.2 450.3,303.2 451.0,303.3 451.7,303.3 452.4,303.3 453.2,303.3 453.9,303.3 454.6,303.4 455.3,303.4 456.0,303.4 456.7,303.4 457.4,303.4 458.1,303.4 458.9,303.5 459.6,303.5 460.3,303.5 461.0,303.5 461.7,303.5 462.4,303.5 463.1,303.5 463.8,303.5 464.6,303.6 465.3,303.6 466.0,303.6 466.7,303.6 467.4,303.6 468.1,303.6 468.8,303.6 469.5,303.6 470.2,303.6 471.0,303.6 471.7,303.6 472.4,303.6 473.1,303.6 473.8,303.7 474.5,303.7 475.2,303.7 476.0,303.7 476.7,303.7 477.4,303.7 478.1,303.7 478.8,303.7 479.5,303.7 480.2,303.7 480.9,303.7 481.7,303.7 482.4,303.7 483.1,303.7 483.8,303.7 484.5,303.7 485.2,303.7 485.9,303.7 486.6,303.7 487.4,303.7 488.1,303.7 488.8,303.7 489.5,303.7 490.2,303.7 490.9,303.7 491.6,303.8 492.3,303.8 493.1,303.8 493.8,303.8 494.5,303.8 495.2,303.8 495.9,303.8 496.6,303.8 497.3,303.8 498.0,303.8 498.8,303.8 499.5,303.8 500.2,303.8 500.9,303.8 501.6,303.8 502.3,303.8 503.0,303.8 503.7,303.8 504.5,303.8 505.2,303.8 505.9,303.8 506.6,303.8 507.3,303.8" fill="none" stroke="#74e274" stroke-width="1.4"/>
<path d="M364.8,304.3 365.5,304.3 366.2,304.3 366.9,304.2 367.7,304.2 368.4,304.2 369.1,304.2 369.8,304.2 370.5,304.1 371.2,304.1 371.9,304.1 372.6,304.0 373.4,304.0 374.1,304.0 374.8,304.0 375.5,303.9 376.2,303.9 376.9,303.8 377.6,303.8 378.3,303.8 379.1,303.7 379.8,303.7 380.5,303.6 381.2,303.6 381.9,303.5 382.6,303.4 383.3,303.4 384.0,303.3 384.8,303.3 385.5,303.2 386.2,303.1 386.9,303.0 387.6,303.0 388.3,302.9 389.0,302.8 389.7,302.7 390.4,302.6 391.2,302.5 391.9,302.4 392.6,302.3 393.3,302.2 394.0,302.1 394.7,302.0 395.4,301.9 396.2,301.8 396.9,301.7 397.6,301.5 398.3,301.4 399.0,301.3 399.7,301.1 400.4,301.0 401.1,300.9 401.9,300.7 402.6,300.6 403.3,300.4 404.0,300.2 404.7,300.1 405.4,299.9 406.1,299.8 406.8,299.6 407.6,299.4 408.3,299.2 409.0,299.1 409.7,298.9 410.4,298.7 411.1,298.5 411.8,298.3 412.5,298.1 413.2,297.9 414.0,297.8 414.7,297.6 415.4,297.4 416.1,297.2 416.8,297.0 417.5,296.8 418.2,296.6 418.9,296.4 419.7,296.2 420.4,296.0 421.1,295.8 421.8,295.6 422.5,295.4 423.2,295.2 423.9,295.0 424.7,294.8 425.4,294.6 426.1,294.4 426.8,294.2 427.5,294.0 428.2,293.9 428.9,293.7 429.6,293.5 430.4,293.3 431.1,293.2 431.8,293.0 432.5,292.9 433.2,292.7 433.9,292.6 434.6,292.4 435.3,292.3 436.1,292.2 436.8,292.0 437.5,291.9 438.2,291.8 438.9,291.7 439.6,291.6 440.3,291.5 441.0,291.5 441.8,291.4 442.5,291.3 443.2,291.3 443.9,291.2 444.6,291.2 445.3,291.1 446.0,291.1 446.7,291.1 447.5,291.1 448.2,291.1 448.9,291.1 449.6,291.1 450.3,291.1 451.0,291.2 451.7,291.2 452.4,291.3 453.2,291.3 453.9,291.4 454.6,291.5 455.3,291.6 456.0,291.8 456.7,291.9 457.4,292.0 458.1,292.2 458.9,292.3 459.6,292.5 460.3,292.6 461.0,292.8 461.7,293.0 462.4,293.2 463.1,293.4 463.8,293.6 464.6,293.8 465.3,294.0 466.0,294.2 466.7,294.4 467.4,294.6 468.1,294.8 468.8,295.0 469.5,295.2 470.2,295.4 471.0,295.7 471.7,295.9 472.4,296.1 473.1,296.3 473.8,296.5 474.5,296.7 475.2,297.0 476.0,297.2 476.7,297.4 477.4,297.6 478.1,297.8 478.8,298.0 479.5,298.2 480.2,298.4 480.9,298.6 481.7,298.8 482.4,298.9 483.1,299.1 483.8,299.3 484.5,299.5 485.2,299.7 485.9,299.8 486.6,300.0 487.4,300.2 488.1,300.3 488.8,300.5 489.5,300.6 490.2,300.8 490.9,300.9 491.6,301.0 492.3,301.2 493.1,301.3 493.8,301.4 494.5,301.5 495.2,301.6 495.9,301.8 496.6,301.9 497.3,302.0 498.0,302.1 498.8,302.2 499.5,302.3 500.2,302.3 500.9,302.4 501.6,302.5 502.3,302.6 503.0,302.7 503.7,302.7 504.5,302.8 505.2,302.9 505.9,302.9 506.6,303.0 507.3,303.1" fill="none" stroke="#5c58d2" stroke-width="1.4"/>
</g>
<rect x="364.8" y="194.2" width="142.50" height="114.10" fill="none" stroke="#111" stroke-width="1.6"/>
<line x1="364.80" y1="308.3" x2="364.80" y2="310.90000000000003" stroke="#111" stroke-width="1.1"/>
<line x1="364.80" y1="194.2" x2="364.80" y2="191.6" stroke="#111" stroke-width="1.1"/>
<line x1="382.61" y1="308.3" x2="382.61" y2="309.90000000000003" stroke="#111" stroke-width="1.1"/>
<line x1="382.61" y1="194.2" x2="382.61" y2="192.6" stroke="#111" stroke-width="1.1"/>
<line x1="400.43" y1="308.3" x2="400.43" y2="310.90000000000003" stroke="#111" stroke-width="1.1"/>
<line x1="400.43" y1="194.2" x2="400.43" y2="191.6" stroke="#111" stroke-width="1.1"/>
<line x1="418.24" y1="308.3" x2="418.24" y2="309.90000000000003" stroke="#111" stroke-width="1.1"/>
<line x1="418.24" y1="194.2" x2="418.24" y2="192.6" stroke="#111" stroke-width="1.1"/>
<line x1="436.05" y1="308.3" x2="436.05" y2="310.90000000000003" stroke="#111" stroke-width="1.1"/>
<line x1="436.05" y1="194.2" x2="436.05" y2="191.6" stroke="#111" stroke-width="1.1"/>
<line x1="453.86" y1="308.3" x2="453.86" y2="309.90000000000003" stroke="#111" stroke-width="1.1"/>
<line x1="453.86" y1="194.2" x2="453.86" y2="192.6" stroke="#111" stroke-width="1.1"/>
<line x1="471.68" y1="308.3" x2="471.68" y2="310.90000000000003" stroke="#111" stroke-width="1.1"/>
<line x1="471.68" y1="194.2" x2="471.68" y2="191.6" stroke="#111" stroke-width="1.1"/>
<line x1="489.49" y1="308.3" x2="489.49" y2="309.90000000000003" stroke="#111" stroke-width="1.1"/>
<line x1="489.49" y1="194.2" x2="489.49" y2="192.6" stroke="#111" stroke-width="1.1"/>
<line x1="507.30" y1="308.3" x2="507.30" y2="310.90000000000003" stroke="#111" stroke-width="1.1"/>
<line x1="507.30" y1="194.2" x2="507.30" y2="191.6" stroke="#111" stroke-width="1.1"/>
<text transform="translate(364.80,320.10) scale(1,1.15)" class="tk">700</text>
<text transform="translate(364.80,190.30) scale(1,1.15)" class="tk">1.771</text>
<text transform="translate(400.43,320.10) scale(1,1.15)" class="tk">750</text>
<text transform="translate(400.43,190.30) scale(1,1.15)" class="tk">1.653</text>
<text transform="translate(436.05,320.10) scale(1,1.15)" class="tk">800</text>
<text transform="translate(436.05,190.30) scale(1,1.15)" class="tk">1.550</text>
<text transform="translate(471.68,320.10) scale(1,1.15)" class="tk">850</text>
<text transform="translate(471.68,190.30) scale(1,1.15)" class="tk">1.459</text>
<text transform="translate(507.30,320.10) scale(1,1.15)" class="tk">900</text>
<text transform="translate(507.30,190.30) scale(1,1.15)" class="tk">1.378</text>
<text transform="translate(436.35,330.70) scale(1,1.02)" class="tw">Wavelength (nm)</text>
<text transform="translate(436.05,176.90) scale(1,1.0)" class="ti">Energy (eV)</text>
<text transform="translate(356.90,247.65) rotate(-90) scale(1,1.0)" class="yl">PL Intensity (a.u.)</text>
<text transform="translate(368.50,207.30) scale(1,1.0)" class="pl">(f)</text>
<line x1="458.30" y1="199.30" x2="474.30" y2="199.30" stroke="#ababab" stroke-width="1.3"/>
<text transform="translate(476.30,201.80) scale(1,1.1)" class="lg">150 K</text>
<line x1="458.30" y1="207.90" x2="474.30" y2="207.90" stroke="#f08a90" stroke-width="1.3"/>
<text transform="translate(476.30,210.40) scale(1,1.1)" class="lg">A<tspan class="sup" dy="-2.3">0</tspan></text>
<line x1="458.30" y1="216.70" x2="474.30" y2="216.70" stroke="#92ea92" stroke-width="1.3"/>
<text transform="translate(476.30,219.20) scale(1,1.1)" class="lg">A<tspan class="sup" dy="-2.3">-</tspan></text>
<line x1="458.30" y1="225.20" x2="474.30" y2="225.20" stroke="#7c7adc" stroke-width="1.3"/>
<text transform="translate(476.30,227.70) scale(1,1.1)" class="lg">D</text>
<line x1="458.30" y1="233.50" x2="474.30" y2="233.50" stroke="#a8eef0" stroke-width="1.3"/>
<text transform="translate(476.30,236.00) scale(1,1.1)" class="lg">Global Fit</text>
<g clip-path="url(#clipg)">
<path d="M106.9,474.2 107.6,474.1 108.3,474.1 109.0,474.0 109.8,473.9 110.5,473.9 111.2,473.8 111.9,473.7 112.6,473.6 113.3,473.6 114.0,473.5 114.7,473.4 115.5,473.3 116.2,473.2 116.9,473.1 117.6,473.0 118.3,472.9 119.0,472.8 119.7,472.6 120.4,472.5 121.2,472.3 121.9,472.2 122.6,472.0 123.3,471.9 124.0,471.7 124.7,471.5 125.4,471.3 126.1,471.0 126.9,470.8 127.6,470.5 128.3,470.2 129.0,469.9 129.7,469.6 130.4,469.2 131.1,468.8 131.8,468.3 132.6,467.8 133.3,467.3 134.0,466.7 134.7,466.0 135.4,465.2 136.1,464.3 136.8,463.2 137.5,462.0 138.2,460.6 139.0,458.9 139.7,456.8 140.4,454.1 141.1,450.7 141.8,446.3 142.5,440.8 143.2,433.9 144.0,425.5 144.7,415.6 145.4,404.7 146.1,393.8 146.8,384.9 147.5,380.1 148.2,379.0 148.9,380.3 149.7,382.8 150.4,385.7 151.1,387.9 151.8,389.0 152.5,388.7 153.2,387.1 153.9,384.4 154.6,381.1 155.4,378.1 156.1,376.1 156.8,376.1 157.5,378.3 158.2,382.3 158.9,387.8 159.6,394.3 160.3,401.2 161.1,408.1 161.8,414.6 162.5,420.6 163.2,426.0 163.9,430.8 164.6,434.9 165.3,438.6 166.0,441.7 166.8,444.5 167.5,446.8 168.2,448.9 168.9,450.7 169.6,452.2 170.3,453.6 171.0,454.8 171.7,455.8 172.4,456.8 173.2,457.6 173.9,458.3 174.6,458.9 175.3,459.5 176.0,460.0 176.7,460.4 177.4,460.9 178.2,461.2 178.9,461.6 179.6,461.9 180.3,462.2 181.0,462.5 181.7,462.7 182.4,463.0 183.1,463.2 183.9,463.5 184.6,463.7 185.3,463.9 186.0,464.2 186.7,464.4 187.4,464.6 188.1,464.8 188.8,465.0 189.6,465.2 190.3,465.4 191.0,465.6 191.7,465.8 192.4,466.0 193.1,466.2 193.8,466.4 194.5,466.6 195.2,466.8 196.0,467.0 196.7,467.2 197.4,467.3 198.1,467.5 198.8,467.7 199.5,467.9 200.2,468.1 200.9,468.2 201.7,468.4 202.4,468.6 203.1,468.8 203.8,468.9 204.5,469.1 205.2,469.3 205.9,469.4 206.7,469.6 207.4,469.7 208.1,469.9 208.8,470.0 209.5,470.2 210.2,470.3 210.9,470.4 211.6,470.6 212.4,470.7 213.1,470.8 213.8,470.9 214.5,471.1 215.2,471.2 215.9,471.3 216.6,471.4 217.3,471.5 218.1,471.6 218.8,471.7 219.5,471.8 220.2,471.9 220.9,472.0 221.6,472.1 222.3,472.2 223.0,472.3 223.8,472.4 224.5,472.5 225.2,472.6 225.9,472.6 226.6,472.7 227.3,472.8 228.0,472.9 228.7,472.9 229.4,473.0 230.2,473.1 230.9,473.1 231.6,473.2 232.3,473.3 233.0,473.3 233.7,473.4 234.4,473.4 235.2,473.5 235.9,473.5 236.6,473.6 237.3,473.6 238.0,473.7 238.7,473.7 239.4,473.8 240.1,473.8 240.9,473.9 241.6,473.9 242.3,474.0 243.0,474.0 243.7,474.1 244.4,474.1 245.1,474.1 245.8,474.2 246.6,474.2 247.3,474.2 248.0,474.3 248.7,474.3 249.4,474.3" fill="none" stroke="#b4f1f4" stroke-width="3.0"/>
<path d="M106.9,474.2 107.6,474.1 108.3,474.1 109.0,474.0 109.8,473.9 110.5,473.9 111.2,473.8 111.9,473.7 112.6,473.6 113.3,473.6 114.0,473.5 114.7,473.4 115.5,473.3 116.2,473.2 116.9,473.1 117.6,473.0 118.3,472.9 119.0,472.8 119.7,472.6 120.4,472.5 121.2,472.3 121.9,472.2 122.6,472.0 123.3,471.9 124.0,471.7 124.7,471.5 125.4,471.3 126.1,471.0 126.9,470.8 127.6,470.5 128.3,470.2 129.0,469.9 129.7,469.6 130.4,469.2 131.1,468.8 131.8,468.3 132.6,467.8 133.3,467.3 134.0,466.7 134.7,466.0 135.4,465.2 136.1,464.3 136.8,463.2 137.5,462.0 138.2,460.6 139.0,458.9 139.7,456.8 140.4,454.1 141.1,450.7 141.8,446.3 142.5,440.8 143.2,433.9 144.0,425.5 144.7,415.6 145.4,404.7 146.1,393.8 146.8,384.9 147.5,380.1 148.2,379.0 148.9,380.3 149.7,382.8 150.4,385.7 151.1,387.9 151.8,389.0 152.5,388.7 153.2,387.1 153.9,384.4 154.6,381.1 155.4,378.1 156.1,376.1 156.8,376.1 157.5,378.3 158.2,382.3 158.9,387.8 159.6,394.3 160.3,401.2 161.1,408.1 161.8,414.6 162.5,420.6 163.2,426.0 163.9,430.8 164.6,434.9 165.3,438.6 166.0,441.7 166.8,444.5 167.5,446.8 168.2,448.9 168.9,450.7 169.6,452.2 170.3,453.6 171.0,454.8 171.7,455.8 172.4,456.8 173.2,457.6 173.9,458.3 174.6,458.9 175.3,459.5 176.0,460.0 176.7,460.4 177.4,460.9 178.2,461.2 178.9,461.6 179.6,461.9 180.3,462.2 181.0,462.5 181.7,462.7 182.4,463.0 183.1,463.2 183.9,463.5 184.6,463.7 185.3,463.9 186.0,464.2 186.7,464.4 187.4,464.6 188.1,464.8 188.8,465.0 189.6,465.2 190.3,465.4 191.0,465.6 191.7,465.8 192.4,466.0 193.1,466.2 193.8,466.4 194.5,466.6 195.2,466.8 196.0,467.0 196.7,467.2 197.4,467.3 198.1,467.5 198.8,467.7 199.5,467.9 200.2,468.1 200.9,468.2 201.7,468.4 202.4,468.6 203.1,468.8 203.8,468.9 204.5,469.1 205.2,469.3 205.9,469.4 206.7,469.6 207.4,469.7 208.1,469.9 208.8,470.0 209.5,470.2 210.2,470.3 210.9,470.4 211.6,470.6 212.4,470.7 213.1,470.8 213.8,470.9 214.5,471.1 215.2,471.2 215.9,471.3 216.6,471.4 217.3,471.5 218.1,471.6 218.8,471.7 219.5,471.8 220.2,471.9 220.9,472.0 221.6,472.1 222.3,472.2 223.0,472.3 223.8,472.4 224.5,472.5 225.2,472.6 225.9,472.6 226.6,472.7 227.3,472.8 228.0,472.9 228.7,472.9 229.4,473.0 230.2,473.1 230.9,473.1 231.6,473.2 232.3,473.3 233.0,473.3 233.7,473.4 234.4,473.4 235.2,473.5 235.9,473.5 236.6,473.6 237.3,473.6 238.0,473.7 238.7,473.7 239.4,473.8 240.1,473.8 240.9,473.9 241.6,473.9 242.3,474.0 243.0,474.0 243.7,474.1 244.4,474.1 245.1,474.1 245.8,474.2 246.6,474.2 247.3,474.2 248.0,474.3 248.7,474.3 249.4,474.3" fill="none" stroke="#40c0cc" stroke-width="1.5"/>
<path d="M106.9,474.1 107.6,474.1 108.3,474.3 109.0,473.9 109.8,474.1 110.5,473.7 111.2,474.0 111.9,473.5 112.6,473.5 113.3,473.8 114.0,473.4 114.7,473.7 115.5,473.2 116.2,472.9 116.9,472.9 117.6,473.1 118.3,472.6 119.0,472.5 119.7,472.6 120.4,472.3 121.2,472.3 121.9,472.1 122.6,471.9 123.3,471.8 124.0,471.6 124.7,471.7 125.4,471.3 126.1,471.0 126.9,470.6 127.6,470.2 128.3,469.9 129.0,469.8 129.7,469.3 130.4,469.4 131.1,468.8 131.8,468.5 132.6,467.8 133.3,467.2 134.0,466.7 134.7,465.8 135.4,464.9 136.1,464.5 136.8,463.3 137.5,462.1 138.2,460.4 139.0,458.8 139.7,456.8 140.4,454.2 141.1,450.6 141.8,446.5 142.5,440.9 143.2,433.9 144.0,425.8 144.7,415.6 145.4,404.9 146.1,393.8 146.8,385.1 147.5,380.2 148.2,379.2 148.9,380.3 149.7,383.1 150.4,385.6 151.1,387.6 151.8,388.9 152.5,388.5 153.2,387.0 153.9,384.3 154.6,381.4 155.4,378.0 156.1,376.0 156.8,375.9 157.5,378.3 158.2,382.5 158.9,387.7 159.6,394.5 160.3,401.0 161.1,407.8 161.8,414.7 162.5,420.4 163.2,425.8 163.9,430.7 164.6,435.0 165.3,438.6 166.0,442.0 166.8,444.3 167.5,446.9 168.2,448.7 168.9,450.9 169.6,452.0 170.3,453.6 171.0,454.7 171.7,455.9 172.4,456.9 173.2,457.3 173.9,458.3 174.6,458.8 175.3,459.4 176.0,460.0 176.7,460.7 177.4,460.7 178.2,461.5 178.9,461.3 179.6,461.9 180.3,462.0 181.0,462.7 181.7,462.7 182.4,463.0 183.1,463.3 183.9,463.4 184.6,463.6 185.3,463.7 186.0,464.0 186.7,464.3 187.4,464.5 188.1,464.9 188.8,464.8 189.6,465.5 190.3,465.4 191.0,465.6 191.7,465.8 192.4,465.7 193.1,465.9 193.8,466.4 194.5,466.8 195.2,467.0 196.0,466.8 196.7,467.4 197.4,467.4 198.1,467.2 198.8,467.9 199.5,467.9 200.2,468.0 200.9,468.4 201.7,468.1 202.4,468.6 203.1,468.8 203.8,469.0 204.5,469.2 205.2,469.5 205.9,469.3 206.7,469.6 207.4,469.5 208.1,469.7 208.8,470.1 209.5,470.0 210.2,470.5 210.9,470.7 211.6,470.4 212.4,470.5 213.1,471.0 213.8,470.9 214.5,471.4 215.2,471.0 215.9,471.4 216.6,471.5 217.3,471.7 218.1,471.7 218.8,472.0 219.5,472.0 220.2,472.1 220.9,472.3 221.6,471.9 222.3,472.2 223.0,472.2 223.8,472.4 224.5,472.4 225.2,472.6 225.9,472.5 226.6,472.8 227.3,473.0 228.0,473.0 228.7,473.1 229.4,473.0 230.2,472.9 230.9,472.9 231.6,473.4 232.3,473.0 233.0,473.5 233.7,473.6 234.4,473.3 235.2,473.3 235.9,473.8 236.6,473.8 237.3,473.8 238.0,473.5 238.7,473.8 239.4,474.1 240.1,473.6 240.9,473.9 241.6,473.9 242.3,474.0 243.0,474.1 243.7,474.3 244.4,474.1 245.1,474.0 245.8,474.1 246.6,474.0 247.3,474.2 248.0,474.4 248.7,474.3 249.4,474.1" fill="none" stroke="#1e3434" stroke-width="1.0" stroke-opacity="0.45"/>
<path d="M157.5,378.3 158.2,382.2 158.9,388.0 159.6,394.8 160.3,401.5 161.1,408.0 161.8,414.9 162.5,420.6 163.2,426.0 163.9,430.9 164.6,434.9 165.3,438.5 166.0,441.9 166.8,444.8 167.5,446.6 168.2,448.3 168.9,451.0 169.6,452.2 170.3,453.4 171.0,455.0 171.7,456.1 172.4,456.6 173.2,457.3 173.9,458.8 174.6,459.0 175.3,459.1 176.0,460.1 176.7,460.8 177.4,460.9 178.2,461.4 178.9,461.1 179.6,462.1 180.3,461.6 181.0,463.0 181.7,463.1 182.4,462.7 183.1,463.6 183.9,464.0 184.6,463.5 185.3,463.8 186.0,464.2 186.7,464.0 187.4,464.5 188.1,465.0 188.8,464.7 189.6,465.2 190.3,465.0 191.0,465.3 191.7,466.2 192.4,466.1 193.1,466.4 193.8,466.1 194.5,467.1 195.2,466.7 196.0,467.2 196.7,467.8 197.4,467.4 198.1,467.7 198.8,467.6 199.5,467.5 200.2,468.5 200.9,468.4 201.7,468.0 202.4,468.3 203.1,469.2 203.8,468.8 204.5,469.3 205.2,469.1 205.9,469.6 206.7,469.8 207.4,470.1 208.1,470.5 208.8,469.9 209.5,470.5 210.2,470.1 210.9,470.9 211.6,470.5 212.4,471.0 213.1,470.2 213.8,470.4 214.5,471.3 215.2,471.1 215.9,471.0 216.6,471.3 217.3,471.7 218.1,471.5 218.8,472.1 219.5,472.1 220.2,471.5 220.9,472.2 221.6,472.0 222.3,472.0 223.0,471.9 223.8,472.9 224.5,472.6 225.2,472.8 225.9,473.2 226.6,472.4 227.3,473.3 228.0,473.2 228.7,472.6 229.4,473.3 230.2,473.3 230.9,472.8 231.6,473.2 232.3,473.2 233.0,473.0 233.7,473.9 234.4,473.5 235.2,473.2 235.9,473.9 236.6,473.9 237.3,473.3 238.0,474.0 238.7,473.6 239.4,474.3 240.1,474.3 240.9,473.8 241.6,474.1 242.3,474.6 243.0,473.7 243.7,474.4 244.4,474.1 245.1,474.4 245.8,474.7 246.6,474.2 247.3,473.9 248.0,474.1 248.7,474.7 249.4,474.8" fill="none" stroke="#1a2a2a" stroke-width="0.9" stroke-dasharray="0.7 1.9" stroke-opacity="0.55"/>
<path d="M106.9,474.9 107.6,474.9 108.3,474.9 109.0,474.9 109.8,474.9 110.5,474.9 111.2,474.9 111.9,474.9 112.6,474.8 113.3,474.8 114.0,474.8 114.7,474.8 115.5,474.8 116.2,474.7 116.9,474.7 117.6,474.7 118.3,474.7 119.0,474.6 119.7,474.6 120.4,474.6 121.2,474.5 121.9,474.5 122.6,474.4 123.3,474.4 124.0,474.3 124.7,474.3 125.4,474.2 126.1,474.1 126.9,474.1 127.6,474.0 128.3,473.9 129.0,473.8 129.7,473.7 130.4,473.5 131.1,473.4 131.8,473.2 132.6,473.0 133.3,472.8 134.0,472.5 134.7,472.2 135.4,471.9 136.1,471.4 136.8,470.9 137.5,470.3 138.2,469.6 139.0,468.7 139.7,467.6 140.4,466.1 141.1,464.3 141.8,461.8 142.5,458.6 143.2,454.2 144.0,448.4 144.7,440.5 145.4,430.7 146.1,419.8 146.8,411.0 147.5,408.8 148.2,413.3 148.9,422.3 149.7,433.3 150.4,444.1 151.1,453.4 151.8,460.6 152.5,465.6 153.2,468.9 153.9,470.9 154.6,472.1 155.4,472.8 156.1,473.2 156.8,473.6 157.5,473.8 158.2,474.0 158.9,474.1 159.6,474.2 160.3,474.3 161.1,474.4 161.8,474.5 162.5,474.6 163.2,474.6 163.9,474.7 164.6,474.7 165.3,474.8 166.0,474.8 166.8,474.8 167.5,474.9 168.2,474.9 168.9,474.9 169.6,474.9 170.3,475.0 171.0,475.0 171.7,475.0 172.4,475.0 173.2,475.0 173.9,475.0 174.6,475.0 175.3,475.1 176.0,475.1 176.7,475.1 177.4,475.1 178.2,475.1 178.9,475.1 179.6,475.1 180.3,475.1 181.0,475.1 181.7,475.1 182.4,475.1 183.1,475.1 183.9,475.1 184.6,475.1 185.3,475.1 186.0,475.2 186.7,475.2 187.4,475.2 188.1,475.2 188.8,475.2 189.6,475.2 190.3,475.2 191.0,475.2 191.7,475.2 192.4,475.2 193.1,475.2 193.8,475.2 194.5,475.2 195.2,475.2 196.0,475.2 196.7,475.2 197.4,475.2 198.1,475.2 198.8,475.2 199.5,475.2 200.2,475.2 200.9,475.2 201.7,475.2 202.4,475.2 203.1,475.2 203.8,475.2 204.5,475.2 205.2,475.2 205.9,475.2 206.7,475.2 207.4,475.2 208.1,475.2 208.8,475.2 209.5,475.2 210.2,475.2 210.9,475.2 211.6,475.2 212.4,475.2 213.1,475.2 213.8,475.2 214.5,475.2 215.2,475.2 215.9,475.2 216.6,475.2 217.3,475.2 218.1,475.2 218.8,475.2 219.5,475.2 220.2,475.2 220.9,475.2 221.6,475.2 222.3,475.2 223.0,475.2 223.8,475.2 224.5,475.2 225.2,475.2 225.9,475.2 226.6,475.2 227.3,475.2 228.0,475.2 228.7,475.2 229.4,475.2 230.2,475.2 230.9,475.2 231.6,475.2 232.3,475.2 233.0,475.2 233.7,475.2 234.4,475.2 235.2,475.2 235.9,475.2 236.6,475.2 237.3,475.2 238.0,475.2 238.7,475.2 239.4,475.2 240.1,475.2 240.9,475.2 241.6,475.2 242.3,475.2 243.0,475.2 243.7,475.2 244.4,475.2 245.1,475.2 245.8,475.2 246.6,475.2 247.3,475.2 248.0,475.2 248.7,475.2 249.4,475.2" fill="none" stroke="#e2626c" stroke-width="1.4"/>
<path d="M106.9,472.1 107.6,472.0 108.3,472.0 109.0,471.9 109.8,471.9 110.5,471.8 111.2,471.8 111.9,471.7 112.6,471.7 113.3,471.6 114.0,471.6 114.7,471.5 115.5,471.4 116.2,471.4 116.9,471.3 117.6,471.2 118.3,471.1 119.0,471.1 119.7,471.0 120.4,470.9 121.2,470.8 121.9,470.7 122.6,470.5 123.3,470.4 124.0,470.3 124.7,470.2 125.4,470.0 126.1,469.9 126.9,469.7 127.6,469.5 128.3,469.3 129.0,469.1 129.7,468.9 130.4,468.6 131.1,468.4 131.8,468.1 132.6,467.8 133.3,467.5 134.0,467.1 134.7,466.7 135.4,466.3 136.1,465.8 136.8,465.3 137.5,464.7 138.2,464.1 139.0,463.4 139.7,462.6 140.4,461.7 141.1,460.7 141.8,459.6 142.5,458.4 143.2,457.0 144.0,455.4 144.7,453.5 145.4,451.5 146.1,449.1 146.8,446.4 147.5,443.2 148.2,439.6 148.9,435.4 149.7,430.7 150.4,425.2 151.1,419.2 151.8,412.5 152.5,405.4 153.2,398.1 153.9,391.3 154.6,385.4 155.4,381.4 156.1,379.7 156.8,380.4 157.5,383.1 158.2,387.2 158.9,392.6 159.6,398.6 160.3,404.8 161.1,411.0 161.8,416.9 162.5,422.4 163.2,427.4 163.9,431.9 164.6,435.9 165.3,439.5 166.0,442.7 166.8,445.5 167.5,448.0 168.2,450.2 168.9,452.1 169.6,453.9 170.3,455.4 171.0,456.8 171.7,458.0 172.4,459.2 173.2,460.2 173.9,461.1 174.6,461.9 175.3,462.6 176.0,463.3 176.7,463.9 177.4,464.5 178.2,465.0 178.9,465.5 179.6,465.9 180.3,466.3 181.0,466.7 181.7,467.0 182.4,467.4 183.1,467.7 183.9,467.9 184.6,468.2 185.3,468.4 186.0,468.7 186.7,468.9 187.4,469.1 188.1,469.2 188.8,469.4 189.6,469.6 190.3,469.7 191.0,469.9 191.7,470.0 192.4,470.1 193.1,470.3 193.8,470.4 194.5,470.5 195.2,470.6 196.0,470.7 196.7,470.8 197.4,470.9 198.1,470.9 198.8,471.0 199.5,471.1 200.2,471.2 200.9,471.2 201.7,471.3 202.4,471.4 203.1,471.4 203.8,471.5 204.5,471.5 205.2,471.6 205.9,471.6 206.7,471.7 207.4,471.7 208.1,471.8 208.8,471.8 209.5,471.9 210.2,471.9 210.9,471.9 211.6,472.0 212.4,472.0 213.1,472.1 213.8,472.1 214.5,472.1 215.2,472.1 215.9,472.2 216.6,472.2 217.3,472.2 218.1,472.3 218.8,472.3 219.5,472.3 220.2,472.3 220.9,472.4 221.6,472.4 222.3,472.4 223.0,472.4 223.8,472.4 224.5,472.5 225.2,472.5 225.9,472.5 226.6,472.5 227.3,472.5 228.0,472.6 228.7,472.6 229.4,472.6 230.2,472.6 230.9,472.6 231.6,472.6 232.3,472.6 233.0,472.7 233.7,472.7 234.4,472.7 235.2,472.7 235.9,472.7 236.6,472.7 237.3,472.7 238.0,472.7 238.7,472.8 239.4,472.8 240.1,472.8 240.9,472.8 241.6,472.8 242.3,472.8 243.0,472.8 243.7,472.8 244.4,472.8 245.1,472.9 245.8,472.9 246.6,472.9 247.3,472.9 248.0,472.9 248.7,472.9 249.4,472.9" fill="none" stroke="#74e274" stroke-width="1.4"/>
<path d="M106.9,474.8 107.6,474.8 108.3,474.8 109.0,474.8 109.8,474.8 110.5,474.8 111.2,474.8 111.9,474.8 112.6,474.8 113.3,474.8 114.0,474.8 114.7,474.8 115.5,474.8 116.2,474.8 116.9,474.8 117.6,474.8 118.3,474.8 119.0,474.8 119.7,474.8 120.4,474.8 121.2,474.8 121.9,474.8 122.6,474.8 123.3,474.8 124.0,474.8 124.7,474.8 125.4,474.8 126.1,474.8 126.9,474.8 127.6,474.8 128.3,474.8 129.0,474.8 129.7,474.8 130.4,474.8 131.1,474.8 131.8,474.7 132.6,474.7 133.3,474.7 134.0,474.7 134.7,474.7 135.4,474.7 136.1,474.7 136.8,474.7 137.5,474.7 138.2,474.7 139.0,474.6 139.7,474.6 140.4,474.6 141.1,474.6 141.8,474.6 142.5,474.5 143.2,474.5 144.0,474.5 144.7,474.5 145.4,474.4 146.1,474.4 146.8,474.4 147.5,474.3 148.2,474.3 148.9,474.2 149.7,474.2 150.4,474.1 151.1,474.1 151.8,474.0 152.5,473.9 153.2,473.9 153.9,473.8 154.6,473.7 155.4,473.6 156.1,473.6 156.8,473.5 157.5,473.4 158.2,473.3 158.9,473.2 159.6,473.1 160.3,472.9 161.1,472.8 161.8,472.7 162.5,472.6 163.2,472.4 163.9,472.3 164.6,472.2 165.3,472.0 166.0,471.9 166.8,471.7 167.5,471.6 168.2,471.4 168.9,471.2 169.6,471.1 170.3,470.9 171.0,470.7 171.7,470.6 172.4,470.4 173.2,470.2 173.9,470.1 174.6,469.9 175.3,469.7 176.0,469.6 176.7,469.4 177.4,469.2 178.2,469.1 178.9,468.9 179.6,468.8 180.3,468.7 181.0,468.5 181.7,468.4 182.4,468.3 183.1,468.1 183.9,468.0 184.6,467.9 185.3,467.8 186.0,467.8 186.7,467.7 187.4,467.6 188.1,467.6 188.8,467.5 189.6,467.5 190.3,467.5 191.0,467.5 191.7,467.5 192.4,467.5 193.1,467.5 193.8,467.5 194.5,467.6 195.2,467.7 196.0,467.7 196.7,467.8 197.4,467.9 198.1,468.1 198.8,468.2 199.5,468.3 200.2,468.5 200.9,468.6 201.7,468.8 202.4,468.9 203.1,469.1 203.8,469.3 204.5,469.5 205.2,469.6 205.9,469.8 206.7,470.0 207.4,470.2 208.1,470.3 208.8,470.5 209.5,470.7 210.2,470.9 210.9,471.0 211.6,471.2 212.4,471.4 213.1,471.5 213.8,471.7 214.5,471.8 215.2,472.0 215.9,472.1 216.6,472.2 217.3,472.4 218.1,472.5 218.8,472.6 219.5,472.7 220.2,472.9 220.9,473.0 221.6,473.1 222.3,473.2 223.0,473.3 223.8,473.3 224.5,473.4 225.2,473.5 225.9,473.6 226.6,473.6 227.3,473.7 228.0,473.8 228.7,473.8 229.4,473.9 230.2,473.9 230.9,474.0 231.6,474.0 232.3,474.1 233.0,474.1 233.7,474.1 234.4,474.2 235.2,474.2 235.9,474.2 236.6,474.3 237.3,474.3 238.0,474.3 238.7,474.3 239.4,474.3 240.1,474.4 240.9,474.4 241.6,474.4 242.3,474.4 243.0,474.4 243.7,474.4 244.4,474.5 245.1,474.5 245.8,474.5 246.6,474.5 247.3,474.5 248.0,474.5 248.7,474.5 249.4,474.5" fill="none" stroke="#5c58d2" stroke-width="1.4"/>
</g>
<rect x="106.9" y="365.4" width="142.50" height="113.80" fill="none" stroke="#111" stroke-width="1.6"/>
<line x1="106.90" y1="479.2" x2="106.90" y2="481.8" stroke="#111" stroke-width="1.1"/>
<line x1="106.90" y1="365.4" x2="106.90" y2="362.79999999999995" stroke="#111" stroke-width="1.1"/>
<line x1="124.71" y1="479.2" x2="124.71" y2="480.8" stroke="#111" stroke-width="1.1"/>
<line x1="124.71" y1="365.4" x2="124.71" y2="363.79999999999995" stroke="#111" stroke-width="1.1"/>
<line x1="142.53" y1="479.2" x2="142.53" y2="481.8" stroke="#111" stroke-width="1.1"/>
<line x1="142.53" y1="365.4" x2="142.53" y2="362.79999999999995" stroke="#111" stroke-width="1.1"/>
<line x1="160.34" y1="479.2" x2="160.34" y2="480.8" stroke="#111" stroke-width="1.1"/>
<line x1="160.34" y1="365.4" x2="160.34" y2="363.79999999999995" stroke="#111" stroke-width="1.1"/>
<line x1="178.15" y1="479.2" x2="178.15" y2="481.8" stroke="#111" stroke-width="1.1"/>
<line x1="178.15" y1="365.4" x2="178.15" y2="362.79999999999995" stroke="#111" stroke-width="1.1"/>
<line x1="195.96" y1="479.2" x2="195.96" y2="480.8" stroke="#111" stroke-width="1.1"/>
<line x1="195.96" y1="365.4" x2="195.96" y2="363.79999999999995" stroke="#111" stroke-width="1.1"/>
<line x1="213.78" y1="479.2" x2="213.78" y2="481.8" stroke="#111" stroke-width="1.1"/>
<line x1="213.78" y1="365.4" x2="213.78" y2="362.79999999999995" stroke="#111" stroke-width="1.1"/>
<line x1="231.59" y1="479.2" x2="231.59" y2="480.8" stroke="#111" stroke-width="1.1"/>
<line x1="231.59" y1="365.4" x2="231.59" y2="363.79999999999995" stroke="#111" stroke-width="1.1"/>
<line x1="249.40" y1="479.2" x2="249.40" y2="481.8" stroke="#111" stroke-width="1.1"/>
<line x1="249.40" y1="365.4" x2="249.40" y2="362.79999999999995" stroke="#111" stroke-width="1.1"/>
<text transform="translate(106.90,491.00) scale(1,1.15)" class="tk">700</text>
<text transform="translate(106.90,361.50) scale(1,1.15)" class="tk">1.771</text>
<text transform="translate(142.53,491.00) scale(1,1.15)" class="tk">750</text>
<text transform="translate(142.53,361.50) scale(1,1.15)" class="tk">1.653</text>
<text transform="translate(178.15,491.00) scale(1,1.15)" class="tk">800</text>
<text transform="translate(178.15,361.50) scale(1,1.15)" class="tk">1.550</text>
<text transform="translate(213.78,491.00) scale(1,1.15)" class="tk">850</text>
<text transform="translate(213.78,361.50) scale(1,1.15)" class="tk">1.459</text>
<text transform="translate(249.40,491.00) scale(1,1.15)" class="tk">900</text>
<text transform="translate(249.40,361.50) scale(1,1.15)" class="tk">1.378</text>
<text transform="translate(178.45,501.60) scale(1,1.02)" class="tw">Wavelength (nm)</text>
<text transform="translate(178.15,348.10) scale(1,1.0)" class="ti">Energy (eV)</text>
<text transform="translate(98.00,418.70) rotate(-90) scale(1,1.0)" class="yl">PL Intensity (a.u.)</text>
<text transform="translate(109.30,376.70) scale(1,1.0)" class="pl">(g)</text>
<line x1="200.40" y1="370.50" x2="216.40" y2="370.50" stroke="#ababab" stroke-width="1.3"/>
<text transform="translate(218.40,373.00) scale(1,1.1)" class="lg">120 K</text>
<line x1="200.40" y1="379.10" x2="216.40" y2="379.10" stroke="#f08a90" stroke-width="1.3"/>
<text transform="translate(218.40,381.60) scale(1,1.1)" class="lg">A<tspan class="sup" dy="-2.3">0</tspan></text>
<line x1="200.40" y1="387.90" x2="216.40" y2="387.90" stroke="#92ea92" stroke-width="1.3"/>
<text transform="translate(218.40,390.40) scale(1,1.1)" class="lg">A<tspan class="sup" dy="-2.3">-</tspan></text>
<line x1="200.40" y1="396.40" x2="216.40" y2="396.40" stroke="#7c7adc" stroke-width="1.3"/>
<text transform="translate(218.40,398.90) scale(1,1.1)" class="lg">D</text>
<line x1="200.40" y1="404.70" x2="216.40" y2="404.70" stroke="#a8eef0" stroke-width="1.3"/>
<text transform="translate(218.40,407.20) scale(1,1.1)" class="lg">Global Fit</text>
<g clip-path="url(#cliph)">
<path d="M281.8,473.6 282.5,473.6 283.2,473.5 283.9,473.5 284.6,473.5 285.4,473.4 286.1,473.4 286.8,473.4 287.5,473.3 288.2,473.3 288.9,473.2 289.6,473.2 290.3,473.1 291.0,473.0 291.8,473.0 292.5,472.9 293.2,472.8 293.9,472.7 294.6,472.7 295.3,472.6 296.0,472.5 296.7,472.4 297.5,472.2 298.2,472.1 298.9,472.0 299.6,471.8 300.3,471.7 301.0,471.5 301.7,471.3 302.4,471.1 303.1,470.9 303.9,470.7 304.6,470.4 305.3,470.1 306.0,469.8 306.7,469.5 307.4,469.1 308.1,468.6 308.8,468.1 309.5,467.6 310.3,467.0 311.0,466.3 311.7,465.4 312.4,464.5 313.1,463.4 313.8,462.0 314.5,460.5 315.2,458.6 316.0,456.4 316.7,453.9 317.4,451.0 318.1,447.7 318.8,444.1 319.5,440.3 320.2,436.3 320.9,432.6 321.6,429.2 322.4,426.5 323.1,424.6 323.8,423.0 324.5,420.9 325.2,417.8 325.9,413.0 326.6,406.6 327.3,398.7 328.0,389.8 328.8,381.5 329.5,375.6 330.2,374.1 330.9,375.9 331.6,379.8 332.3,385.2 333.0,391.6 333.7,398.4 334.5,405.1 335.2,411.5 335.9,417.4 336.6,422.7 337.3,427.4 338.0,431.5 338.7,435.2 339.4,438.3 340.1,441.1 340.9,443.6 341.6,445.7 342.3,447.6 343.0,449.3 343.7,450.8 344.4,452.1 345.1,453.3 345.8,454.3 346.5,455.3 347.3,456.2 348.0,457.0 348.7,457.7 349.4,458.4 350.1,459.0 350.8,459.6 351.5,460.1 352.2,460.7 353.0,461.2 353.7,461.6 354.4,462.1 355.1,462.5 355.8,462.9 356.5,463.3 357.2,463.6 357.9,464.0 358.6,464.3 359.4,464.7 360.1,465.0 360.8,465.3 361.5,465.6 362.2,465.9 362.9,466.2 363.6,466.4 364.3,466.7 365.0,467.0 365.8,467.2 366.5,467.5 367.2,467.7 367.9,467.9 368.6,468.2 369.3,468.4 370.0,468.6 370.7,468.8 371.4,469.0 372.2,469.2 372.9,469.4 373.6,469.6 374.3,469.8 375.0,469.9 375.7,470.1 376.4,470.3 377.1,470.4 377.9,470.6 378.6,470.7 379.3,470.9 380.0,471.0 380.7,471.2 381.4,471.3 382.1,471.4 382.8,471.5 383.5,471.7 384.3,471.8 385.0,471.9 385.7,472.0 386.4,472.1 387.1,472.2 387.8,472.3 388.5,472.4 389.2,472.5 389.9,472.5 390.7,472.6 391.4,472.7 392.1,472.8 392.8,472.8 393.5,472.9 394.2,473.0 394.9,473.0 395.6,473.1 396.4,473.1 397.1,473.2 397.8,473.2 398.5,473.3 399.2,473.3 399.9,473.4 400.6,473.4 401.3,473.4 402.0,473.5 402.8,473.5 403.5,473.5 404.2,473.6 404.9,473.6 405.6,473.6 406.3,473.7 407.0,473.7 407.7,473.7 408.4,473.7 409.2,473.8 409.9,473.8 410.6,473.8 411.3,473.8 412.0,473.8 412.7,473.9 413.4,473.9 414.1,473.9 414.9,473.9 415.6,473.9 416.3,473.9 417.0,474.0 417.7,474.0 418.4,474.0 419.1,474.0 419.8,474.0 420.5,474.0 421.3,474.0 422.0,474.0 422.7,474.1 423.4,474.1 424.1,474.1" fill="none" stroke="#b4f1f4" stroke-width="3.0"/>
<path d="M281.8,473.6 282.5,473.6 283.2,473.5 283.9,473.5 284.6,473.5 285.4,473.4 286.1,473.4 286.8,473.4 287.5,473.3 288.2,473.3 288.9,473.2 289.6,473.2 290.3,473.1 291.0,473.0 291.8,473.0 292.5,472.9 293.2,472.8 293.9,472.7 294.6,472.7 295.3,472.6 296.0,472.5 296.7,472.4 297.5,472.2 298.2,472.1 298.9,472.0 299.6,471.8 300.3,471.7 301.0,471.5 301.7,471.3 302.4,471.1 303.1,470.9 303.9,470.7 304.6,470.4 305.3,470.1 306.0,469.8 306.7,469.5 307.4,469.1 308.1,468.6 308.8,468.1 309.5,467.6 310.3,467.0 311.0,466.3 311.7,465.4 312.4,464.5 313.1,463.4 313.8,462.0 314.5,460.5 315.2,458.6 316.0,456.4 316.7,453.9 317.4,451.0 318.1,447.7 318.8,444.1 319.5,440.3 320.2,436.3 320.9,432.6 321.6,429.2 322.4,426.5 323.1,424.6 323.8,423.0 324.5,420.9 325.2,417.8 325.9,413.0 326.6,406.6 327.3,398.7 328.0,389.8 328.8,381.5 329.5,375.6 330.2,374.1 330.9,375.9 331.6,379.8 332.3,385.2 333.0,391.6 333.7,398.4 334.5,405.1 335.2,411.5 335.9,417.4 336.6,422.7 337.3,427.4 338.0,431.5 338.7,435.2 339.4,438.3 340.1,441.1 340.9,443.6 341.6,445.7 342.3,447.6 343.0,449.3 343.7,450.8 344.4,452.1 345.1,453.3 345.8,454.3 346.5,455.3 347.3,456.2 348.0,457.0 348.7,457.7 349.4,458.4 350.1,459.0 350.8,459.6 351.5,460.1 352.2,460.7 353.0,461.2 353.7,461.6 354.4,462.1 355.1,462.5 355.8,462.9 356.5,463.3 357.2,463.6 357.9,464.0 358.6,464.3 359.4,464.7 360.1,465.0 360.8,465.3 361.5,465.6 362.2,465.9 362.9,466.2 363.6,466.4 364.3,466.7 365.0,467.0 365.8,467.2 366.5,467.5 367.2,467.7 367.9,467.9 368.6,468.2 369.3,468.4 370.0,468.6 370.7,468.8 371.4,469.0 372.2,469.2 372.9,469.4 373.6,469.6 374.3,469.8 375.0,469.9 375.7,470.1 376.4,470.3 377.1,470.4 377.9,470.6 378.6,470.7 379.3,470.9 380.0,471.0 380.7,471.2 381.4,471.3 382.1,471.4 382.8,471.5 383.5,471.7 384.3,471.8 385.0,471.9 385.7,472.0 386.4,472.1 387.1,472.2 387.8,472.3 388.5,472.4 389.2,472.5 389.9,472.5 390.7,472.6 391.4,472.7 392.1,472.8 392.8,472.8 393.5,472.9 394.2,473.0 394.9,473.0 395.6,473.1 396.4,473.1 397.1,473.2 397.8,473.2 398.5,473.3 399.2,473.3 399.9,473.4 400.6,473.4 401.3,473.4 402.0,473.5 402.8,473.5 403.5,473.5 404.2,473.6 404.9,473.6 405.6,473.6 406.3,473.7 407.0,473.7 407.7,473.7 408.4,473.7 409.2,473.8 409.9,473.8 410.6,473.8 411.3,473.8 412.0,473.8 412.7,473.9 413.4,473.9 414.1,473.9 414.9,473.9 415.6,473.9 416.3,473.9 417.0,474.0 417.7,474.0 418.4,474.0 419.1,474.0 419.8,474.0 420.5,474.0 421.3,474.0 422.0,474.0 422.7,474.1 423.4,474.1 424.1,474.1" fill="none" stroke="#40c0cc" stroke-width="1.5"/>
<path d="M281.8,473.5 282.5,473.8 283.2,473.8 283.9,473.3 284.6,473.4 285.4,473.5 286.1,473.6 286.8,473.7 287.5,473.0 288.2,473.3 288.9,473.1 289.6,472.9 290.3,473.2 291.0,473.2 291.8,473.2 292.5,473.1 293.2,472.9 293.9,473.0 294.6,473.0 295.3,472.4 296.0,472.7 296.7,472.4 297.5,472.1 298.2,471.9 298.9,472.1 299.6,472.0 300.3,471.7 301.0,471.6 301.7,471.2 302.4,471.3 303.1,471.1 303.9,470.5 304.6,470.5 305.3,470.4 306.0,469.9 306.7,469.5 307.4,469.1 308.1,468.5 308.8,468.3 309.5,467.6 310.3,467.2 311.0,466.0 311.7,465.3 312.4,464.6 313.1,463.4 313.8,462.1 314.5,460.6 315.2,458.9 316.0,456.6 316.7,453.9 317.4,450.9 318.1,447.7 318.8,444.1 319.5,440.3 320.2,436.5 320.9,432.8 321.6,429.4 322.4,426.3 323.1,424.8 323.8,422.8 324.5,421.2 325.2,417.6 325.9,413.3 326.6,406.6 327.3,398.5 328.0,389.7 328.8,381.6 329.5,375.9 330.2,373.8 330.9,375.8 331.6,379.7 332.3,385.2 333.0,391.5 333.7,398.5 334.5,404.8 335.2,411.4 335.9,417.6 336.6,422.8 337.3,427.4 338.0,431.5 338.7,435.5 339.4,438.1 340.1,441.4 340.9,443.7 341.6,445.5 342.3,447.8 343.0,449.2 343.7,450.9 344.4,452.3 345.1,453.5 345.8,454.4 346.5,455.1 347.3,456.1 348.0,456.7 348.7,458.0 349.4,458.4 350.1,458.9 350.8,459.4 351.5,460.3 352.2,460.4 353.0,460.9 353.7,461.4 354.4,462.2 355.1,462.7 355.8,463.1 356.5,463.1 357.2,463.7 357.9,464.1 358.6,464.6 359.4,464.7 360.1,464.8 360.8,465.3 361.5,465.5 362.2,465.8 362.9,465.9 363.6,466.5 364.3,466.6 365.0,466.8 365.8,467.2 366.5,467.3 367.2,467.5 367.9,467.7 368.6,468.0 369.3,468.3 370.0,468.9 370.7,468.5 371.4,469.0 372.2,469.2 372.9,469.2 373.6,469.5 374.3,469.9 375.0,469.7 375.7,469.9 376.4,470.3 377.1,470.3 377.9,470.7 378.6,470.7 379.3,470.8 380.0,471.2 380.7,471.1 381.4,471.5 382.1,471.5 382.8,471.5 383.5,471.9 384.3,471.8 385.0,472.1 385.7,472.0 386.4,471.8 387.1,472.1 387.8,472.5 388.5,472.2 389.2,472.2 389.9,472.4 390.7,472.3 391.4,472.4 392.1,472.9 392.8,473.0 393.5,473.1 394.2,473.0 394.9,473.1 395.6,472.9 396.4,473.2 397.1,473.0 397.8,473.0 398.5,473.2 399.2,473.5 399.9,473.1 400.6,473.2 401.3,473.2 402.0,473.4 402.8,473.4 403.5,473.6 404.2,473.7 404.9,473.6 405.6,473.5 406.3,473.6 407.0,473.5 407.7,473.5 408.4,473.5 409.2,473.6 409.9,473.9 410.6,473.8 411.3,473.6 412.0,474.1 412.7,473.7 413.4,473.6 414.1,473.7 414.9,473.8 415.6,474.0 416.3,473.7 417.0,474.1 417.7,473.8 418.4,473.7 419.1,474.1 419.8,473.9 420.5,473.9 421.3,474.3 422.0,473.8 422.7,474.1 423.4,473.8 424.1,474.2" fill="none" stroke="#1e3434" stroke-width="1.0" stroke-opacity="0.3"/>
<path d="M332.3,385.4 333.0,391.0 333.7,398.5 334.5,405.2 335.2,411.5 335.9,417.1 336.6,422.7 337.3,428.0 338.0,431.7 338.7,435.5 339.4,438.3 340.1,441.4 340.9,443.6 341.6,446.0 342.3,447.9 343.0,449.8 343.7,450.8 344.4,452.3 345.1,453.5 345.8,454.5 346.5,455.6 347.3,455.6 348.0,456.9 348.7,458.0 349.4,457.9 350.1,458.5 350.8,459.5 351.5,460.2 352.2,461.0 353.0,461.4 353.7,461.4 354.4,462.4 355.1,462.3 355.8,462.5 356.5,463.0 357.2,463.5 357.9,463.7 358.6,464.3 359.4,464.4 360.1,464.6 360.8,465.2 361.5,465.7 362.2,466.2 362.9,466.7 363.6,466.6 364.3,466.9 365.0,467.5 365.8,467.7 366.5,467.4 367.2,467.6 367.9,468.2 368.6,467.7 369.3,468.6 370.0,468.8 370.7,468.4 371.4,468.5 372.2,469.6 372.9,469.4 373.6,469.0 374.3,469.6 375.0,469.8 375.7,470.3 376.4,470.0 377.1,469.9 377.9,470.3 378.6,471.1 379.3,471.3 380.0,470.9 380.7,470.9 381.4,471.5 382.1,470.9 382.8,471.9 383.5,471.3 384.3,471.4 385.0,472.1 385.7,472.5 386.4,472.0 387.1,472.4 387.8,472.2 388.5,471.9 389.2,472.7 389.9,472.2 390.7,472.4 391.4,472.9 392.1,472.2 392.8,473.3 393.5,473.1 394.2,472.7 394.9,473.0 395.6,473.6 396.4,473.4 397.1,473.0 397.8,473.2 398.5,473.3 399.2,473.5 399.9,473.6 400.6,473.9 401.3,473.5 402.0,473.3 402.8,473.4 403.5,473.1 404.2,473.1 404.9,473.3 405.6,473.9 406.3,473.1 407.0,473.2 407.7,473.9 408.4,474.3 409.2,473.8 409.9,473.6 410.6,474.0 411.3,473.9 412.0,473.6 412.7,474.2 413.4,473.4 414.1,474.3 414.9,473.7 415.6,474.1 416.3,473.6 417.0,473.8 417.7,474.3 418.4,474.3 419.1,474.6 419.8,474.6 420.5,474.1 421.3,474.0 422.0,474.3 422.7,473.5 423.4,474.5 424.1,474.6" fill="none" stroke="#1a2a2a" stroke-width="0.9" stroke-dasharray="0.7 1.9" stroke-opacity="0.55"/>
<path d="M281.8,474.6 282.5,474.6 283.2,474.6 283.9,474.6 284.6,474.6 285.4,474.6 286.1,474.6 286.8,474.6 287.5,474.6 288.2,474.6 288.9,474.6 289.6,474.6 290.3,474.6 291.0,474.6 291.8,474.6 292.5,474.6 293.2,474.5 293.9,474.5 294.6,474.5 295.3,474.5 296.0,474.5 296.7,474.5 297.5,474.5 298.2,474.5 298.9,474.5 299.6,474.5 300.3,474.5 301.0,474.5 301.7,474.5 302.4,474.5 303.1,474.5 303.9,474.4 304.6,474.4 305.3,474.4 306.0,474.4 306.7,474.4 307.4,474.3 308.1,474.3 308.8,474.3 309.5,474.2 310.3,474.2 311.0,474.1 311.7,474.0 312.4,473.9 313.1,473.8 313.8,473.6 314.5,473.4 315.2,473.0 316.0,472.2 316.7,471.0 317.4,468.9 318.1,465.8 318.8,461.7 319.5,457.1 320.2,453.2 320.9,451.6 321.6,454.1 322.4,459.7 323.1,465.1 323.8,469.1 324.5,471.4 325.2,472.6 325.9,473.3 326.6,473.6 327.3,473.8 328.0,474.0 328.8,474.1 329.5,474.1 330.2,474.2 330.9,474.3 331.6,474.3 332.3,474.3 333.0,474.4 333.7,474.4 334.5,474.4 335.2,474.4 335.9,474.5 336.6,474.5 337.3,474.5 338.0,474.5 338.7,474.5 339.4,474.5 340.1,474.5 340.9,474.5 341.6,474.5 342.3,474.5 343.0,474.5 343.7,474.5 344.4,474.6 345.1,474.6 345.8,474.6 346.5,474.6 347.3,474.6 348.0,474.6 348.7,474.6 349.4,474.6 350.1,474.6 350.8,474.6 351.5,474.6 352.2,474.6 353.0,474.6 353.7,474.6 354.4,474.6 355.1,474.6 355.8,474.6 356.5,474.6 357.2,474.6 357.9,474.6 358.6,474.6 359.4,474.6 360.1,474.6 360.8,474.6 361.5,474.6 362.2,474.6 362.9,474.6 363.6,474.6 364.3,474.6 365.0,474.6 365.8,474.6 366.5,474.6 367.2,474.6 367.9,474.6 368.6,474.6 369.3,474.6 370.0,474.6 370.7,474.6 371.4,474.6 372.2,474.6 372.9,474.6 373.6,474.6 374.3,474.6 375.0,474.6 375.7,474.6 376.4,474.6 377.1,474.6 377.9,474.6 378.6,474.6 379.3,474.6 380.0,474.6 380.7,474.6 381.4,474.6 382.1,474.6 382.8,474.6 383.5,474.6 384.3,474.6 385.0,474.6 385.7,474.6 386.4,474.6 387.1,474.6 387.8,474.6 388.5,474.6 389.2,474.6 389.9,474.6 390.7,474.6 391.4,474.6 392.1,474.6 392.8,474.6 393.5,474.6 394.2,474.6 394.9,474.6 395.6,474.6 396.4,474.6 397.1,474.6 397.8,474.6 398.5,474.6 399.2,474.6 399.9,474.6 400.6,474.6 401.3,474.6 402.0,474.6 402.8,474.6 403.5,474.6 404.2,474.6 404.9,474.6 405.6,474.6 406.3,474.6 407.0,474.6 407.7,474.6 408.4,474.6 409.2,474.6 409.9,474.6 410.6,474.6 411.3,474.6 412.0,474.6 412.7,474.6 413.4,474.6 414.1,474.6 414.9,474.6 415.6,474.6 416.3,474.6 417.0,474.6 417.7,474.6 418.4,474.6 419.1,474.6 419.8,474.6 420.5,474.6 421.3,474.6 422.0,474.6 422.7,474.6 423.4,474.6 424.1,474.6" fill="none" stroke="#e2626c" stroke-width="1.4"/>
<path d="M281.8,473.6 282.5,473.5 283.2,473.5 283.9,473.5 284.6,473.5 285.4,473.4 286.1,473.4 286.8,473.4 287.5,473.3 288.2,473.3 288.9,473.3 289.6,473.2 290.3,473.2 291.0,473.2 291.8,473.1 292.5,473.1 293.2,473.0 293.9,473.0 294.6,472.9 295.3,472.9 296.0,472.8 296.7,472.7 297.5,472.7 298.2,472.6 298.9,472.5 299.6,472.4 300.3,472.4 301.0,472.3 301.7,472.2 302.4,472.1 303.1,471.9 303.9,471.8 304.6,471.7 305.3,471.5 306.0,471.4 306.7,471.2 307.4,471.0 308.1,470.8 308.8,470.6 309.5,470.4 310.3,470.1 311.0,469.8 311.7,469.5 312.4,469.1 313.1,468.7 313.8,468.3 314.5,467.8 315.2,467.2 316.0,466.6 316.7,465.9 317.4,465.1 318.1,464.1 318.8,463.0 319.5,461.7 320.2,460.2 320.9,458.3 321.6,456.1 322.4,453.5 323.1,450.3 323.8,446.5 324.5,441.9 325.2,436.4 325.9,429.9 326.6,422.4 327.3,413.9 328.0,404.7 328.8,395.4 329.5,387.1 330.2,381.1 330.9,378.7 331.6,379.8 332.3,383.2 333.0,388.6 333.7,395.3 334.5,402.5 335.2,409.9 335.9,416.9 336.6,423.4 337.3,429.3 338.0,434.6 338.7,439.2 339.4,443.2 340.1,446.8 340.9,449.8 341.6,452.4 342.3,454.7 343.0,456.6 343.7,458.3 344.4,459.8 345.1,461.1 345.8,462.2 346.5,463.2 347.3,464.0 348.0,464.8 348.7,465.5 349.4,466.1 350.1,466.7 350.8,467.2 351.5,467.6 352.2,468.0 353.0,468.4 353.7,468.7 354.4,469.1 355.1,469.3 355.8,469.6 356.5,469.9 357.2,470.1 357.9,470.3 358.6,470.5 359.4,470.7 360.1,470.8 360.8,471.0 361.5,471.2 362.2,471.3 362.9,471.4 363.6,471.5 364.3,471.7 365.0,471.8 365.8,471.9 366.5,472.0 367.2,472.1 367.9,472.1 368.6,472.2 369.3,472.3 370.0,472.4 370.7,472.4 371.4,472.5 372.2,472.6 372.9,472.6 373.6,472.7 374.3,472.7 375.0,472.8 375.7,472.8 376.4,472.9 377.1,472.9 377.9,473.0 378.6,473.0 379.3,473.0 380.0,473.1 380.7,473.1 381.4,473.1 382.1,473.2 382.8,473.2 383.5,473.2 384.3,473.3 385.0,473.3 385.7,473.3 386.4,473.4 387.1,473.4 387.8,473.4 388.5,473.4 389.2,473.4 389.9,473.5 390.7,473.5 391.4,473.5 392.1,473.5 392.8,473.5 393.5,473.6 394.2,473.6 394.9,473.6 395.6,473.6 396.4,473.6 397.1,473.6 397.8,473.7 398.5,473.7 399.2,473.7 399.9,473.7 400.6,473.7 401.3,473.7 402.0,473.7 402.8,473.8 403.5,473.8 404.2,473.8 404.9,473.8 405.6,473.8 406.3,473.8 407.0,473.8 407.7,473.8 408.4,473.8 409.2,473.8 409.9,473.9 410.6,473.9 411.3,473.9 412.0,473.9 412.7,473.9 413.4,473.9 414.1,473.9 414.9,473.9 415.6,473.9 416.3,473.9 417.0,473.9 417.7,473.9 418.4,473.9 419.1,473.9 419.8,474.0 420.5,474.0 421.3,474.0 422.0,474.0 422.7,474.0 423.4,474.0 424.1,474.0" fill="none" stroke="#74e274" stroke-width="1.4"/>
<path d="M281.8,474.7 282.5,474.7 283.2,474.6 283.9,474.6 284.6,474.6 285.4,474.6 286.1,474.6 286.8,474.6 287.5,474.6 288.2,474.5 288.9,474.5 289.6,474.5 290.3,474.5 291.0,474.4 291.8,474.4 292.5,474.4 293.2,474.4 293.9,474.3 294.6,474.3 295.3,474.3 296.0,474.2 296.7,474.2 297.5,474.1 298.2,474.1 298.9,474.0 299.6,474.0 300.3,473.9 301.0,473.9 301.7,473.8 302.4,473.8 303.1,473.7 303.9,473.6 304.6,473.6 305.3,473.5 306.0,473.4 306.7,473.3 307.4,473.2 308.1,473.1 308.8,473.0 309.5,472.9 310.3,472.8 311.0,472.7 311.7,472.6 312.4,472.5 313.1,472.4 313.8,472.3 314.5,472.1 315.2,472.0 316.0,471.9 316.7,471.7 317.4,471.6 318.1,471.5 318.8,471.3 319.5,471.1 320.2,471.0 320.9,470.8 321.6,470.7 322.4,470.5 323.1,470.3 323.8,470.1 324.5,470.0 325.2,469.8 325.9,469.6 326.6,469.4 327.3,469.2 328.0,469.0 328.8,468.8 329.5,468.6 330.2,468.5 330.9,468.3 331.6,468.1 332.3,467.9 333.0,467.7 333.7,467.5 334.5,467.3 335.2,467.1 335.9,466.9 336.6,466.7 337.3,466.5 338.0,466.4 338.7,466.2 339.4,466.0 340.1,465.8 340.9,465.7 341.6,465.5 342.3,465.4 343.0,465.2 343.7,465.1 344.4,464.9 345.1,464.8 345.8,464.7 346.5,464.6 347.3,464.5 348.0,464.4 348.7,464.3 349.4,464.2 350.1,464.2 350.8,464.1 351.5,464.0 352.2,464.0 353.0,464.0 353.7,464.0 354.4,463.9 355.1,464.0 355.8,464.0 356.5,464.1 357.2,464.2 357.9,464.4 358.6,464.7 359.4,464.9 360.1,465.2 360.8,465.5 361.5,465.8 362.2,466.1 362.9,466.4 363.6,466.8 364.3,467.1 365.0,467.4 365.8,467.8 366.5,468.1 367.2,468.4 367.9,468.7 368.6,469.0 369.3,469.2 370.0,469.5 370.7,469.7 371.4,470.0 372.2,470.2 372.9,470.4 373.6,470.6 374.3,470.8 375.0,471.0 375.7,471.2 376.4,471.3 377.1,471.5 377.9,471.6 378.6,471.7 379.3,471.9 380.0,472.0 380.7,472.1 381.4,472.2 382.1,472.3 382.8,472.4 383.5,472.5 384.3,472.6 385.0,472.7 385.7,472.8 386.4,472.9 387.1,472.9 387.8,473.0 388.5,473.1 389.2,473.1 389.9,473.2 390.7,473.2 391.4,473.3 392.1,473.4 392.8,473.4 393.5,473.5 394.2,473.5 394.9,473.5 395.6,473.6 396.4,473.6 397.1,473.7 397.8,473.7 398.5,473.7 399.2,473.8 399.9,473.8 400.6,473.8 401.3,473.9 402.0,473.9 402.8,473.9 403.5,473.9 404.2,474.0 404.9,474.0 405.6,474.0 406.3,474.0 407.0,474.1 407.7,474.1 408.4,474.1 409.2,474.1 409.9,474.1 410.6,474.2 411.3,474.2 412.0,474.2 412.7,474.2 413.4,474.2 414.1,474.2 414.9,474.2 415.6,474.3 416.3,474.3 417.0,474.3 417.7,474.3 418.4,474.3 419.1,474.3 419.8,474.3 420.5,474.4 421.3,474.4 422.0,474.4 422.7,474.4 423.4,474.4 424.1,474.4" fill="none" stroke="#5c58d2" stroke-width="1.4"/>
</g>
<rect x="281.8" y="365.8" width="142.30" height="113.40" fill="none" stroke="#111" stroke-width="1.6"/>
<line x1="281.80" y1="479.2" x2="281.80" y2="481.8" stroke="#111" stroke-width="1.1"/>
<line x1="281.80" y1="365.8" x2="281.80" y2="363.2" stroke="#111" stroke-width="1.1"/>
<line x1="299.59" y1="479.2" x2="299.59" y2="480.8" stroke="#111" stroke-width="1.1"/>
<line x1="299.59" y1="365.8" x2="299.59" y2="364.2" stroke="#111" stroke-width="1.1"/>
<line x1="317.38" y1="479.2" x2="317.38" y2="481.8" stroke="#111" stroke-width="1.1"/>
<line x1="317.38" y1="365.8" x2="317.38" y2="363.2" stroke="#111" stroke-width="1.1"/>
<line x1="335.16" y1="479.2" x2="335.16" y2="480.8" stroke="#111" stroke-width="1.1"/>
<line x1="335.16" y1="365.8" x2="335.16" y2="364.2" stroke="#111" stroke-width="1.1"/>
<line x1="352.95" y1="479.2" x2="352.95" y2="481.8" stroke="#111" stroke-width="1.1"/>
<line x1="352.95" y1="365.8" x2="352.95" y2="363.2" stroke="#111" stroke-width="1.1"/>
<line x1="370.74" y1="479.2" x2="370.74" y2="480.8" stroke="#111" stroke-width="1.1"/>
<line x1="370.74" y1="365.8" x2="370.74" y2="364.2" stroke="#111" stroke-width="1.1"/>
<line x1="388.53" y1="479.2" x2="388.53" y2="481.8" stroke="#111" stroke-width="1.1"/>
<line x1="388.53" y1="365.8" x2="388.53" y2="363.2" stroke="#111" stroke-width="1.1"/>
<line x1="406.31" y1="479.2" x2="406.31" y2="480.8" stroke="#111" stroke-width="1.1"/>
<line x1="406.31" y1="365.8" x2="406.31" y2="364.2" stroke="#111" stroke-width="1.1"/>
<line x1="424.10" y1="479.2" x2="424.10" y2="481.8" stroke="#111" stroke-width="1.1"/>
<line x1="424.10" y1="365.8" x2="424.10" y2="363.2" stroke="#111" stroke-width="1.1"/>
<text transform="translate(281.80,491.00) scale(1,1.15)" class="tk">700</text>
<text transform="translate(281.80,361.90) scale(1,1.15)" class="tk">1.771</text>
<text transform="translate(317.38,491.00) scale(1,1.15)" class="tk">750</text>
<text transform="translate(317.38,361.90) scale(1,1.15)" class="tk">1.653</text>
<text transform="translate(352.95,491.00) scale(1,1.15)" class="tk">800</text>
<text transform="translate(352.95,361.90) scale(1,1.15)" class="tk">1.550</text>
<text transform="translate(388.53,491.00) scale(1,1.15)" class="tk">850</text>
<text transform="translate(388.53,361.90) scale(1,1.15)" class="tk">1.459</text>
<text transform="translate(424.10,491.00) scale(1,1.15)" class="tk">900</text>
<text transform="translate(424.10,361.90) scale(1,1.15)" class="tk">1.378</text>
<text transform="translate(353.25,501.60) scale(1,1.02)" class="tw">Wavelength (nm)</text>
<text transform="translate(352.95,348.50) scale(1,1.0)" class="ti">Energy (eV)</text>
<text transform="translate(271.80,418.90) rotate(-90) scale(1,1.0)" class="yl">PL Intensity (a.u.)</text>
<text transform="translate(285.10,377.40) scale(1,1.0)" class="pl">(h)</text>
<line x1="375.10" y1="370.90" x2="391.10" y2="370.90" stroke="#ababab" stroke-width="1.3"/>
<text transform="translate(393.10,373.40) scale(1,1.1)" class="lg">90 K</text>
<line x1="375.10" y1="379.50" x2="391.10" y2="379.50" stroke="#f08a90" stroke-width="1.3"/>
<text transform="translate(393.10,382.00) scale(1,1.1)" class="lg">A<tspan class="sup" dy="-2.3">0</tspan></text>
<line x1="375.10" y1="388.30" x2="391.10" y2="388.30" stroke="#92ea92" stroke-width="1.3"/>
<text transform="translate(393.10,390.80) scale(1,1.1)" class="lg">A<tspan class="sup" dy="-2.3">-</tspan></text>
<line x1="375.10" y1="396.80" x2="391.10" y2="396.80" stroke="#7c7adc" stroke-width="1.3"/>
<text transform="translate(393.10,399.30) scale(1,1.1)" class="lg">D</text>
<line x1="375.10" y1="405.10" x2="391.10" y2="405.10" stroke="#a8eef0" stroke-width="1.3"/>
<text transform="translate(393.10,407.60) scale(1,1.1)" class="lg">Global Fit</text>
</svg>
</body></html>
